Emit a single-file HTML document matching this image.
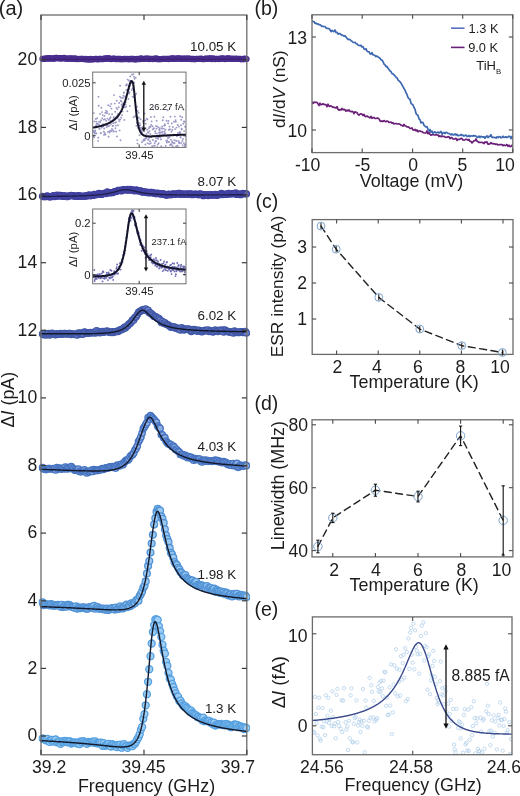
<!DOCTYPE html>
<html><head><meta charset="utf-8"><title>Figure</title><style>html,body{margin:0;padding:0;background:#fff;}svg{display:block;}</style></head><body>
<svg width="520" height="796" viewBox="0 0 520 796" font-family="'Liberation Sans', Arial, Helvetica, sans-serif">
<rect width="520" height="796" fill="#ffffff"/>
<defs><clipPath id="ca"><rect x="38.5" y="15" width="211.5" height="739.8"/></clipPath></defs>
<g clip-path="url(#ca)">
<g fill="#5e44a6" stroke="#4a2c8e" stroke-width="1.3"><circle cx="42.5" cy="58.8" r="2.5"/><circle cx="43.7" cy="58.8" r="2.5"/><circle cx="44.9" cy="58.7" r="2.5"/><circle cx="46.1" cy="58.4" r="2.5"/><circle cx="47.3" cy="58.7" r="2.5"/><circle cx="48.5" cy="58.1" r="2.5"/><circle cx="49.7" cy="58.5" r="2.5"/><circle cx="50.9" cy="58.4" r="2.5"/><circle cx="52.1" cy="58.4" r="2.5"/><circle cx="53.3" cy="58.6" r="2.5"/><circle cx="54.5" cy="58.5" r="2.5"/><circle cx="55.7" cy="58.0" r="2.5"/><circle cx="56.9" cy="57.9" r="2.5"/><circle cx="58.1" cy="58.4" r="2.5"/><circle cx="59.3" cy="58.1" r="2.5"/><circle cx="60.5" cy="58.3" r="2.5"/><circle cx="61.7" cy="58.5" r="2.5"/><circle cx="62.9" cy="58.1" r="2.5"/><circle cx="64.1" cy="58.0" r="2.5"/><circle cx="65.3" cy="58.6" r="2.5"/><circle cx="66.5" cy="58.6" r="2.5"/><circle cx="67.7" cy="58.6" r="2.5"/><circle cx="68.9" cy="58.7" r="2.5"/><circle cx="70.1" cy="58.5" r="2.5"/><circle cx="71.3" cy="58.4" r="2.5"/><circle cx="72.5" cy="58.8" r="2.5"/><circle cx="73.7" cy="58.6" r="2.5"/><circle cx="74.9" cy="58.5" r="2.5"/><circle cx="76.1" cy="59.0" r="2.5"/><circle cx="77.3" cy="58.9" r="2.5"/><circle cx="78.5" cy="59.1" r="2.5"/><circle cx="79.7" cy="58.8" r="2.5"/><circle cx="80.9" cy="58.9" r="2.5"/><circle cx="82.1" cy="58.9" r="2.5"/><circle cx="83.3" cy="58.9" r="2.5"/><circle cx="84.5" cy="59.2" r="2.5"/><circle cx="85.7" cy="59.0" r="2.5"/><circle cx="86.9" cy="59.3" r="2.5"/><circle cx="88.1" cy="59.3" r="2.5"/><circle cx="89.3" cy="59.6" r="2.5"/><circle cx="90.5" cy="58.9" r="2.5"/><circle cx="91.7" cy="59.4" r="2.5"/><circle cx="92.9" cy="59.2" r="2.5"/><circle cx="94.1" cy="59.2" r="2.5"/><circle cx="95.3" cy="58.9" r="2.5"/><circle cx="96.5" cy="59.0" r="2.5"/><circle cx="97.7" cy="59.3" r="2.5"/><circle cx="98.9" cy="59.0" r="2.5"/><circle cx="100.1" cy="59.0" r="2.5"/><circle cx="101.3" cy="58.9" r="2.5"/><circle cx="102.5" cy="59.2" r="2.5"/><circle cx="103.7" cy="58.9" r="2.5"/><circle cx="104.9" cy="58.5" r="2.5"/><circle cx="106.1" cy="58.7" r="2.5"/><circle cx="107.3" cy="58.5" r="2.5"/><circle cx="108.5" cy="58.2" r="2.5"/><circle cx="109.7" cy="58.7" r="2.5"/><circle cx="110.9" cy="59.1" r="2.5"/><circle cx="112.1" cy="58.9" r="2.5"/><circle cx="113.3" cy="58.6" r="2.5"/><circle cx="114.5" cy="58.7" r="2.5"/><circle cx="115.7" cy="59.1" r="2.5"/><circle cx="116.9" cy="59.0" r="2.5"/><circle cx="118.1" cy="58.9" r="2.5"/><circle cx="119.3" cy="59.0" r="2.5"/><circle cx="120.5" cy="59.0" r="2.5"/><circle cx="121.7" cy="59.2" r="2.5"/><circle cx="122.9" cy="59.1" r="2.5"/><circle cx="124.1" cy="59.0" r="2.5"/><circle cx="125.3" cy="58.8" r="2.5"/><circle cx="126.5" cy="59.1" r="2.5"/><circle cx="127.7" cy="58.9" r="2.5"/><circle cx="128.9" cy="59.3" r="2.5"/><circle cx="130.1" cy="58.8" r="2.5"/><circle cx="131.3" cy="59.0" r="2.5"/><circle cx="132.5" cy="59.0" r="2.5"/><circle cx="133.7" cy="58.8" r="2.5"/><circle cx="134.9" cy="59.4" r="2.5"/><circle cx="136.1" cy="59.3" r="2.5"/><circle cx="137.3" cy="58.9" r="2.5"/><circle cx="138.5" cy="59.1" r="2.5"/><circle cx="139.7" cy="59.0" r="2.5"/><circle cx="140.9" cy="58.4" r="2.5"/><circle cx="142.1" cy="58.9" r="2.5"/><circle cx="143.3" cy="58.8" r="2.5"/><circle cx="144.5" cy="58.8" r="2.5"/><circle cx="145.7" cy="58.6" r="2.5"/><circle cx="146.9" cy="58.7" r="2.5"/><circle cx="148.1" cy="58.7" r="2.5"/><circle cx="149.3" cy="59.0" r="2.5"/><circle cx="150.5" cy="58.9" r="2.5"/><circle cx="151.7" cy="58.8" r="2.5"/><circle cx="152.9" cy="59.1" r="2.5"/><circle cx="154.1" cy="58.7" r="2.5"/><circle cx="155.3" cy="58.8" r="2.5"/><circle cx="156.5" cy="58.5" r="2.5"/><circle cx="157.7" cy="59.2" r="2.5"/><circle cx="158.9" cy="59.1" r="2.5"/><circle cx="160.1" cy="59.1" r="2.5"/><circle cx="161.3" cy="59.1" r="2.5"/><circle cx="162.5" cy="58.9" r="2.5"/><circle cx="163.7" cy="58.9" r="2.5"/><circle cx="164.9" cy="58.8" r="2.5"/><circle cx="166.1" cy="58.8" r="2.5"/><circle cx="167.3" cy="58.8" r="2.5"/><circle cx="168.5" cy="59.0" r="2.5"/><circle cx="169.7" cy="58.8" r="2.5"/><circle cx="170.9" cy="58.7" r="2.5"/><circle cx="172.1" cy="58.5" r="2.5"/><circle cx="173.3" cy="58.5" r="2.5"/><circle cx="174.5" cy="58.9" r="2.5"/><circle cx="175.7" cy="58.7" r="2.5"/><circle cx="176.9" cy="58.6" r="2.5"/><circle cx="178.1" cy="58.5" r="2.5"/><circle cx="179.3" cy="58.4" r="2.5"/><circle cx="180.5" cy="58.6" r="2.5"/><circle cx="181.7" cy="58.9" r="2.5"/><circle cx="182.9" cy="58.6" r="2.5"/><circle cx="184.1" cy="58.7" r="2.5"/><circle cx="185.3" cy="58.7" r="2.5"/><circle cx="186.5" cy="58.8" r="2.5"/><circle cx="187.7" cy="58.5" r="2.5"/><circle cx="188.9" cy="58.8" r="2.5"/><circle cx="190.1" cy="58.7" r="2.5"/><circle cx="191.3" cy="59.1" r="2.5"/><circle cx="192.5" cy="58.8" r="2.5"/><circle cx="193.7" cy="59.0" r="2.5"/><circle cx="194.9" cy="59.2" r="2.5"/><circle cx="196.1" cy="58.8" r="2.5"/><circle cx="197.3" cy="58.8" r="2.5"/><circle cx="198.5" cy="58.9" r="2.5"/><circle cx="199.7" cy="58.9" r="2.5"/><circle cx="200.9" cy="58.6" r="2.5"/><circle cx="202.1" cy="58.9" r="2.5"/><circle cx="203.3" cy="59.2" r="2.5"/><circle cx="204.5" cy="58.8" r="2.5"/><circle cx="205.7" cy="58.7" r="2.5"/><circle cx="206.9" cy="58.6" r="2.5"/><circle cx="208.1" cy="58.8" r="2.5"/><circle cx="209.3" cy="58.5" r="2.5"/><circle cx="210.5" cy="58.5" r="2.5"/><circle cx="211.7" cy="59.0" r="2.5"/><circle cx="212.9" cy="58.5" r="2.5"/><circle cx="214.1" cy="58.9" r="2.5"/><circle cx="215.3" cy="59.0" r="2.5"/><circle cx="216.5" cy="58.8" r="2.5"/><circle cx="217.7" cy="58.8" r="2.5"/><circle cx="218.9" cy="59.1" r="2.5"/><circle cx="220.1" cy="58.7" r="2.5"/><circle cx="221.3" cy="58.6" r="2.5"/><circle cx="222.5" cy="58.4" r="2.5"/><circle cx="223.7" cy="58.7" r="2.5"/><circle cx="224.9" cy="59.0" r="2.5"/><circle cx="226.1" cy="58.9" r="2.5"/><circle cx="227.3" cy="58.5" r="2.5"/><circle cx="228.5" cy="58.5" r="2.5"/><circle cx="229.7" cy="58.6" r="2.5"/><circle cx="230.9" cy="58.8" r="2.5"/><circle cx="232.1" cy="58.7" r="2.5"/><circle cx="233.3" cy="58.8" r="2.5"/><circle cx="234.5" cy="58.8" r="2.5"/><circle cx="235.7" cy="58.7" r="2.5"/><circle cx="236.9" cy="58.8" r="2.5"/><circle cx="238.1" cy="58.8" r="2.5"/><circle cx="239.3" cy="58.8" r="2.5"/><circle cx="240.5" cy="59.0" r="2.5"/><circle cx="241.7" cy="59.2" r="2.5"/><circle cx="242.9" cy="59.0" r="2.5"/><circle cx="244.1" cy="59.0" r="2.5"/><circle cx="245.3" cy="58.6" r="2.5"/><circle cx="246.5" cy="59.1" r="2.5"/></g>
<path d="M41.0,59.2 L41.5,59.2 L42.0,59.2 L42.5,59.2 L43.0,59.2 L43.5,59.2 L44.0,59.2 L44.5,59.2 L45.0,59.2 L45.5,59.2 L46.0,59.2 L46.5,59.2 L47.0,59.2 L47.5,59.2 L48.0,59.2 L48.5,59.2 L49.0,59.2 L49.5,59.2 L50.0,59.2 L50.5,59.2 L51.0,59.2 L51.5,59.2 L52.0,59.2 L52.5,59.2 L53.0,59.2 L53.5,59.2 L54.0,59.2 L54.5,59.2 L55.0,59.2 L55.5,59.2 L56.0,59.2 L56.5,59.2 L57.0,59.2 L57.5,59.2 L58.0,59.2 L58.5,59.2 L59.0,59.2 L59.5,59.2 L60.0,59.2 L60.5,59.2 L61.0,59.2 L61.5,59.2 L62.0,59.2 L62.5,59.2 L63.0,59.2 L63.5,59.2 L64.0,59.2 L64.5,59.2 L65.0,59.2 L65.5,59.2 L66.0,59.2 L66.5,59.2 L67.0,59.2 L67.5,59.2 L68.0,59.2 L68.5,59.2 L69.0,59.2 L69.5,59.2 L70.0,59.2 L70.5,59.2 L71.0,59.2 L71.5,59.2 L72.0,59.2 L72.5,59.2 L73.0,59.2 L73.5,59.2 L74.0,59.2 L74.5,59.2 L75.0,59.2 L75.5,59.2 L76.0,59.2 L76.5,59.2 L77.0,59.2 L77.5,59.2 L78.0,59.2 L78.5,59.2 L79.0,59.2 L79.5,59.2 L80.0,59.2 L80.5,59.2 L81.0,59.2 L81.5,59.2 L82.0,59.2 L82.5,59.2 L83.0,59.2 L83.5,59.2 L84.0,59.2 L84.5,59.2 L85.0,59.2 L85.5,59.2 L86.0,59.2 L86.5,59.2 L87.0,59.2 L87.5,59.2 L88.0,59.2 L88.5,59.2 L89.0,59.2 L89.5,59.2 L90.0,59.2 L90.5,59.2 L91.0,59.2 L91.5,59.2 L92.0,59.2 L92.5,59.2 L93.0,59.2 L93.5,59.2 L94.0,59.2 L94.5,59.2 L95.0,59.2 L95.5,59.2 L96.0,59.2 L96.5,59.2 L97.0,59.2 L97.5,59.2 L98.0,59.2 L98.5,59.2 L99.0,59.2 L99.5,59.2 L100.0,59.2 L100.5,59.2 L101.0,59.2 L101.5,59.2 L102.0,59.2 L102.5,59.2 L103.0,59.2 L103.5,59.2 L104.0,59.2 L104.5,59.2 L105.0,59.2 L105.5,59.2 L106.0,59.2 L106.5,59.2 L107.0,59.2 L107.5,59.2 L108.0,59.2 L108.5,59.2 L109.0,59.2 L109.5,59.2 L110.0,59.2 L110.5,59.2 L111.0,59.2 L111.5,59.2 L112.0,59.2 L112.5,59.2 L113.0,59.2 L113.5,59.2 L114.0,59.2 L114.5,59.2 L115.0,59.2 L115.5,59.2 L116.0,59.2 L116.5,59.2 L117.0,59.2 L117.5,59.2 L118.0,59.2 L118.5,59.2 L119.0,59.2 L119.5,59.2 L120.0,59.2 L120.5,59.2 L121.0,59.2 L121.5,59.2 L122.0,59.2 L122.5,59.2 L123.0,59.2 L123.5,59.2 L124.0,59.2 L124.5,59.2 L125.0,59.2 L125.5,59.2 L126.0,59.2 L126.5,59.2 L127.0,59.2 L127.5,59.2 L128.0,59.2 L128.5,59.2 L129.0,59.2 L129.5,59.2 L130.0,59.2 L130.5,59.2 L131.0,59.2 L131.5,59.2 L132.0,59.2 L132.5,59.2 L133.0,59.2 L133.5,59.2 L134.0,59.2 L134.5,59.2 L135.0,59.2 L135.5,59.2 L136.0,59.2 L136.5,59.2 L137.0,59.2 L137.5,59.2 L138.0,59.2 L138.5,59.2 L139.0,59.2 L139.5,59.2 L140.0,59.2 L140.5,59.2 L141.0,59.2 L141.5,59.2 L142.0,59.2 L142.5,59.2 L143.0,59.2 L143.5,59.2 L144.0,59.2 L144.5,59.2 L145.0,59.2 L145.5,59.2 L146.0,59.2 L146.5,59.2 L147.0,59.2 L147.5,59.2 L148.0,59.2 L148.5,59.2 L149.0,59.2 L149.5,59.2 L150.0,59.2 L150.5,59.2 L151.0,59.2 L151.5,59.2 L152.0,59.2 L152.5,59.2 L153.0,59.2 L153.5,59.2 L154.0,59.2 L154.5,59.2 L155.0,59.2 L155.5,59.2 L156.0,59.2 L156.5,59.2 L157.0,59.2 L157.5,59.2 L158.0,59.2 L158.5,59.2 L159.0,59.2 L159.5,59.2 L160.0,59.2 L160.5,59.2 L161.0,59.2 L161.5,59.2 L162.0,59.2 L162.5,59.2 L163.0,59.2 L163.5,59.2 L164.0,59.2 L164.5,59.2 L165.0,59.2 L165.5,59.2 L166.0,59.2 L166.5,59.2 L167.0,59.2 L167.5,59.2 L168.0,59.2 L168.5,59.2 L169.0,59.2 L169.5,59.2 L170.0,59.2 L170.5,59.2 L171.0,59.2 L171.5,59.2 L172.0,59.2 L172.5,59.2 L173.0,59.2 L173.5,59.2 L174.0,59.2 L174.5,59.2 L175.0,59.2 L175.5,59.2 L176.0,59.2 L176.5,59.2 L177.0,59.2 L177.5,59.2 L178.0,59.2 L178.5,59.2 L179.0,59.2 L179.5,59.2 L180.0,59.2 L180.5,59.2 L181.0,59.2 L181.5,59.2 L182.0,59.2 L182.5,59.2 L183.0,59.2 L183.5,59.2 L184.0,59.2 L184.5,59.2 L185.0,59.2 L185.5,59.2 L186.0,59.2 L186.5,59.2 L187.0,59.2 L187.5,59.2 L188.0,59.2 L188.5,59.2 L189.0,59.2 L189.5,59.2 L190.0,59.2 L190.5,59.2 L191.0,59.2 L191.5,59.2 L192.0,59.2 L192.5,59.2 L193.0,59.2 L193.5,59.2 L194.0,59.2 L194.5,59.2 L195.0,59.2 L195.5,59.2 L196.0,59.2 L196.5,59.2 L197.0,59.2 L197.5,59.2 L198.0,59.2 L198.5,59.2 L199.0,59.2 L199.5,59.2 L200.0,59.2 L200.5,59.2 L201.0,59.2 L201.5,59.2 L202.0,59.2 L202.5,59.2 L203.0,59.2 L203.5,59.2 L204.0,59.2 L204.5,59.2 L205.0,59.2 L205.5,59.2 L206.0,59.2 L206.5,59.2 L207.0,59.2 L207.5,59.2 L208.0,59.2 L208.5,59.2 L209.0,59.2 L209.5,59.2 L210.0,59.2 L210.5,59.2 L211.0,59.2 L211.5,59.2 L212.0,59.2 L212.5,59.2 L213.0,59.2 L213.5,59.2 L214.0,59.2 L214.5,59.2 L215.0,59.2 L215.5,59.2 L216.0,59.2 L216.5,59.2 L217.0,59.2 L217.5,59.2 L218.0,59.2 L218.5,59.2 L219.0,59.2 L219.5,59.2 L220.0,59.2 L220.5,59.2 L221.0,59.2 L221.5,59.2 L222.0,59.2 L222.5,59.2 L223.0,59.2 L223.5,59.2 L224.0,59.2 L224.5,59.2 L225.0,59.2 L225.5,59.2 L226.0,59.2 L226.5,59.2 L227.0,59.2 L227.5,59.2 L228.0,59.2 L228.5,59.2 L229.0,59.2 L229.5,59.2 L230.0,59.2 L230.5,59.2 L231.0,59.2 L231.5,59.2 L232.0,59.2 L232.5,59.2 L233.0,59.2 L233.5,59.2 L234.0,59.2 L234.5,59.2 L235.0,59.2 L235.5,59.2 L236.0,59.2 L236.5,59.2 L237.0,59.2 L237.5,59.2 L238.0,59.2 L238.5,59.2 L239.0,59.2 L239.5,59.2 L240.0,59.2 L240.5,59.2 L241.0,59.2 L241.5,59.2 L242.0,59.2 L242.5,59.2 L243.0,59.2 L243.5,59.2 L244.0,59.2 L244.5,59.2 L245.0,59.2 L245.5,59.2 L246.0,59.2 L246.5,59.2" fill="none" stroke="#3c2478" stroke-width="1.4" stroke-linejoin="round" stroke-linecap="round" />
<g fill="#6060b8" stroke="#4040a0" stroke-width="1.3"><circle cx="42.5" cy="196.3" r="3.0"/><circle cx="43.7" cy="196.7" r="3.0"/><circle cx="44.9" cy="196.6" r="3.0"/><circle cx="46.1" cy="196.5" r="3.0"/><circle cx="47.3" cy="195.8" r="3.0"/><circle cx="48.5" cy="196.6" r="3.0"/><circle cx="49.7" cy="196.8" r="3.0"/><circle cx="50.9" cy="196.8" r="3.0"/><circle cx="52.1" cy="196.4" r="3.0"/><circle cx="53.3" cy="195.6" r="3.0"/><circle cx="54.5" cy="196.6" r="3.0"/><circle cx="55.7" cy="196.1" r="3.0"/><circle cx="56.9" cy="195.1" r="3.0"/><circle cx="58.1" cy="196.2" r="3.0"/><circle cx="59.3" cy="195.5" r="3.0"/><circle cx="60.5" cy="195.5" r="3.0"/><circle cx="61.7" cy="195.7" r="3.0"/><circle cx="62.9" cy="196.4" r="3.0"/><circle cx="64.1" cy="195.8" r="3.0"/><circle cx="65.3" cy="196.0" r="3.0"/><circle cx="66.5" cy="196.6" r="3.0"/><circle cx="67.7" cy="196.5" r="3.0"/><circle cx="68.9" cy="195.8" r="3.0"/><circle cx="70.1" cy="195.8" r="3.0"/><circle cx="71.3" cy="195.4" r="3.0"/><circle cx="72.5" cy="195.6" r="3.0"/><circle cx="73.7" cy="196.1" r="3.0"/><circle cx="74.9" cy="196.1" r="3.0"/><circle cx="76.1" cy="196.0" r="3.0"/><circle cx="77.3" cy="196.4" r="3.0"/><circle cx="78.5" cy="195.7" r="3.0"/><circle cx="79.7" cy="196.0" r="3.0"/><circle cx="80.9" cy="196.3" r="3.0"/><circle cx="82.1" cy="196.2" r="3.0"/><circle cx="83.3" cy="196.4" r="3.0"/><circle cx="84.5" cy="196.1" r="3.0"/><circle cx="85.7" cy="195.8" r="3.0"/><circle cx="86.9" cy="196.0" r="3.0"/><circle cx="88.1" cy="195.3" r="3.0"/><circle cx="89.3" cy="195.0" r="3.0"/><circle cx="90.5" cy="195.8" r="3.0"/><circle cx="91.7" cy="195.4" r="3.0"/><circle cx="92.9" cy="195.4" r="3.0"/><circle cx="94.1" cy="194.4" r="3.0"/><circle cx="95.3" cy="194.8" r="3.0"/><circle cx="96.5" cy="194.5" r="3.0"/><circle cx="97.7" cy="194.3" r="3.0"/><circle cx="98.9" cy="193.5" r="3.0"/><circle cx="100.1" cy="194.1" r="3.0"/><circle cx="101.3" cy="194.4" r="3.0"/><circle cx="102.5" cy="194.0" r="3.0"/><circle cx="103.7" cy="193.4" r="3.0"/><circle cx="104.9" cy="193.4" r="3.0"/><circle cx="106.1" cy="193.5" r="3.0"/><circle cx="107.3" cy="191.9" r="3.0"/><circle cx="108.5" cy="192.7" r="3.0"/><circle cx="109.7" cy="192.8" r="3.0"/><circle cx="110.9" cy="192.6" r="3.0"/><circle cx="112.1" cy="192.7" r="3.0"/><circle cx="113.3" cy="192.3" r="3.0"/><circle cx="114.5" cy="191.7" r="3.0"/><circle cx="115.7" cy="191.4" r="3.0"/><circle cx="116.9" cy="191.3" r="3.0"/><circle cx="118.1" cy="190.5" r="3.0"/><circle cx="119.3" cy="190.4" r="3.0"/><circle cx="120.5" cy="190.5" r="3.0"/><circle cx="121.7" cy="190.8" r="3.0"/><circle cx="122.9" cy="189.7" r="3.0"/><circle cx="124.1" cy="189.6" r="3.0"/><circle cx="125.3" cy="189.6" r="3.0"/><circle cx="126.5" cy="190.1" r="3.0"/><circle cx="127.7" cy="189.5" r="3.0"/><circle cx="128.9" cy="190.2" r="3.0"/><circle cx="130.1" cy="189.3" r="3.0"/><circle cx="131.3" cy="189.8" r="3.0"/><circle cx="132.5" cy="190.0" r="3.0"/><circle cx="133.7" cy="190.5" r="3.0"/><circle cx="134.9" cy="190.8" r="3.0"/><circle cx="136.1" cy="190.0" r="3.0"/><circle cx="137.3" cy="190.4" r="3.0"/><circle cx="138.5" cy="191.1" r="3.0"/><circle cx="139.7" cy="190.9" r="3.0"/><circle cx="140.9" cy="190.8" r="3.0"/><circle cx="142.1" cy="192.0" r="3.0"/><circle cx="143.3" cy="191.9" r="3.0"/><circle cx="144.5" cy="192.1" r="3.0"/><circle cx="145.7" cy="191.8" r="3.0"/><circle cx="146.9" cy="192.6" r="3.0"/><circle cx="148.1" cy="192.3" r="3.0"/><circle cx="149.3" cy="192.9" r="3.0"/><circle cx="150.5" cy="192.3" r="3.0"/><circle cx="151.7" cy="192.4" r="3.0"/><circle cx="152.9" cy="193.0" r="3.0"/><circle cx="154.1" cy="192.8" r="3.0"/><circle cx="155.3" cy="193.6" r="3.0"/><circle cx="156.5" cy="193.5" r="3.0"/><circle cx="157.7" cy="193.2" r="3.0"/><circle cx="158.9" cy="193.7" r="3.0"/><circle cx="160.1" cy="193.6" r="3.0"/><circle cx="161.3" cy="194.2" r="3.0"/><circle cx="162.5" cy="193.7" r="3.0"/><circle cx="163.7" cy="193.9" r="3.0"/><circle cx="164.9" cy="194.6" r="3.0"/><circle cx="166.1" cy="195.1" r="3.0"/><circle cx="167.3" cy="195.0" r="3.0"/><circle cx="168.5" cy="194.2" r="3.0"/><circle cx="169.7" cy="194.3" r="3.0"/><circle cx="170.9" cy="194.8" r="3.0"/><circle cx="172.1" cy="194.2" r="3.0"/><circle cx="173.3" cy="193.8" r="3.0"/><circle cx="174.5" cy="194.2" r="3.0"/><circle cx="175.7" cy="194.3" r="3.0"/><circle cx="176.9" cy="193.8" r="3.0"/><circle cx="178.1" cy="193.5" r="3.0"/><circle cx="179.3" cy="193.5" r="3.0"/><circle cx="180.5" cy="194.4" r="3.0"/><circle cx="181.7" cy="193.8" r="3.0"/><circle cx="182.9" cy="194.1" r="3.0"/><circle cx="184.1" cy="194.2" r="3.0"/><circle cx="185.3" cy="194.4" r="3.0"/><circle cx="186.5" cy="194.0" r="3.0"/><circle cx="187.7" cy="194.4" r="3.0"/><circle cx="188.9" cy="193.8" r="3.0"/><circle cx="190.1" cy="194.1" r="3.0"/><circle cx="191.3" cy="193.8" r="3.0"/><circle cx="192.5" cy="194.7" r="3.0"/><circle cx="193.7" cy="194.3" r="3.0"/><circle cx="194.9" cy="194.1" r="3.0"/><circle cx="196.1" cy="194.2" r="3.0"/><circle cx="197.3" cy="194.3" r="3.0"/><circle cx="198.5" cy="194.8" r="3.0"/><circle cx="199.7" cy="193.9" r="3.0"/><circle cx="200.9" cy="194.1" r="3.0"/><circle cx="202.1" cy="194.4" r="3.0"/><circle cx="203.3" cy="195.7" r="3.0"/><circle cx="204.5" cy="195.1" r="3.0"/><circle cx="205.7" cy="194.7" r="3.0"/><circle cx="206.9" cy="195.0" r="3.0"/><circle cx="208.1" cy="195.6" r="3.0"/><circle cx="209.3" cy="194.6" r="3.0"/><circle cx="210.5" cy="194.6" r="3.0"/><circle cx="211.7" cy="195.2" r="3.0"/><circle cx="212.9" cy="194.9" r="3.0"/><circle cx="214.1" cy="194.9" r="3.0"/><circle cx="215.3" cy="194.4" r="3.0"/><circle cx="216.5" cy="195.3" r="3.0"/><circle cx="217.7" cy="195.1" r="3.0"/><circle cx="218.9" cy="194.6" r="3.0"/><circle cx="220.1" cy="194.6" r="3.0"/><circle cx="221.3" cy="193.5" r="3.0"/><circle cx="222.5" cy="194.5" r="3.0"/><circle cx="223.7" cy="194.1" r="3.0"/><circle cx="224.9" cy="194.3" r="3.0"/><circle cx="226.1" cy="194.4" r="3.0"/><circle cx="227.3" cy="193.9" r="3.0"/><circle cx="228.5" cy="193.3" r="3.0"/><circle cx="229.7" cy="194.1" r="3.0"/><circle cx="230.9" cy="193.6" r="3.0"/><circle cx="232.1" cy="193.8" r="3.0"/><circle cx="233.3" cy="193.6" r="3.0"/><circle cx="234.5" cy="193.7" r="3.0"/><circle cx="235.7" cy="193.0" r="3.0"/><circle cx="236.9" cy="194.4" r="3.0"/><circle cx="238.1" cy="194.0" r="3.0"/><circle cx="239.3" cy="194.4" r="3.0"/><circle cx="240.5" cy="194.7" r="3.0"/><circle cx="241.7" cy="194.0" r="3.0"/><circle cx="242.9" cy="193.3" r="3.0"/><circle cx="244.1" cy="193.7" r="3.0"/><circle cx="245.3" cy="193.6" r="3.0"/><circle cx="246.5" cy="193.9" r="3.0"/></g>
<path d="M41.0,196.6 L41.5,196.6 L42.0,196.6 L42.5,196.6 L43.0,196.6 L43.5,196.6 L44.0,196.5 L44.5,196.5 L45.0,196.5 L45.5,196.5 L46.0,196.5 L46.5,196.5 L47.0,196.5 L47.5,196.5 L48.0,196.5 L48.5,196.5 L49.0,196.5 L49.5,196.5 L50.0,196.5 L50.5,196.5 L51.0,196.4 L51.5,196.4 L52.0,196.4 L52.5,196.4 L53.0,196.4 L53.5,196.4 L54.0,196.4 L54.5,196.4 L55.0,196.4 L55.5,196.4 L56.0,196.4 L56.5,196.4 L57.0,196.4 L57.5,196.3 L58.0,196.3 L58.5,196.3 L59.0,196.3 L59.5,196.3 L60.0,196.3 L60.5,196.3 L61.0,196.3 L61.5,196.3 L62.0,196.3 L62.5,196.3 L63.0,196.3 L63.5,196.2 L64.0,196.2 L64.5,196.2 L65.0,196.2 L65.5,196.2 L66.0,196.2 L66.5,196.2 L67.0,196.2 L67.5,196.2 L68.0,196.2 L68.5,196.1 L69.0,196.1 L69.5,196.1 L70.0,196.1 L70.5,196.1 L71.0,196.1 L71.5,196.1 L72.0,196.1 L72.5,196.1 L73.0,196.0 L73.5,196.0 L74.0,196.0 L74.5,196.0 L75.0,196.0 L75.5,196.0 L76.0,196.0 L76.5,195.9 L77.0,195.9 L77.5,195.9 L78.0,195.9 L78.5,195.9 L79.0,195.9 L79.5,195.9 L80.0,195.8 L80.5,195.8 L81.0,195.8 L81.5,195.8 L82.0,195.8 L82.5,195.8 L83.0,195.7 L83.5,195.7 L84.0,195.7 L84.5,195.7 L85.0,195.7 L85.5,195.6 L86.0,195.6 L86.5,195.6 L87.0,195.6 L87.5,195.5 L88.0,195.5 L88.5,195.5 L89.0,195.5 L89.5,195.4 L90.0,195.4 L90.5,195.4 L91.0,195.4 L91.5,195.3 L92.0,195.3 L92.5,195.3 L93.0,195.2 L93.5,195.2 L94.0,195.2 L94.5,195.1 L95.0,195.1 L95.5,195.1 L96.0,195.0 L96.5,195.0 L97.0,194.9 L97.5,194.9 L98.0,194.9 L98.5,194.8 L99.0,194.8 L99.5,194.7 L100.0,194.7 L100.5,194.6 L101.0,194.6 L101.5,194.5 L102.0,194.4 L102.5,194.4 L103.0,194.3 L103.5,194.2 L104.0,194.2 L104.5,194.1 L105.0,194.0 L105.5,194.0 L106.0,193.9 L106.5,193.8 L107.0,193.7 L107.5,193.6 L108.0,193.5 L108.5,193.4 L109.0,193.3 L109.5,193.2 L110.0,193.1 L110.5,193.0 L111.0,192.9 L111.5,192.8 L112.0,192.6 L112.5,192.5 L113.0,192.4 L113.5,192.3 L114.0,192.1 L114.5,192.0 L115.0,191.8 L115.5,191.7 L116.0,191.6 L116.5,191.4 L117.0,191.3 L117.5,191.1 L118.0,191.0 L118.5,190.8 L119.0,190.7 L119.5,190.6 L120.0,190.4 L120.5,190.3 L121.0,190.2 L121.5,190.1 L122.0,190.0 L122.5,189.9 L123.0,189.8 L123.5,189.8 L124.0,189.7 L124.5,189.7 L125.0,189.7 L125.5,189.7 L126.0,189.7 L126.5,189.7 L127.0,189.7 L127.5,189.8 L128.0,189.8 L128.5,189.9 L129.0,189.9 L129.5,190.0 L130.0,190.1 L130.5,190.2 L131.0,190.3 L131.5,190.4 L132.0,190.5 L132.5,190.6 L133.0,190.7 L133.5,190.9 L134.0,191.0 L134.5,191.1 L135.0,191.2 L135.5,191.3 L136.0,191.4 L136.5,191.6 L137.0,191.7 L137.5,191.8 L138.0,191.9 L138.5,192.0 L139.0,192.1 L139.5,192.2 L140.0,192.3 L140.5,192.4 L141.0,192.5 L141.5,192.6 L142.0,192.7 L142.5,192.8 L143.0,192.9 L143.5,193.0 L144.0,193.0 L144.5,193.1 L145.0,193.2 L145.5,193.2 L146.0,193.3 L146.5,193.4 L147.0,193.4 L147.5,193.5 L148.0,193.6 L148.5,193.6 L149.0,193.7 L149.5,193.7 L150.0,193.8 L150.5,193.8 L151.0,193.9 L151.5,193.9 L152.0,194.0 L152.5,194.0 L153.0,194.0 L153.5,194.1 L154.0,194.1 L154.5,194.1 L155.0,194.2 L155.5,194.2 L156.0,194.2 L156.5,194.3 L157.0,194.3 L157.5,194.3 L158.0,194.4 L158.5,194.4 L159.0,194.4 L159.5,194.4 L160.0,194.4 L160.5,194.5 L161.0,194.5 L161.5,194.5 L162.0,194.5 L162.5,194.5 L163.0,194.6 L163.5,194.6 L164.0,194.6 L164.5,194.6 L165.0,194.6 L165.5,194.6 L166.0,194.7 L166.5,194.7 L167.0,194.7 L167.5,194.7 L168.0,194.7 L168.5,194.7 L169.0,194.7 L169.5,194.7 L170.0,194.8 L170.5,194.8 L171.0,194.8 L171.5,194.8 L172.0,194.8 L172.5,194.8 L173.0,194.8 L173.5,194.8 L174.0,194.8 L174.5,194.8 L175.0,194.8 L175.5,194.9 L176.0,194.9 L176.5,194.9 L177.0,194.9 L177.5,194.9 L178.0,194.9 L178.5,194.9 L179.0,194.9 L179.5,194.9 L180.0,194.9 L180.5,194.9 L181.0,194.9 L181.5,194.9 L182.0,194.9 L182.5,194.9 L183.0,194.9 L183.5,194.9 L184.0,194.9 L184.5,194.9 L185.0,194.9 L185.5,194.9 L186.0,194.9 L186.5,194.9 L187.0,194.9 L187.5,194.9 L188.0,194.9 L188.5,194.9 L189.0,195.0 L189.5,195.0 L190.0,195.0 L190.5,195.0 L191.0,195.0 L191.5,195.0 L192.0,195.0 L192.5,195.0 L193.0,195.0 L193.5,195.0 L194.0,195.0 L194.5,195.0 L195.0,195.0 L195.5,195.0 L196.0,195.0 L196.5,195.0 L197.0,195.0 L197.5,195.0 L198.0,195.0 L198.5,195.0 L199.0,195.0 L199.5,195.0 L200.0,195.0 L200.5,195.0 L201.0,195.0 L201.5,195.0 L202.0,195.0 L202.5,195.0 L203.0,195.0 L203.5,195.0 L204.0,195.0 L204.5,194.9 L205.0,194.9 L205.5,194.9 L206.0,194.9 L206.5,194.9 L207.0,194.9 L207.5,194.9 L208.0,194.9 L208.5,194.9 L209.0,194.9 L209.5,194.9 L210.0,194.9 L210.5,194.9 L211.0,194.9 L211.5,194.9 L212.0,194.9 L212.5,194.9 L213.0,194.9 L213.5,194.9 L214.0,194.9 L214.5,194.9 L215.0,194.9 L215.5,194.9 L216.0,194.9 L216.5,194.9 L217.0,194.9 L217.5,194.9 L218.0,194.9 L218.5,194.9 L219.0,194.9 L219.5,194.9 L220.0,194.9 L220.5,194.9 L221.0,194.9 L221.5,194.9 L222.0,194.9 L222.5,194.9 L223.0,194.9 L223.5,194.9 L224.0,194.9 L224.5,194.9 L225.0,194.9 L225.5,194.9 L226.0,194.9 L226.5,194.9 L227.0,194.9 L227.5,194.9 L228.0,194.8 L228.5,194.8 L229.0,194.8 L229.5,194.8 L230.0,194.8 L230.5,194.8 L231.0,194.8 L231.5,194.8 L232.0,194.8 L232.5,194.8 L233.0,194.8 L233.5,194.8 L234.0,194.8 L234.5,194.8 L235.0,194.8 L235.5,194.8 L236.0,194.8 L236.5,194.8 L237.0,194.8 L237.5,194.8 L238.0,194.8 L238.5,194.8 L239.0,194.8 L239.5,194.8 L240.0,194.8 L240.5,194.8 L241.0,194.8 L241.5,194.8 L242.0,194.8 L242.5,194.8 L243.0,194.8 L243.5,194.7 L244.0,194.7 L244.5,194.7 L245.0,194.7 L245.5,194.7 L246.0,194.7 L246.5,194.7" fill="none" stroke="#202050" stroke-width="1.4" stroke-linejoin="round" stroke-linecap="round" />
<g fill="#7a8ed0" stroke="#4258a8" stroke-width="1.3"><circle cx="42.5" cy="333.9" r="3.1"/><circle cx="43.7" cy="334.8" r="3.1"/><circle cx="44.9" cy="333.4" r="3.1"/><circle cx="46.1" cy="335.0" r="3.1"/><circle cx="47.3" cy="333.9" r="3.1"/><circle cx="48.5" cy="333.6" r="3.1"/><circle cx="49.7" cy="335.0" r="3.1"/><circle cx="50.9" cy="334.1" r="3.1"/><circle cx="52.1" cy="333.3" r="3.1"/><circle cx="53.3" cy="333.8" r="3.1"/><circle cx="54.5" cy="334.6" r="3.1"/><circle cx="55.7" cy="334.7" r="3.1"/><circle cx="56.9" cy="333.8" r="3.1"/><circle cx="58.1" cy="334.2" r="3.1"/><circle cx="59.3" cy="334.3" r="3.1"/><circle cx="60.5" cy="333.5" r="3.1"/><circle cx="61.7" cy="334.2" r="3.1"/><circle cx="62.9" cy="334.0" r="3.1"/><circle cx="64.1" cy="333.6" r="3.1"/><circle cx="65.3" cy="333.6" r="3.1"/><circle cx="66.5" cy="334.0" r="3.1"/><circle cx="67.7" cy="334.0" r="3.1"/><circle cx="68.9" cy="333.6" r="3.1"/><circle cx="70.1" cy="333.6" r="3.1"/><circle cx="71.3" cy="334.5" r="3.1"/><circle cx="72.5" cy="334.0" r="3.1"/><circle cx="73.7" cy="334.3" r="3.1"/><circle cx="74.9" cy="334.4" r="3.1"/><circle cx="76.1" cy="334.0" r="3.1"/><circle cx="77.3" cy="334.9" r="3.1"/><circle cx="78.5" cy="333.0" r="3.1"/><circle cx="79.7" cy="333.8" r="3.1"/><circle cx="80.9" cy="333.1" r="3.1"/><circle cx="82.1" cy="334.3" r="3.1"/><circle cx="83.3" cy="334.1" r="3.1"/><circle cx="84.5" cy="331.9" r="3.1"/><circle cx="85.7" cy="332.4" r="3.1"/><circle cx="86.9" cy="333.2" r="3.1"/><circle cx="88.1" cy="333.2" r="3.1"/><circle cx="89.3" cy="333.1" r="3.1"/><circle cx="90.5" cy="332.5" r="3.1"/><circle cx="91.7" cy="332.7" r="3.1"/><circle cx="92.9" cy="332.8" r="3.1"/><circle cx="94.1" cy="332.3" r="3.1"/><circle cx="95.3" cy="332.9" r="3.1"/><circle cx="96.5" cy="330.8" r="3.1"/><circle cx="97.7" cy="332.5" r="3.1"/><circle cx="98.9" cy="331.5" r="3.1"/><circle cx="100.1" cy="332.7" r="3.1"/><circle cx="101.3" cy="331.9" r="3.1"/><circle cx="102.5" cy="331.5" r="3.1"/><circle cx="103.7" cy="332.3" r="3.1"/><circle cx="104.9" cy="331.5" r="3.1"/><circle cx="106.1" cy="331.5" r="3.1"/><circle cx="107.3" cy="331.1" r="3.1"/><circle cx="108.5" cy="332.0" r="3.1"/><circle cx="109.7" cy="332.3" r="3.1"/><circle cx="110.9" cy="332.6" r="3.1"/><circle cx="112.1" cy="331.8" r="3.1"/><circle cx="113.3" cy="332.5" r="3.1"/><circle cx="114.5" cy="331.7" r="3.1"/><circle cx="115.7" cy="331.4" r="3.1"/><circle cx="116.9" cy="331.6" r="3.1"/><circle cx="118.1" cy="331.5" r="3.1"/><circle cx="119.3" cy="330.3" r="3.1"/><circle cx="120.5" cy="329.9" r="3.1"/><circle cx="121.7" cy="329.4" r="3.1"/><circle cx="122.9" cy="328.9" r="3.1"/><circle cx="124.1" cy="327.6" r="3.1"/><circle cx="125.3" cy="327.9" r="3.1"/><circle cx="126.5" cy="326.2" r="3.1"/><circle cx="127.7" cy="325.7" r="3.1"/><circle cx="128.9" cy="323.9" r="3.1"/><circle cx="130.1" cy="323.4" r="3.1"/><circle cx="131.3" cy="322.1" r="3.1"/><circle cx="132.5" cy="320.1" r="3.1"/><circle cx="133.7" cy="320.1" r="3.1"/><circle cx="134.9" cy="317.6" r="3.1"/><circle cx="136.1" cy="316.8" r="3.1"/><circle cx="137.3" cy="314.8" r="3.1"/><circle cx="138.5" cy="312.4" r="3.1"/><circle cx="139.7" cy="311.4" r="3.1"/><circle cx="140.9" cy="310.9" r="3.1"/><circle cx="142.1" cy="310.0" r="3.1"/><circle cx="143.3" cy="309.7" r="3.1"/><circle cx="144.5" cy="309.5" r="3.1"/><circle cx="145.7" cy="309.0" r="3.1"/><circle cx="146.9" cy="310.7" r="3.1"/><circle cx="148.1" cy="310.2" r="3.1"/><circle cx="149.3" cy="312.7" r="3.1"/><circle cx="150.5" cy="313.0" r="3.1"/><circle cx="151.7" cy="314.0" r="3.1"/><circle cx="152.9" cy="315.3" r="3.1"/><circle cx="154.1" cy="316.5" r="3.1"/><circle cx="155.3" cy="316.5" r="3.1"/><circle cx="156.5" cy="317.2" r="3.1"/><circle cx="157.7" cy="318.4" r="3.1"/><circle cx="158.9" cy="318.6" r="3.1"/><circle cx="160.1" cy="320.1" r="3.1"/><circle cx="161.3" cy="322.4" r="3.1"/><circle cx="162.5" cy="321.5" r="3.1"/><circle cx="163.7" cy="323.2" r="3.1"/><circle cx="164.9" cy="322.7" r="3.1"/><circle cx="166.1" cy="324.3" r="3.1"/><circle cx="167.3" cy="324.4" r="3.1"/><circle cx="168.5" cy="325.2" r="3.1"/><circle cx="169.7" cy="326.1" r="3.1"/><circle cx="170.9" cy="327.2" r="3.1"/><circle cx="172.1" cy="326.8" r="3.1"/><circle cx="173.3" cy="327.1" r="3.1"/><circle cx="174.5" cy="326.9" r="3.1"/><circle cx="175.7" cy="328.2" r="3.1"/><circle cx="176.9" cy="327.9" r="3.1"/><circle cx="178.1" cy="328.9" r="3.1"/><circle cx="179.3" cy="328.6" r="3.1"/><circle cx="180.5" cy="329.9" r="3.1"/><circle cx="181.7" cy="327.8" r="3.1"/><circle cx="182.9" cy="329.0" r="3.1"/><circle cx="184.1" cy="329.9" r="3.1"/><circle cx="185.3" cy="329.2" r="3.1"/><circle cx="186.5" cy="329.0" r="3.1"/><circle cx="187.7" cy="329.5" r="3.1"/><circle cx="188.9" cy="329.0" r="3.1"/><circle cx="190.1" cy="329.9" r="3.1"/><circle cx="191.3" cy="331.4" r="3.1"/><circle cx="192.5" cy="330.8" r="3.1"/><circle cx="193.7" cy="329.6" r="3.1"/><circle cx="194.9" cy="329.8" r="3.1"/><circle cx="196.1" cy="330.3" r="3.1"/><circle cx="197.3" cy="331.3" r="3.1"/><circle cx="198.5" cy="330.3" r="3.1"/><circle cx="199.7" cy="330.5" r="3.1"/><circle cx="200.9" cy="331.6" r="3.1"/><circle cx="202.1" cy="331.7" r="3.1"/><circle cx="203.3" cy="331.0" r="3.1"/><circle cx="204.5" cy="330.6" r="3.1"/><circle cx="205.7" cy="330.3" r="3.1"/><circle cx="206.9" cy="330.9" r="3.1"/><circle cx="208.1" cy="329.9" r="3.1"/><circle cx="209.3" cy="331.6" r="3.1"/><circle cx="210.5" cy="330.7" r="3.1"/><circle cx="211.7" cy="331.3" r="3.1"/><circle cx="212.9" cy="332.1" r="3.1"/><circle cx="214.1" cy="331.5" r="3.1"/><circle cx="215.3" cy="330.1" r="3.1"/><circle cx="216.5" cy="331.3" r="3.1"/><circle cx="217.7" cy="331.5" r="3.1"/><circle cx="218.9" cy="330.4" r="3.1"/><circle cx="220.1" cy="330.3" r="3.1"/><circle cx="221.3" cy="330.9" r="3.1"/><circle cx="222.5" cy="330.1" r="3.1"/><circle cx="223.7" cy="332.1" r="3.1"/><circle cx="224.9" cy="329.9" r="3.1"/><circle cx="226.1" cy="330.8" r="3.1"/><circle cx="227.3" cy="331.5" r="3.1"/><circle cx="228.5" cy="331.7" r="3.1"/><circle cx="229.7" cy="332.1" r="3.1"/><circle cx="230.9" cy="332.2" r="3.1"/><circle cx="232.1" cy="332.1" r="3.1"/><circle cx="233.3" cy="333.0" r="3.1"/><circle cx="234.5" cy="331.1" r="3.1"/><circle cx="235.7" cy="332.4" r="3.1"/><circle cx="236.9" cy="331.9" r="3.1"/><circle cx="238.1" cy="332.4" r="3.1"/><circle cx="239.3" cy="332.4" r="3.1"/><circle cx="240.5" cy="331.7" r="3.1"/><circle cx="241.7" cy="331.8" r="3.1"/><circle cx="242.9" cy="332.6" r="3.1"/><circle cx="244.1" cy="332.3" r="3.1"/><circle cx="245.3" cy="331.6" r="3.1"/><circle cx="246.5" cy="333.1" r="3.1"/></g>
<path d="M41.0,333.8 L41.5,333.8 L42.0,333.8 L42.5,333.8 L43.0,333.8 L43.5,333.8 L44.0,333.8 L44.5,333.8 L45.0,333.8 L45.5,333.8 L46.0,333.8 L46.5,333.8 L47.0,333.8 L47.5,333.8 L48.0,333.8 L48.5,333.8 L49.0,333.8 L49.5,333.8 L50.0,333.8 L50.5,333.8 L51.0,333.8 L51.5,333.8 L52.0,333.8 L52.5,333.8 L53.0,333.8 L53.5,333.8 L54.0,333.8 L54.5,333.8 L55.0,333.8 L55.5,333.8 L56.0,333.8 L56.5,333.8 L57.0,333.8 L57.5,333.8 L58.0,333.8 L58.5,333.8 L59.0,333.8 L59.5,333.8 L60.0,333.8 L60.5,333.8 L61.0,333.8 L61.5,333.8 L62.0,333.8 L62.5,333.8 L63.0,333.8 L63.5,333.8 L64.0,333.8 L64.5,333.8 L65.0,333.8 L65.5,333.8 L66.0,333.8 L66.5,333.8 L67.0,333.8 L67.5,333.8 L68.0,333.8 L68.5,333.8 L69.0,333.8 L69.5,333.8 L70.0,333.8 L70.5,333.8 L71.0,333.8 L71.5,333.8 L72.0,333.8 L72.5,333.8 L73.0,333.8 L73.5,333.8 L74.0,333.8 L74.5,333.8 L75.0,333.8 L75.5,333.8 L76.0,333.8 L76.5,333.8 L77.0,333.8 L77.5,333.8 L78.0,333.8 L78.5,333.8 L79.0,333.8 L79.5,333.8 L80.0,333.8 L80.5,333.8 L81.0,333.8 L81.5,333.8 L82.0,333.8 L82.5,333.8 L83.0,333.8 L83.5,333.8 L84.0,333.8 L84.5,333.7 L85.0,333.7 L85.5,333.7 L86.0,333.7 L86.5,333.7 L87.0,333.7 L87.5,333.7 L88.0,333.7 L88.5,333.7 L89.0,333.7 L89.5,333.7 L90.0,333.7 L90.5,333.7 L91.0,333.7 L91.5,333.6 L92.0,333.6 L92.5,333.6 L93.0,333.6 L93.5,333.6 L94.0,333.6 L94.5,333.6 L95.0,333.6 L95.5,333.5 L96.0,333.5 L96.5,333.5 L97.0,333.5 L97.5,333.5 L98.0,333.5 L98.5,333.4 L99.0,333.4 L99.5,333.4 L100.0,333.4 L100.5,333.4 L101.0,333.3 L101.5,333.3 L102.0,333.3 L102.5,333.3 L103.0,333.2 L103.5,333.2 L104.0,333.2 L104.5,333.1 L105.0,333.1 L105.5,333.1 L106.0,333.0 L106.5,333.0 L107.0,332.9 L107.5,332.9 L108.0,332.8 L108.5,332.8 L109.0,332.7 L109.5,332.7 L110.0,332.6 L110.5,332.5 L111.0,332.5 L111.5,332.4 L112.0,332.3 L112.5,332.3 L113.0,332.2 L113.5,332.1 L114.0,332.0 L114.5,331.9 L115.0,331.8 L115.5,331.7 L116.0,331.6 L116.5,331.5 L117.0,331.3 L117.5,331.2 L118.0,331.1 L118.5,330.9 L119.0,330.7 L119.5,330.6 L120.0,330.4 L120.5,330.2 L121.0,330.0 L121.5,329.8 L122.0,329.6 L122.5,329.3 L123.0,329.1 L123.5,328.8 L124.0,328.5 L124.5,328.2 L125.0,327.9 L125.5,327.6 L126.0,327.2 L126.5,326.8 L127.0,326.4 L127.5,326.0 L128.0,325.6 L128.5,325.1 L129.0,324.6 L129.5,324.1 L130.0,323.6 L130.5,323.0 L131.0,322.4 L131.5,321.8 L132.0,321.2 L132.5,320.5 L133.0,319.9 L133.5,319.2 L134.0,318.5 L134.5,317.8 L135.0,317.1 L135.5,316.4 L136.0,315.7 L136.5,315.0 L137.0,314.3 L137.5,313.7 L138.0,313.1 L138.5,312.6 L139.0,312.1 L139.5,311.6 L140.0,311.2 L140.5,310.9 L141.0,310.6 L141.5,310.4 L142.0,310.3 L142.5,310.3 L143.0,310.3 L143.5,310.4 L144.0,310.6 L144.5,310.8 L145.0,311.1 L145.5,311.5 L146.0,311.9 L146.5,312.3 L147.0,312.7 L147.5,313.2 L148.0,313.7 L148.5,314.2 L149.0,314.7 L149.5,315.2 L150.0,315.7 L150.5,316.2 L151.0,316.6 L151.5,317.1 L152.0,317.6 L152.5,318.0 L153.0,318.5 L153.5,318.9 L154.0,319.3 L154.5,319.8 L155.0,320.1 L155.5,320.5 L156.0,320.9 L156.5,321.2 L157.0,321.6 L157.5,321.9 L158.0,322.2 L158.5,322.5 L159.0,322.8 L159.5,323.1 L160.0,323.4 L160.5,323.6 L161.0,323.9 L161.5,324.1 L162.0,324.3 L162.5,324.6 L163.0,324.8 L163.5,325.0 L164.0,325.2 L164.5,325.4 L165.0,325.5 L165.5,325.7 L166.0,325.9 L166.5,326.0 L167.0,326.2 L167.5,326.3 L168.0,326.5 L168.5,326.6 L169.0,326.8 L169.5,326.9 L170.0,327.0 L170.5,327.1 L171.0,327.3 L171.5,327.4 L172.0,327.5 L172.5,327.6 L173.0,327.7 L173.5,327.8 L174.0,327.9 L174.5,328.0 L175.0,328.1 L175.5,328.2 L176.0,328.2 L176.5,328.3 L177.0,328.4 L177.5,328.5 L178.0,328.6 L178.5,328.6 L179.0,328.7 L179.5,328.8 L180.0,328.8 L180.5,328.9 L181.0,329.0 L181.5,329.0 L182.0,329.1 L182.5,329.1 L183.0,329.2 L183.5,329.3 L184.0,329.3 L184.5,329.4 L185.0,329.4 L185.5,329.5 L186.0,329.5 L186.5,329.6 L187.0,329.6 L187.5,329.7 L188.0,329.7 L188.5,329.7 L189.0,329.8 L189.5,329.8 L190.0,329.9 L190.5,329.9 L191.0,329.9 L191.5,330.0 L192.0,330.0 L192.5,330.0 L193.0,330.1 L193.5,330.1 L194.0,330.2 L194.5,330.2 L195.0,330.2 L195.5,330.2 L196.0,330.3 L196.5,330.3 L197.0,330.3 L197.5,330.4 L198.0,330.4 L198.5,330.4 L199.0,330.4 L199.5,330.5 L200.0,330.5 L200.5,330.5 L201.0,330.5 L201.5,330.6 L202.0,330.6 L202.5,330.6 L203.0,330.6 L203.5,330.7 L204.0,330.7 L204.5,330.7 L205.0,330.7 L205.5,330.8 L206.0,330.8 L206.5,330.8 L207.0,330.8 L207.5,330.8 L208.0,330.9 L208.5,330.9 L209.0,330.9 L209.5,330.9 L210.0,330.9 L210.5,330.9 L211.0,331.0 L211.5,331.0 L212.0,331.0 L212.5,331.0 L213.0,331.0 L213.5,331.0 L214.0,331.1 L214.5,331.1 L215.0,331.1 L215.5,331.1 L216.0,331.1 L216.5,331.1 L217.0,331.1 L217.5,331.2 L218.0,331.2 L218.5,331.2 L219.0,331.2 L219.5,331.2 L220.0,331.2 L220.5,331.2 L221.0,331.3 L221.5,331.3 L222.0,331.3 L222.5,331.3 L223.0,331.3 L223.5,331.3 L224.0,331.3 L224.5,331.3 L225.0,331.3 L225.5,331.4 L226.0,331.4 L226.5,331.4 L227.0,331.4 L227.5,331.4 L228.0,331.4 L228.5,331.4 L229.0,331.4 L229.5,331.4 L230.0,331.4 L230.5,331.5 L231.0,331.5 L231.5,331.5 L232.0,331.5 L232.5,331.5 L233.0,331.5 L233.5,331.5 L234.0,331.5 L234.5,331.5 L235.0,331.5 L235.5,331.5 L236.0,331.6 L236.5,331.6 L237.0,331.6 L237.5,331.6 L238.0,331.6 L238.5,331.6 L239.0,331.6 L239.5,331.6 L240.0,331.6 L240.5,331.6 L241.0,331.6 L241.5,331.6 L242.0,331.6 L242.5,331.7 L243.0,331.7 L243.5,331.7 L244.0,331.7 L244.5,331.7 L245.0,331.7 L245.5,331.7 L246.0,331.7 L246.5,331.7" fill="none" stroke="#141a2c" stroke-width="1.4" stroke-linejoin="round" stroke-linecap="round" />
<g fill="#8eaee2" stroke="#4673c0" stroke-width="1.3"><circle cx="42.5" cy="467.7" r="3.2"/><circle cx="43.7" cy="469.1" r="3.2"/><circle cx="44.9" cy="468.8" r="3.2"/><circle cx="46.1" cy="469.6" r="3.2"/><circle cx="47.3" cy="469.1" r="3.2"/><circle cx="48.5" cy="468.5" r="3.2"/><circle cx="49.7" cy="468.5" r="3.2"/><circle cx="50.9" cy="468.8" r="3.2"/><circle cx="52.1" cy="468.9" r="3.2"/><circle cx="53.3" cy="468.5" r="3.2"/><circle cx="54.5" cy="468.9" r="3.2"/><circle cx="55.7" cy="470.0" r="3.2"/><circle cx="56.9" cy="467.6" r="3.2"/><circle cx="58.1" cy="468.9" r="3.2"/><circle cx="59.3" cy="468.0" r="3.2"/><circle cx="60.5" cy="468.7" r="3.2"/><circle cx="61.7" cy="469.1" r="3.2"/><circle cx="62.9" cy="468.3" r="3.2"/><circle cx="64.1" cy="468.7" r="3.2"/><circle cx="65.3" cy="467.0" r="3.2"/><circle cx="66.5" cy="468.9" r="3.2"/><circle cx="67.7" cy="467.7" r="3.2"/><circle cx="68.9" cy="468.6" r="3.2"/><circle cx="70.1" cy="468.4" r="3.2"/><circle cx="71.3" cy="466.7" r="3.2"/><circle cx="72.5" cy="468.1" r="3.2"/><circle cx="73.7" cy="469.1" r="3.2"/><circle cx="74.9" cy="470.3" r="3.2"/><circle cx="76.1" cy="469.7" r="3.2"/><circle cx="77.3" cy="470.0" r="3.2"/><circle cx="78.5" cy="469.1" r="3.2"/><circle cx="79.7" cy="471.4" r="3.2"/><circle cx="80.9" cy="471.8" r="3.2"/><circle cx="82.1" cy="470.8" r="3.2"/><circle cx="83.3" cy="470.8" r="3.2"/><circle cx="84.5" cy="469.9" r="3.2"/><circle cx="85.7" cy="471.7" r="3.2"/><circle cx="86.9" cy="473.0" r="3.2"/><circle cx="88.1" cy="471.6" r="3.2"/><circle cx="89.3" cy="471.9" r="3.2"/><circle cx="90.5" cy="471.2" r="3.2"/><circle cx="91.7" cy="470.0" r="3.2"/><circle cx="92.9" cy="471.5" r="3.2"/><circle cx="94.1" cy="469.6" r="3.2"/><circle cx="95.3" cy="470.1" r="3.2"/><circle cx="96.5" cy="470.3" r="3.2"/><circle cx="97.7" cy="470.6" r="3.2"/><circle cx="98.9" cy="470.1" r="3.2"/><circle cx="100.1" cy="469.9" r="3.2"/><circle cx="101.3" cy="469.0" r="3.2"/><circle cx="102.5" cy="468.5" r="3.2"/><circle cx="103.7" cy="469.3" r="3.2"/><circle cx="104.9" cy="468.5" r="3.2"/><circle cx="106.1" cy="467.9" r="3.2"/><circle cx="107.3" cy="467.8" r="3.2"/><circle cx="108.5" cy="468.0" r="3.2"/><circle cx="109.7" cy="466.9" r="3.2"/><circle cx="110.9" cy="467.0" r="3.2"/><circle cx="112.1" cy="466.5" r="3.2"/><circle cx="113.3" cy="467.4" r="3.2"/><circle cx="114.5" cy="467.3" r="3.2"/><circle cx="115.7" cy="468.1" r="3.2"/><circle cx="116.9" cy="465.3" r="3.2"/><circle cx="118.1" cy="465.4" r="3.2"/><circle cx="119.3" cy="466.0" r="3.2"/><circle cx="120.5" cy="464.7" r="3.2"/><circle cx="121.7" cy="464.0" r="3.2"/><circle cx="122.9" cy="464.8" r="3.2"/><circle cx="124.1" cy="462.6" r="3.2"/><circle cx="125.3" cy="461.2" r="3.2"/><circle cx="126.5" cy="460.1" r="3.2"/><circle cx="127.7" cy="460.2" r="3.2"/><circle cx="128.9" cy="459.0" r="3.2"/><circle cx="130.1" cy="456.5" r="3.2"/><circle cx="131.3" cy="455.3" r="3.2"/><circle cx="132.5" cy="454.7" r="3.2"/><circle cx="133.7" cy="452.9" r="3.2"/><circle cx="134.9" cy="450.0" r="3.2"/><circle cx="136.1" cy="448.6" r="3.2"/><circle cx="137.3" cy="446.0" r="3.2"/><circle cx="138.5" cy="441.6" r="3.2"/><circle cx="139.7" cy="439.6" r="3.2"/><circle cx="140.9" cy="436.9" r="3.2"/><circle cx="142.1" cy="433.0" r="3.2"/><circle cx="143.3" cy="428.6" r="3.2"/><circle cx="144.5" cy="426.8" r="3.2"/><circle cx="145.7" cy="424.6" r="3.2"/><circle cx="146.9" cy="422.7" r="3.2"/><circle cx="148.1" cy="417.6" r="3.2"/><circle cx="149.3" cy="419.1" r="3.2"/><circle cx="150.5" cy="415.7" r="3.2"/><circle cx="151.7" cy="417.2" r="3.2"/><circle cx="152.9" cy="418.3" r="3.2"/><circle cx="154.1" cy="419.7" r="3.2"/><circle cx="155.3" cy="421.1" r="3.2"/><circle cx="156.5" cy="422.4" r="3.2"/><circle cx="157.7" cy="426.0" r="3.2"/><circle cx="158.9" cy="427.4" r="3.2"/><circle cx="160.1" cy="428.4" r="3.2"/><circle cx="161.3" cy="434.4" r="3.2"/><circle cx="162.5" cy="435.1" r="3.2"/><circle cx="163.7" cy="437.8" r="3.2"/><circle cx="164.9" cy="437.7" r="3.2"/><circle cx="166.1" cy="441.1" r="3.2"/><circle cx="167.3" cy="442.7" r="3.2"/><circle cx="168.5" cy="444.0" r="3.2"/><circle cx="169.7" cy="444.2" r="3.2"/><circle cx="170.9" cy="444.6" r="3.2"/><circle cx="172.1" cy="446.4" r="3.2"/><circle cx="173.3" cy="446.0" r="3.2"/><circle cx="174.5" cy="447.3" r="3.2"/><circle cx="175.7" cy="449.5" r="3.2"/><circle cx="176.9" cy="449.8" r="3.2"/><circle cx="178.1" cy="451.3" r="3.2"/><circle cx="179.3" cy="452.1" r="3.2"/><circle cx="180.5" cy="454.4" r="3.2"/><circle cx="181.7" cy="454.7" r="3.2"/><circle cx="182.9" cy="454.5" r="3.2"/><circle cx="184.1" cy="456.1" r="3.2"/><circle cx="185.3" cy="455.3" r="3.2"/><circle cx="186.5" cy="456.3" r="3.2"/><circle cx="187.7" cy="457.7" r="3.2"/><circle cx="188.9" cy="456.7" r="3.2"/><circle cx="190.1" cy="457.8" r="3.2"/><circle cx="191.3" cy="457.4" r="3.2"/><circle cx="192.5" cy="458.8" r="3.2"/><circle cx="193.7" cy="460.2" r="3.2"/><circle cx="194.9" cy="458.7" r="3.2"/><circle cx="196.1" cy="459.6" r="3.2"/><circle cx="197.3" cy="459.0" r="3.2"/><circle cx="198.5" cy="459.0" r="3.2"/><circle cx="199.7" cy="459.1" r="3.2"/><circle cx="200.9" cy="461.2" r="3.2"/><circle cx="202.1" cy="461.9" r="3.2"/><circle cx="203.3" cy="460.7" r="3.2"/><circle cx="204.5" cy="460.0" r="3.2"/><circle cx="205.7" cy="461.1" r="3.2"/><circle cx="206.9" cy="460.4" r="3.2"/><circle cx="208.1" cy="461.3" r="3.2"/><circle cx="209.3" cy="461.1" r="3.2"/><circle cx="210.5" cy="461.1" r="3.2"/><circle cx="211.7" cy="461.5" r="3.2"/><circle cx="212.9" cy="460.8" r="3.2"/><circle cx="214.1" cy="461.0" r="3.2"/><circle cx="215.3" cy="460.2" r="3.2"/><circle cx="216.5" cy="461.3" r="3.2"/><circle cx="217.7" cy="460.7" r="3.2"/><circle cx="218.9" cy="461.8" r="3.2"/><circle cx="220.1" cy="461.4" r="3.2"/><circle cx="221.3" cy="462.3" r="3.2"/><circle cx="222.5" cy="462.7" r="3.2"/><circle cx="223.7" cy="461.6" r="3.2"/><circle cx="224.9" cy="462.3" r="3.2"/><circle cx="226.1" cy="462.5" r="3.2"/><circle cx="227.3" cy="463.9" r="3.2"/><circle cx="228.5" cy="464.8" r="3.2"/><circle cx="229.7" cy="464.5" r="3.2"/><circle cx="230.9" cy="463.9" r="3.2"/><circle cx="232.1" cy="465.4" r="3.2"/><circle cx="233.3" cy="463.5" r="3.2"/><circle cx="234.5" cy="465.8" r="3.2"/><circle cx="235.7" cy="464.5" r="3.2"/><circle cx="236.9" cy="463.3" r="3.2"/><circle cx="238.1" cy="467.3" r="3.2"/><circle cx="239.3" cy="466.7" r="3.2"/><circle cx="240.5" cy="465.1" r="3.2"/><circle cx="241.7" cy="466.0" r="3.2"/><circle cx="242.9" cy="465.8" r="3.2"/><circle cx="244.1" cy="466.1" r="3.2"/><circle cx="245.3" cy="465.0" r="3.2"/><circle cx="246.5" cy="465.6" r="3.2"/></g>
<path d="M41.0,469.3 L41.5,469.4 L42.0,469.4 L42.5,469.4 L43.0,469.4 L43.5,469.4 L44.0,469.4 L44.5,469.5 L45.0,469.5 L45.5,469.5 L46.0,469.5 L46.5,469.5 L47.0,469.6 L47.5,469.6 L48.0,469.6 L48.5,469.6 L49.0,469.6 L49.5,469.6 L50.0,469.7 L50.5,469.7 L51.0,469.7 L51.5,469.7 L52.0,469.7 L52.5,469.8 L53.0,469.8 L53.5,469.8 L54.0,469.8 L54.5,469.8 L55.0,469.8 L55.5,469.9 L56.0,469.9 L56.5,469.9 L57.0,469.9 L57.5,469.9 L58.0,470.0 L58.5,470.0 L59.0,470.0 L59.5,470.0 L60.0,470.0 L60.5,470.0 L61.0,470.1 L61.5,470.1 L62.0,470.1 L62.5,470.1 L63.0,470.1 L63.5,470.2 L64.0,470.2 L64.5,470.2 L65.0,470.2 L65.5,470.2 L66.0,470.2 L66.5,470.3 L67.0,470.3 L67.5,470.3 L68.0,470.3 L68.5,470.3 L69.0,470.4 L69.5,470.4 L70.0,470.4 L70.5,470.4 L71.0,470.4 L71.5,470.4 L72.0,470.5 L72.5,470.5 L73.0,470.5 L73.5,470.5 L74.0,470.5 L74.5,470.5 L75.0,470.6 L75.5,470.6 L76.0,470.6 L76.5,470.6 L77.0,470.6 L77.5,470.6 L78.0,470.7 L78.5,470.7 L79.0,470.7 L79.5,470.7 L80.0,470.7 L80.5,470.7 L81.0,470.8 L81.5,470.8 L82.0,470.8 L82.5,470.8 L83.0,470.8 L83.5,470.8 L84.0,470.8 L84.5,470.8 L85.0,470.9 L85.5,470.9 L86.0,470.9 L86.5,470.9 L87.0,470.9 L87.5,470.9 L88.0,470.9 L88.5,470.9 L89.0,470.9 L89.5,471.0 L90.0,471.0 L90.5,471.0 L91.0,471.0 L91.5,471.0 L92.0,471.0 L92.5,471.0 L93.0,471.0 L93.5,471.0 L94.0,471.0 L94.5,471.0 L95.0,471.0 L95.5,471.0 L96.0,471.0 L96.5,471.0 L97.0,471.0 L97.5,471.0 L98.0,471.0 L98.5,471.0 L99.0,471.0 L99.5,471.0 L100.0,470.9 L100.5,470.9 L101.0,470.9 L101.5,470.9 L102.0,470.9 L102.5,470.9 L103.0,470.8 L103.5,470.8 L104.0,470.8 L104.5,470.8 L105.0,470.7 L105.5,470.7 L106.0,470.7 L106.5,470.6 L107.0,470.6 L107.5,470.5 L108.0,470.5 L108.5,470.4 L109.0,470.4 L109.5,470.3 L110.0,470.2 L110.5,470.2 L111.0,470.1 L111.5,470.0 L112.0,469.9 L112.5,469.9 L113.0,469.8 L113.5,469.7 L114.0,469.5 L114.5,469.4 L115.0,469.3 L115.5,469.2 L116.0,469.1 L116.5,468.9 L117.0,468.8 L117.5,468.6 L118.0,468.4 L118.5,468.2 L119.0,468.1 L119.5,467.8 L120.0,467.6 L120.5,467.4 L121.0,467.2 L121.5,466.9 L122.0,466.6 L122.5,466.3 L123.0,466.0 L123.5,465.7 L124.0,465.4 L124.5,465.0 L125.0,464.6 L125.5,464.2 L126.0,463.8 L126.5,463.3 L127.0,462.9 L127.5,462.4 L128.0,461.8 L128.5,461.3 L129.0,460.7 L129.5,460.1 L130.0,459.4 L130.5,458.7 L131.0,458.0 L131.5,457.2 L132.0,456.4 L132.5,455.5 L133.0,454.6 L133.5,453.7 L134.0,452.7 L134.5,451.7 L135.0,450.7 L135.5,449.5 L136.0,448.4 L136.5,447.2 L137.0,446.0 L137.5,444.7 L138.0,443.4 L138.5,442.1 L139.0,440.7 L139.5,439.3 L140.0,437.9 L140.5,436.5 L141.0,435.0 L141.5,433.6 L142.0,432.2 L142.5,430.8 L143.0,429.4 L143.5,428.1 L144.0,426.8 L144.5,425.5 L145.0,424.4 L145.5,423.3 L146.0,422.2 L146.5,421.3 L147.0,420.2 L147.5,419.2 L148.0,418.5 L148.5,417.9 L149.0,417.5 L149.5,417.3 L150.0,417.3 L150.5,417.5 L151.0,417.8 L151.5,418.3 L152.0,418.9 L152.5,419.6 L153.0,420.4 L153.5,421.3 L154.0,422.3 L154.5,423.2 L155.0,424.3 L155.5,425.3 L156.0,426.4 L156.5,427.4 L157.0,428.5 L157.5,429.6 L158.0,430.6 L158.5,431.6 L159.0,432.6 L159.5,433.6 L160.0,434.6 L160.5,435.5 L161.0,436.4 L161.5,437.3 L162.0,438.1 L162.5,438.9 L163.0,439.7 L163.5,440.5 L164.0,441.2 L164.5,441.9 L165.0,442.6 L165.5,443.3 L166.0,443.9 L166.5,444.5 L167.0,445.1 L167.5,445.7 L168.0,446.2 L168.5,446.8 L169.0,447.3 L169.5,447.8 L170.0,448.3 L170.5,448.7 L171.0,449.2 L171.5,449.6 L172.0,450.0 L172.5,450.4 L173.0,450.8 L173.5,451.2 L174.0,451.5 L174.5,451.9 L175.0,452.2 L175.5,452.5 L176.0,452.8 L176.5,453.1 L177.0,453.4 L177.5,453.7 L178.0,454.0 L178.5,454.3 L179.0,454.5 L179.5,454.8 L180.0,455.0 L180.5,455.3 L181.0,455.5 L181.5,455.7 L182.0,456.0 L182.5,456.2 L183.0,456.4 L183.5,456.6 L184.0,456.8 L184.5,457.0 L185.0,457.2 L185.5,457.3 L186.0,457.5 L186.5,457.7 L187.0,457.9 L187.5,458.0 L188.0,458.2 L188.5,458.3 L189.0,458.5 L189.5,458.6 L190.0,458.8 L190.5,458.9 L191.0,459.1 L191.5,459.2 L192.0,459.3 L192.5,459.5 L193.0,459.6 L193.5,459.7 L194.0,459.8 L194.5,460.0 L195.0,460.1 L195.5,460.2 L196.0,460.3 L196.5,460.4 L197.0,460.5 L197.5,460.6 L198.0,460.7 L198.5,460.8 L199.0,460.9 L199.5,461.0 L200.0,461.1 L200.5,461.2 L201.0,461.3 L201.5,461.4 L202.0,461.5 L202.5,461.6 L203.0,461.7 L203.5,461.8 L204.0,461.8 L204.5,461.9 L205.0,462.0 L205.5,462.1 L206.0,462.2 L206.5,462.2 L207.0,462.3 L207.5,462.4 L208.0,462.4 L208.5,462.5 L209.0,462.6 L209.5,462.7 L210.0,462.7 L210.5,462.8 L211.0,462.9 L211.5,462.9 L212.0,463.0 L212.5,463.1 L213.0,463.1 L213.5,463.2 L214.0,463.2 L214.5,463.3 L215.0,463.4 L215.5,463.4 L216.0,463.5 L216.5,463.5 L217.0,463.6 L217.5,463.6 L218.0,463.7 L218.5,463.7 L219.0,463.8 L219.5,463.9 L220.0,463.9 L220.5,464.0 L221.0,464.0 L221.5,464.1 L222.0,464.1 L222.5,464.2 L223.0,464.2 L223.5,464.2 L224.0,464.3 L224.5,464.3 L225.0,464.4 L225.5,464.4 L226.0,464.5 L226.5,464.5 L227.0,464.6 L227.5,464.6 L228.0,464.6 L228.5,464.7 L229.0,464.7 L229.5,464.8 L230.0,464.8 L230.5,464.9 L231.0,464.9 L231.5,464.9 L232.0,465.0 L232.5,465.0 L233.0,465.1 L233.5,465.1 L234.0,465.1 L234.5,465.2 L235.0,465.2 L235.5,465.2 L236.0,465.3 L236.5,465.3 L237.0,465.3 L237.5,465.4 L238.0,465.4 L238.5,465.4 L239.0,465.5 L239.5,465.5 L240.0,465.6 L240.5,465.6 L241.0,465.6 L241.5,465.7 L242.0,465.7 L242.5,465.7 L243.0,465.7 L243.5,465.8 L244.0,465.8 L244.5,465.8 L245.0,465.9 L245.5,465.9 L246.0,465.9 L246.5,466.0" fill="none" stroke="#141a2c" stroke-width="1.4" stroke-linejoin="round" stroke-linecap="round" />
<g fill="#9ac8f0" stroke="#5293d6" stroke-width="1.3"><circle cx="42.5" cy="602.4" r="3.4"/><circle cx="43.7" cy="605.2" r="3.4"/><circle cx="44.9" cy="604.2" r="3.4"/><circle cx="46.1" cy="604.2" r="3.4"/><circle cx="47.3" cy="604.5" r="3.4"/><circle cx="48.5" cy="604.7" r="3.4"/><circle cx="49.7" cy="605.4" r="3.4"/><circle cx="50.9" cy="604.0" r="3.4"/><circle cx="52.1" cy="604.5" r="3.4"/><circle cx="53.3" cy="605.8" r="3.4"/><circle cx="54.5" cy="605.7" r="3.4"/><circle cx="55.7" cy="605.3" r="3.4"/><circle cx="56.9" cy="605.1" r="3.4"/><circle cx="58.1" cy="604.9" r="3.4"/><circle cx="59.3" cy="605.6" r="3.4"/><circle cx="60.5" cy="606.7" r="3.4"/><circle cx="61.7" cy="604.7" r="3.4"/><circle cx="62.9" cy="607.1" r="3.4"/><circle cx="64.1" cy="606.5" r="3.4"/><circle cx="65.3" cy="605.4" r="3.4"/><circle cx="66.5" cy="606.7" r="3.4"/><circle cx="67.7" cy="604.9" r="3.4"/><circle cx="68.9" cy="604.9" r="3.4"/><circle cx="70.1" cy="605.6" r="3.4"/><circle cx="71.3" cy="606.6" r="3.4"/><circle cx="72.5" cy="606.9" r="3.4"/><circle cx="73.7" cy="607.1" r="3.4"/><circle cx="74.9" cy="608.0" r="3.4"/><circle cx="76.1" cy="606.2" r="3.4"/><circle cx="77.3" cy="608.8" r="3.4"/><circle cx="78.5" cy="607.3" r="3.4"/><circle cx="79.7" cy="608.0" r="3.4"/><circle cx="80.9" cy="608.3" r="3.4"/><circle cx="82.1" cy="607.6" r="3.4"/><circle cx="83.3" cy="607.4" r="3.4"/><circle cx="84.5" cy="607.6" r="3.4"/><circle cx="85.7" cy="608.4" r="3.4"/><circle cx="86.9" cy="608.8" r="3.4"/><circle cx="88.1" cy="608.6" r="3.4"/><circle cx="89.3" cy="607.1" r="3.4"/><circle cx="90.5" cy="607.1" r="3.4"/><circle cx="91.7" cy="606.9" r="3.4"/><circle cx="92.9" cy="608.1" r="3.4"/><circle cx="94.1" cy="605.8" r="3.4"/><circle cx="95.3" cy="608.8" r="3.4"/><circle cx="96.5" cy="607.3" r="3.4"/><circle cx="97.7" cy="607.1" r="3.4"/><circle cx="98.9" cy="608.2" r="3.4"/><circle cx="100.1" cy="609.0" r="3.4"/><circle cx="101.3" cy="608.5" r="3.4"/><circle cx="102.5" cy="609.3" r="3.4"/><circle cx="103.7" cy="608.5" r="3.4"/><circle cx="104.9" cy="609.6" r="3.4"/><circle cx="106.1" cy="609.7" r="3.4"/><circle cx="107.3" cy="608.6" r="3.4"/><circle cx="108.5" cy="610.1" r="3.4"/><circle cx="109.7" cy="609.0" r="3.4"/><circle cx="110.9" cy="608.9" r="3.4"/><circle cx="112.1" cy="608.1" r="3.4"/><circle cx="113.3" cy="608.6" r="3.4"/><circle cx="114.5" cy="609.6" r="3.4"/><circle cx="115.7" cy="607.6" r="3.4"/><circle cx="116.9" cy="609.3" r="3.4"/><circle cx="118.1" cy="608.9" r="3.4"/><circle cx="119.3" cy="608.7" r="3.4"/><circle cx="120.5" cy="606.3" r="3.4"/><circle cx="121.7" cy="608.0" r="3.4"/><circle cx="122.9" cy="608.4" r="3.4"/><circle cx="124.1" cy="606.9" r="3.4"/><circle cx="125.3" cy="607.3" r="3.4"/><circle cx="126.5" cy="604.6" r="3.4"/><circle cx="127.7" cy="607.0" r="3.4"/><circle cx="128.9" cy="605.3" r="3.4"/><circle cx="130.1" cy="606.2" r="3.4"/><circle cx="131.3" cy="603.2" r="3.4"/><circle cx="132.5" cy="604.7" r="3.4"/><circle cx="133.7" cy="603.1" r="3.4"/><circle cx="134.9" cy="603.2" r="3.4"/><circle cx="136.1" cy="600.6" r="3.4"/><circle cx="137.3" cy="599.6" r="3.4"/><circle cx="138.5" cy="600.7" r="3.4"/><circle cx="139.7" cy="596.1" r="3.4"/><circle cx="140.9" cy="594.0" r="3.4"/><circle cx="142.1" cy="591.6" r="3.4"/><circle cx="143.3" cy="587.7" r="3.4"/><circle cx="144.5" cy="585.7" r="3.4"/><circle cx="145.7" cy="581.4" r="3.4"/><circle cx="146.9" cy="573.5" r="3.4"/><circle cx="148.1" cy="565.9" r="3.4"/><circle cx="149.3" cy="561.0" r="3.4"/><circle cx="150.5" cy="552.6" r="3.4"/><circle cx="151.7" cy="543.5" r="3.4"/><circle cx="152.9" cy="534.8" r="3.4"/><circle cx="154.1" cy="524.6" r="3.4"/><circle cx="155.3" cy="518.2" r="3.4"/><circle cx="156.5" cy="511.9" r="3.4"/><circle cx="157.7" cy="508.8" r="3.4"/><circle cx="158.9" cy="510.4" r="3.4"/><circle cx="160.1" cy="510.5" r="3.4"/><circle cx="161.3" cy="516.3" r="3.4"/><circle cx="162.5" cy="518.7" r="3.4"/><circle cx="163.7" cy="522.9" r="3.4"/><circle cx="164.9" cy="529.3" r="3.4"/><circle cx="166.1" cy="535.3" r="3.4"/><circle cx="167.3" cy="539.0" r="3.4"/><circle cx="168.5" cy="542.1" r="3.4"/><circle cx="169.7" cy="547.9" r="3.4"/><circle cx="170.9" cy="552.7" r="3.4"/><circle cx="172.1" cy="554.6" r="3.4"/><circle cx="173.3" cy="557.6" r="3.4"/><circle cx="174.5" cy="562.1" r="3.4"/><circle cx="175.7" cy="564.0" r="3.4"/><circle cx="176.9" cy="565.1" r="3.4"/><circle cx="178.1" cy="567.8" r="3.4"/><circle cx="179.3" cy="569.3" r="3.4"/><circle cx="180.5" cy="571.9" r="3.4"/><circle cx="181.7" cy="573.1" r="3.4"/><circle cx="182.9" cy="575.3" r="3.4"/><circle cx="184.1" cy="576.0" r="3.4"/><circle cx="185.3" cy="575.0" r="3.4"/><circle cx="186.5" cy="577.8" r="3.4"/><circle cx="187.7" cy="579.1" r="3.4"/><circle cx="188.9" cy="579.5" r="3.4"/><circle cx="190.1" cy="580.9" r="3.4"/><circle cx="191.3" cy="580.3" r="3.4"/><circle cx="192.5" cy="580.6" r="3.4"/><circle cx="193.7" cy="583.1" r="3.4"/><circle cx="194.9" cy="582.1" r="3.4"/><circle cx="196.1" cy="581.8" r="3.4"/><circle cx="197.3" cy="585.4" r="3.4"/><circle cx="198.5" cy="584.5" r="3.4"/><circle cx="199.7" cy="585.4" r="3.4"/><circle cx="200.9" cy="585.0" r="3.4"/><circle cx="202.1" cy="585.6" r="3.4"/><circle cx="203.3" cy="586.1" r="3.4"/><circle cx="204.5" cy="587.2" r="3.4"/><circle cx="205.7" cy="588.2" r="3.4"/><circle cx="206.9" cy="586.1" r="3.4"/><circle cx="208.1" cy="589.1" r="3.4"/><circle cx="209.3" cy="587.6" r="3.4"/><circle cx="210.5" cy="588.0" r="3.4"/><circle cx="211.7" cy="589.9" r="3.4"/><circle cx="212.9" cy="589.5" r="3.4"/><circle cx="214.1" cy="588.5" r="3.4"/><circle cx="215.3" cy="591.8" r="3.4"/><circle cx="216.5" cy="589.7" r="3.4"/><circle cx="217.7" cy="591.1" r="3.4"/><circle cx="218.9" cy="591.4" r="3.4"/><circle cx="220.1" cy="592.9" r="3.4"/><circle cx="221.3" cy="591.6" r="3.4"/><circle cx="222.5" cy="593.3" r="3.4"/><circle cx="223.7" cy="592.1" r="3.4"/><circle cx="224.9" cy="594.0" r="3.4"/><circle cx="226.1" cy="592.6" r="3.4"/><circle cx="227.3" cy="593.2" r="3.4"/><circle cx="228.5" cy="595.5" r="3.4"/><circle cx="229.7" cy="594.3" r="3.4"/><circle cx="230.9" cy="594.3" r="3.4"/><circle cx="232.1" cy="596.4" r="3.4"/><circle cx="233.3" cy="594.8" r="3.4"/><circle cx="234.5" cy="593.9" r="3.4"/><circle cx="235.7" cy="595.4" r="3.4"/><circle cx="236.9" cy="593.8" r="3.4"/><circle cx="238.1" cy="596.1" r="3.4"/><circle cx="239.3" cy="596.4" r="3.4"/><circle cx="240.5" cy="594.9" r="3.4"/><circle cx="241.7" cy="595.1" r="3.4"/><circle cx="242.9" cy="596.0" r="3.4"/><circle cx="244.1" cy="596.1" r="3.4"/><circle cx="245.3" cy="595.5" r="3.4"/><circle cx="246.5" cy="597.1" r="3.4"/></g>
<path d="M41.0,606.7 L41.5,606.7 L42.0,606.7 L42.5,606.7 L43.0,606.7 L43.5,606.7 L44.0,606.8 L44.5,606.8 L45.0,606.8 L45.5,606.8 L46.0,606.8 L46.5,606.8 L47.0,606.9 L47.5,606.9 L48.0,606.9 L48.5,606.9 L49.0,606.9 L49.5,607.0 L50.0,607.0 L50.5,607.0 L51.0,607.0 L51.5,607.0 L52.0,607.1 L52.5,607.1 L53.0,607.1 L53.5,607.1 L54.0,607.1 L54.5,607.2 L55.0,607.2 L55.5,607.2 L56.0,607.2 L56.5,607.2 L57.0,607.3 L57.5,607.3 L58.0,607.3 L58.5,607.3 L59.0,607.3 L59.5,607.4 L60.0,607.4 L60.5,607.4 L61.0,607.4 L61.5,607.4 L62.0,607.5 L62.5,607.5 L63.0,607.5 L63.5,607.5 L64.0,607.5 L64.5,607.6 L65.0,607.6 L65.5,607.6 L66.0,607.6 L66.5,607.7 L67.0,607.7 L67.5,607.7 L68.0,607.7 L68.5,607.7 L69.0,607.8 L69.5,607.8 L70.0,607.8 L70.5,607.8 L71.0,607.9 L71.5,607.9 L72.0,607.9 L72.5,607.9 L73.0,608.0 L73.5,608.0 L74.0,608.0 L74.5,608.0 L75.0,608.1 L75.5,608.1 L76.0,608.1 L76.5,608.1 L77.0,608.2 L77.5,608.2 L78.0,608.2 L78.5,608.2 L79.0,608.3 L79.5,608.3 L80.0,608.3 L80.5,608.3 L81.0,608.4 L81.5,608.4 L82.0,608.4 L82.5,608.4 L83.0,608.5 L83.5,608.5 L84.0,608.5 L84.5,608.5 L85.0,608.6 L85.5,608.6 L86.0,608.6 L86.5,608.6 L87.0,608.7 L87.5,608.7 L88.0,608.7 L88.5,608.7 L89.0,608.8 L89.5,608.8 L90.0,608.8 L90.5,608.9 L91.0,608.9 L91.5,608.9 L92.0,608.9 L92.5,609.0 L93.0,609.0 L93.5,609.0 L94.0,609.0 L94.5,609.1 L95.0,609.1 L95.5,609.1 L96.0,609.2 L96.5,609.2 L97.0,609.2 L97.5,609.2 L98.0,609.3 L98.5,609.3 L99.0,609.3 L99.5,609.3 L100.0,609.4 L100.5,609.4 L101.0,609.4 L101.5,609.4 L102.0,609.5 L102.5,609.5 L103.0,609.5 L103.5,609.5 L104.0,609.6 L104.5,609.6 L105.0,609.6 L105.5,609.6 L106.0,609.7 L106.5,609.7 L107.0,609.7 L107.5,609.7 L108.0,609.7 L108.5,609.8 L109.0,609.8 L109.5,609.8 L110.0,609.8 L110.5,609.8 L111.0,609.9 L111.5,609.9 L112.0,609.9 L112.5,609.9 L113.0,609.9 L113.5,609.9 L114.0,609.9 L114.5,609.9 L115.0,609.9 L115.5,609.9 L116.0,609.9 L116.5,609.9 L117.0,609.9 L117.5,609.9 L118.0,609.9 L118.5,609.9 L119.0,609.9 L119.5,609.8 L120.0,609.8 L120.5,609.8 L121.0,609.8 L121.5,609.7 L122.0,609.7 L122.5,609.6 L123.0,609.6 L123.5,609.5 L124.0,609.4 L124.5,609.4 L125.0,609.3 L125.5,609.2 L126.0,609.1 L126.5,609.0 L127.0,608.9 L127.5,608.8 L128.0,608.6 L128.5,608.5 L129.0,608.3 L129.5,608.1 L130.0,607.9 L130.5,607.7 L131.0,607.5 L131.5,607.3 L132.0,607.0 L132.5,606.7 L133.0,606.4 L133.5,606.0 L134.0,605.7 L134.5,605.2 L135.0,604.8 L135.5,604.3 L136.0,603.8 L136.5,603.2 L137.0,602.6 L137.5,602.0 L138.0,601.3 L138.5,600.5 L139.0,599.6 L139.5,598.7 L140.0,597.7 L140.5,596.7 L141.0,595.5 L141.5,594.3 L142.0,592.9 L142.5,591.4 L143.0,589.8 L143.5,588.1 L144.0,586.3 L144.5,584.3 L145.0,582.1 L145.5,579.8 L146.0,577.3 L146.5,574.7 L147.0,571.9 L147.5,568.9 L148.0,565.7 L148.5,562.4 L149.0,559.0 L149.5,555.4 L150.0,551.7 L150.5,547.9 L151.0,544.1 L151.5,540.2 L152.0,536.4 L152.5,532.7 L153.0,529.2 L153.5,525.8 L154.0,522.8 L154.5,520.0 L155.0,517.5 L155.5,515.3 L156.0,513.6 L156.5,512.4 L157.0,511.6 L157.5,511.4 L158.0,511.5 L158.5,512.1 L159.0,513.1 L159.5,514.4 L160.0,515.9 L160.5,517.7 L161.0,519.6 L161.5,521.7 L162.0,523.9 L162.5,526.1 L163.0,528.4 L163.5,530.7 L164.0,533.0 L164.5,535.2 L165.0,537.4 L165.5,539.5 L166.0,541.6 L166.5,543.7 L167.0,545.6 L167.5,547.5 L168.0,549.3 L168.5,551.1 L169.0,552.7 L169.5,554.3 L170.0,555.9 L170.5,557.4 L171.0,558.8 L171.5,560.1 L172.0,561.4 L172.5,562.6 L173.0,563.8 L173.5,565.0 L174.0,566.0 L174.5,567.1 L175.0,568.1 L175.5,569.0 L176.0,569.9 L176.5,570.8 L177.0,571.7 L177.5,572.5 L178.0,573.2 L178.5,574.0 L179.0,574.7 L179.5,575.4 L180.0,576.0 L180.5,576.7 L181.0,577.3 L181.5,577.9 L182.0,578.4 L182.5,579.0 L183.0,579.5 L183.5,580.0 L184.0,580.5 L184.5,581.0 L185.0,581.4 L185.5,581.9 L186.0,582.3 L186.5,582.7 L187.0,583.1 L187.5,583.5 L188.0,583.9 L188.5,584.2 L189.0,584.6 L189.5,584.9 L190.0,585.3 L190.5,585.6 L191.0,585.9 L191.5,586.2 L192.0,586.5 L192.5,586.8 L193.0,587.1 L193.5,587.3 L194.0,587.6 L194.5,587.9 L195.0,588.1 L195.5,588.3 L196.0,588.6 L196.5,588.8 L197.0,589.0 L197.5,589.2 L198.0,589.5 L198.5,589.7 L199.0,589.9 L199.5,590.1 L200.0,590.3 L200.5,590.5 L201.0,590.6 L201.5,590.8 L202.0,591.0 L202.5,591.2 L203.0,591.3 L203.5,591.5 L204.0,591.7 L204.5,591.8 L205.0,592.0 L205.5,592.1 L206.0,592.3 L206.5,592.4 L207.0,592.5 L207.5,592.7 L208.0,592.8 L208.5,592.9 L209.0,593.1 L209.5,593.2 L210.0,593.3 L210.5,593.5 L211.0,593.6 L211.5,593.7 L212.0,593.8 L212.5,593.9 L213.0,594.0 L213.5,594.1 L214.0,594.2 L214.5,594.4 L215.0,594.5 L215.5,594.6 L216.0,594.7 L216.5,594.8 L217.0,594.9 L217.5,594.9 L218.0,595.0 L218.5,595.1 L219.0,595.2 L219.5,595.3 L220.0,595.4 L220.5,595.5 L221.0,595.6 L221.5,595.6 L222.0,595.7 L222.5,595.8 L223.0,595.9 L223.5,596.0 L224.0,596.0 L224.5,596.1 L225.0,596.2 L225.5,596.3 L226.0,596.3 L226.5,596.4 L227.0,596.5 L227.5,596.6 L228.0,596.6 L228.5,596.7 L229.0,596.8 L229.5,596.8 L230.0,596.9 L230.5,596.9 L231.0,597.0 L231.5,597.1 L232.0,597.1 L232.5,597.2 L233.0,597.3 L233.5,597.3 L234.0,597.4 L234.5,597.4 L235.0,597.5 L235.5,597.5 L236.0,597.6 L236.5,597.6 L237.0,597.7 L237.5,597.8 L238.0,597.8 L238.5,597.9 L239.0,597.9 L239.5,598.0 L240.0,598.0 L240.5,598.1 L241.0,598.1 L241.5,598.2 L242.0,598.2 L242.5,598.2 L243.0,598.3 L243.5,598.3 L244.0,598.4 L244.5,598.4 L245.0,598.5 L245.5,598.5 L246.0,598.6 L246.5,598.6" fill="none" stroke="#141a2c" stroke-width="1.4" stroke-linejoin="round" stroke-linecap="round" />
<g fill="#9ccdf4" stroke="#56a0e0" stroke-width="1.3"><circle cx="42.5" cy="738.4" r="3.5"/><circle cx="43.7" cy="739.1" r="3.5"/><circle cx="44.9" cy="739.6" r="3.5"/><circle cx="46.1" cy="740.2" r="3.5"/><circle cx="47.3" cy="738.8" r="3.5"/><circle cx="48.5" cy="741.2" r="3.5"/><circle cx="49.7" cy="741.9" r="3.5"/><circle cx="50.9" cy="739.8" r="3.5"/><circle cx="52.1" cy="739.9" r="3.5"/><circle cx="53.3" cy="741.6" r="3.5"/><circle cx="54.5" cy="740.9" r="3.5"/><circle cx="55.7" cy="739.5" r="3.5"/><circle cx="56.9" cy="742.4" r="3.5"/><circle cx="58.1" cy="742.0" r="3.5"/><circle cx="59.3" cy="741.5" r="3.5"/><circle cx="60.5" cy="743.8" r="3.5"/><circle cx="61.7" cy="742.0" r="3.5"/><circle cx="62.9" cy="741.2" r="3.5"/><circle cx="64.1" cy="742.0" r="3.5"/><circle cx="65.3" cy="741.0" r="3.5"/><circle cx="66.5" cy="741.3" r="3.5"/><circle cx="67.7" cy="742.3" r="3.5"/><circle cx="68.9" cy="741.4" r="3.5"/><circle cx="70.1" cy="741.5" r="3.5"/><circle cx="71.3" cy="743.5" r="3.5"/><circle cx="72.5" cy="742.7" r="3.5"/><circle cx="73.7" cy="742.7" r="3.5"/><circle cx="74.9" cy="742.6" r="3.5"/><circle cx="76.1" cy="742.6" r="3.5"/><circle cx="77.3" cy="743.5" r="3.5"/><circle cx="78.5" cy="742.3" r="3.5"/><circle cx="79.7" cy="744.0" r="3.5"/><circle cx="80.9" cy="741.5" r="3.5"/><circle cx="82.1" cy="742.2" r="3.5"/><circle cx="83.3" cy="741.2" r="3.5"/><circle cx="84.5" cy="742.1" r="3.5"/><circle cx="85.7" cy="742.9" r="3.5"/><circle cx="86.9" cy="743.8" r="3.5"/><circle cx="88.1" cy="741.8" r="3.5"/><circle cx="89.3" cy="742.5" r="3.5"/><circle cx="90.5" cy="742.2" r="3.5"/><circle cx="91.7" cy="742.0" r="3.5"/><circle cx="92.9" cy="741.7" r="3.5"/><circle cx="94.1" cy="742.8" r="3.5"/><circle cx="95.3" cy="741.4" r="3.5"/><circle cx="96.5" cy="743.2" r="3.5"/><circle cx="97.7" cy="743.4" r="3.5"/><circle cx="98.9" cy="743.0" r="3.5"/><circle cx="100.1" cy="742.9" r="3.5"/><circle cx="101.3" cy="742.7" r="3.5"/><circle cx="102.5" cy="745.9" r="3.5"/><circle cx="103.7" cy="743.2" r="3.5"/><circle cx="104.9" cy="745.9" r="3.5"/><circle cx="106.1" cy="745.2" r="3.5"/><circle cx="107.3" cy="744.4" r="3.5"/><circle cx="108.5" cy="743.8" r="3.5"/><circle cx="109.7" cy="745.9" r="3.5"/><circle cx="110.9" cy="746.5" r="3.5"/><circle cx="112.1" cy="744.2" r="3.5"/><circle cx="113.3" cy="744.8" r="3.5"/><circle cx="114.5" cy="746.1" r="3.5"/><circle cx="115.7" cy="745.5" r="3.5"/><circle cx="116.9" cy="747.1" r="3.5"/><circle cx="118.1" cy="744.9" r="3.5"/><circle cx="119.3" cy="746.0" r="3.5"/><circle cx="120.5" cy="744.6" r="3.5"/><circle cx="121.7" cy="747.7" r="3.5"/><circle cx="122.9" cy="745.3" r="3.5"/><circle cx="124.1" cy="744.2" r="3.5"/><circle cx="125.3" cy="746.1" r="3.5"/><circle cx="126.5" cy="746.1" r="3.5"/><circle cx="127.7" cy="747.9" r="3.5"/><circle cx="128.9" cy="745.7" r="3.5"/><circle cx="130.1" cy="745.7" r="3.5"/><circle cx="131.3" cy="745.8" r="3.5"/><circle cx="132.5" cy="746.1" r="3.5"/><circle cx="133.7" cy="743.8" r="3.5"/><circle cx="134.9" cy="743.7" r="3.5"/><circle cx="136.1" cy="741.8" r="3.5"/><circle cx="137.3" cy="739.2" r="3.5"/><circle cx="138.5" cy="737.2" r="3.5"/><circle cx="139.7" cy="734.2" r="3.5"/><circle cx="140.9" cy="729.6" r="3.5"/><circle cx="142.1" cy="726.9" r="3.5"/><circle cx="143.3" cy="718.8" r="3.5"/><circle cx="144.5" cy="714.1" r="3.5"/><circle cx="145.7" cy="705.3" r="3.5"/><circle cx="146.9" cy="694.2" r="3.5"/><circle cx="148.1" cy="681.8" r="3.5"/><circle cx="149.3" cy="669.2" r="3.5"/><circle cx="150.5" cy="656.2" r="3.5"/><circle cx="151.7" cy="643.5" r="3.5"/><circle cx="152.9" cy="632.0" r="3.5"/><circle cx="154.1" cy="625.0" r="3.5"/><circle cx="155.3" cy="619.5" r="3.5"/><circle cx="156.5" cy="619.4" r="3.5"/><circle cx="157.7" cy="619.9" r="3.5"/><circle cx="158.9" cy="626.1" r="3.5"/><circle cx="160.1" cy="631.1" r="3.5"/><circle cx="161.3" cy="636.9" r="3.5"/><circle cx="162.5" cy="644.7" r="3.5"/><circle cx="163.7" cy="650.7" r="3.5"/><circle cx="164.9" cy="653.6" r="3.5"/><circle cx="166.1" cy="661.9" r="3.5"/><circle cx="167.3" cy="665.8" r="3.5"/><circle cx="168.5" cy="672.9" r="3.5"/><circle cx="169.7" cy="678.5" r="3.5"/><circle cx="170.9" cy="679.7" r="3.5"/><circle cx="172.1" cy="683.9" r="3.5"/><circle cx="173.3" cy="687.0" r="3.5"/><circle cx="174.5" cy="690.5" r="3.5"/><circle cx="175.7" cy="693.4" r="3.5"/><circle cx="176.9" cy="696.4" r="3.5"/><circle cx="178.1" cy="696.7" r="3.5"/><circle cx="179.3" cy="701.0" r="3.5"/><circle cx="180.5" cy="700.6" r="3.5"/><circle cx="181.7" cy="703.3" r="3.5"/><circle cx="182.9" cy="705.5" r="3.5"/><circle cx="184.1" cy="706.5" r="3.5"/><circle cx="185.3" cy="706.2" r="3.5"/><circle cx="186.5" cy="707.5" r="3.5"/><circle cx="187.7" cy="708.7" r="3.5"/><circle cx="188.9" cy="710.1" r="3.5"/><circle cx="190.1" cy="712.0" r="3.5"/><circle cx="191.3" cy="710.6" r="3.5"/><circle cx="192.5" cy="713.0" r="3.5"/><circle cx="193.7" cy="713.9" r="3.5"/><circle cx="194.9" cy="714.6" r="3.5"/><circle cx="196.1" cy="715.3" r="3.5"/><circle cx="197.3" cy="717.0" r="3.5"/><circle cx="198.5" cy="716.8" r="3.5"/><circle cx="199.7" cy="717.9" r="3.5"/><circle cx="200.9" cy="718.4" r="3.5"/><circle cx="202.1" cy="720.3" r="3.5"/><circle cx="203.3" cy="717.6" r="3.5"/><circle cx="204.5" cy="721.2" r="3.5"/><circle cx="205.7" cy="720.4" r="3.5"/><circle cx="206.9" cy="721.0" r="3.5"/><circle cx="208.1" cy="721.0" r="3.5"/><circle cx="209.3" cy="720.8" r="3.5"/><circle cx="210.5" cy="722.6" r="3.5"/><circle cx="211.7" cy="722.7" r="3.5"/><circle cx="212.9" cy="724.2" r="3.5"/><circle cx="214.1" cy="722.7" r="3.5"/><circle cx="215.3" cy="725.6" r="3.5"/><circle cx="216.5" cy="724.8" r="3.5"/><circle cx="217.7" cy="724.5" r="3.5"/><circle cx="218.9" cy="724.2" r="3.5"/><circle cx="220.1" cy="724.3" r="3.5"/><circle cx="221.3" cy="724.0" r="3.5"/><circle cx="222.5" cy="724.7" r="3.5"/><circle cx="223.7" cy="725.2" r="3.5"/><circle cx="224.9" cy="725.1" r="3.5"/><circle cx="226.1" cy="724.0" r="3.5"/><circle cx="227.3" cy="725.1" r="3.5"/><circle cx="228.5" cy="724.6" r="3.5"/><circle cx="229.7" cy="725.6" r="3.5"/><circle cx="230.9" cy="727.2" r="3.5"/><circle cx="232.1" cy="726.2" r="3.5"/><circle cx="233.3" cy="725.5" r="3.5"/><circle cx="234.5" cy="724.5" r="3.5"/><circle cx="235.7" cy="724.9" r="3.5"/><circle cx="236.9" cy="724.8" r="3.5"/><circle cx="238.1" cy="727.2" r="3.5"/><circle cx="239.3" cy="726.0" r="3.5"/><circle cx="240.5" cy="727.0" r="3.5"/><circle cx="241.7" cy="726.6" r="3.5"/><circle cx="242.9" cy="727.5" r="3.5"/><circle cx="244.1" cy="729.0" r="3.5"/><circle cx="245.3" cy="727.4" r="3.5"/><circle cx="246.5" cy="728.1" r="3.5"/></g>
<path d="M41.0,740.7 L41.5,740.7 L42.0,740.7 L42.5,740.8 L43.0,740.8 L43.5,740.8 L44.0,740.8 L44.5,740.9 L45.0,740.9 L45.5,740.9 L46.0,740.9 L46.5,741.0 L47.0,741.0 L47.5,741.0 L48.0,741.1 L48.5,741.1 L49.0,741.1 L49.5,741.1 L50.0,741.2 L50.5,741.2 L51.0,741.2 L51.5,741.3 L52.0,741.3 L52.5,741.3 L53.0,741.3 L53.5,741.4 L54.0,741.4 L54.5,741.4 L55.0,741.5 L55.5,741.5 L56.0,741.5 L56.5,741.6 L57.0,741.6 L57.5,741.6 L58.0,741.7 L58.5,741.7 L59.0,741.7 L59.5,741.7 L60.0,741.8 L60.5,741.8 L61.0,741.8 L61.5,741.9 L62.0,741.9 L62.5,741.9 L63.0,742.0 L63.5,742.0 L64.0,742.0 L64.5,742.1 L65.0,742.1 L65.5,742.1 L66.0,742.2 L66.5,742.2 L67.0,742.2 L67.5,742.3 L68.0,742.3 L68.5,742.4 L69.0,742.4 L69.5,742.4 L70.0,742.5 L70.5,742.5 L71.0,742.5 L71.5,742.6 L72.0,742.6 L72.5,742.6 L73.0,742.7 L73.5,742.7 L74.0,742.8 L74.5,742.8 L75.0,742.8 L75.5,742.9 L76.0,742.9 L76.5,743.0 L77.0,743.0 L77.5,743.0 L78.0,743.1 L78.5,743.1 L79.0,743.2 L79.5,743.2 L80.0,743.2 L80.5,743.3 L81.0,743.3 L81.5,743.4 L82.0,743.4 L82.5,743.5 L83.0,743.5 L83.5,743.5 L84.0,743.6 L84.5,743.6 L85.0,743.7 L85.5,743.7 L86.0,743.8 L86.5,743.8 L87.0,743.9 L87.5,743.9 L88.0,743.9 L88.5,744.0 L89.0,744.0 L89.5,744.1 L90.0,744.1 L90.5,744.2 L91.0,744.2 L91.5,744.3 L92.0,744.3 L92.5,744.4 L93.0,744.4 L93.5,744.5 L94.0,744.5 L94.5,744.6 L95.0,744.6 L95.5,744.7 L96.0,744.7 L96.5,744.8 L97.0,744.8 L97.5,744.9 L98.0,744.9 L98.5,745.0 L99.0,745.0 L99.5,745.1 L100.0,745.1 L100.5,745.2 L101.0,745.2 L101.5,745.3 L102.0,745.4 L102.5,745.4 L103.0,745.5 L103.5,745.5 L104.0,745.6 L104.5,745.6 L105.0,745.7 L105.5,745.7 L106.0,745.8 L106.5,745.8 L107.0,745.9 L107.5,745.9 L108.0,746.0 L108.5,746.0 L109.0,746.1 L109.5,746.2 L110.0,746.2 L110.5,746.3 L111.0,746.3 L111.5,746.4 L112.0,746.4 L112.5,746.5 L113.0,746.5 L113.5,746.6 L114.0,746.6 L114.5,746.6 L115.0,746.7 L115.5,746.7 L116.0,746.8 L116.5,746.8 L117.0,746.8 L117.5,746.9 L118.0,746.9 L118.5,746.9 L119.0,747.0 L119.5,747.0 L120.0,747.0 L120.5,747.0 L121.0,747.0 L121.5,747.0 L122.0,747.0 L122.5,747.0 L123.0,747.0 L123.5,747.0 L124.0,747.0 L124.5,746.9 L125.0,746.9 L125.5,746.9 L126.0,746.8 L126.5,746.7 L127.0,746.6 L127.5,746.6 L128.0,746.4 L128.5,746.3 L129.0,746.2 L129.5,746.0 L130.0,745.8 L130.5,745.6 L131.0,745.4 L131.5,745.1 L132.0,744.9 L132.5,744.5 L133.0,744.2 L133.5,743.8 L134.0,743.3 L134.5,742.9 L135.0,742.3 L135.5,741.7 L136.0,741.0 L136.5,740.3 L137.0,739.5 L137.5,738.6 L138.0,737.6 L138.5,736.5 L139.0,735.3 L139.5,734.0 L140.0,732.5 L140.5,730.9 L141.0,729.1 L141.5,727.1 L142.0,724.9 L142.5,722.5 L143.0,719.9 L143.5,717.0 L144.0,713.9 L144.5,710.5 L145.0,706.7 L145.5,702.7 L146.0,698.4 L146.5,693.8 L147.0,688.8 L147.5,683.6 L148.0,678.2 L148.5,672.6 L149.0,666.9 L149.5,661.1 L150.0,655.3 L150.5,649.7 L151.0,644.4 L151.5,639.5 L152.0,635.0 L152.5,631.1 L153.0,627.9 L153.5,625.3 L154.0,623.5 L154.5,622.3 L155.0,621.7 L155.5,621.8 L156.0,622.4 L156.5,623.6 L157.0,625.1 L157.5,627.1 L158.0,629.3 L158.5,631.8 L159.0,634.4 L159.5,637.2 L160.0,640.0 L160.5,642.9 L161.0,645.8 L161.5,648.7 L162.0,651.5 L162.5,654.3 L163.0,657.0 L163.5,659.6 L164.0,662.1 L164.5,664.6 L165.0,666.9 L165.5,669.2 L166.0,671.4 L166.5,673.5 L167.0,675.5 L167.5,677.4 L168.0,679.2 L168.5,681.0 L169.0,682.7 L169.5,684.3 L170.0,685.8 L170.5,687.3 L171.0,688.7 L171.5,690.0 L172.0,691.3 L172.5,692.6 L173.0,693.8 L173.5,694.9 L174.0,696.0 L174.5,697.0 L175.0,698.0 L175.5,699.0 L176.0,699.9 L176.5,700.8 L177.0,701.6 L177.5,702.5 L178.0,703.3 L178.5,704.0 L179.0,704.7 L179.5,705.5 L180.0,706.1 L180.5,706.8 L181.0,707.4 L181.5,708.0 L182.0,708.6 L182.5,709.2 L183.0,709.7 L183.5,710.3 L184.0,710.8 L184.5,711.3 L185.0,711.8 L185.5,712.3 L186.0,712.7 L186.5,713.1 L187.0,713.6 L187.5,714.0 L188.0,714.4 L188.5,714.8 L189.0,715.2 L189.5,715.5 L190.0,715.9 L190.5,716.2 L191.0,716.6 L191.5,716.9 L192.0,717.2 L192.5,717.6 L193.0,717.9 L193.5,718.2 L194.0,718.4 L194.5,718.7 L195.0,719.0 L195.5,719.3 L196.0,719.5 L196.5,719.8 L197.0,720.0 L197.5,720.3 L198.0,720.5 L198.5,720.8 L199.0,721.0 L199.5,721.2 L200.0,721.4 L200.5,721.6 L201.0,721.8 L201.5,722.1 L202.0,722.3 L202.5,722.4 L203.0,722.6 L203.5,722.8 L204.0,723.0 L204.5,723.2 L205.0,723.4 L205.5,723.5 L206.0,723.7 L206.5,723.9 L207.0,724.0 L207.5,724.2 L208.0,724.4 L208.5,724.5 L209.0,724.7 L209.5,724.8 L210.0,725.0 L210.5,725.1 L211.0,725.2 L211.5,725.4 L212.0,725.5 L212.5,725.6 L213.0,725.8 L213.5,725.9 L214.0,726.0 L214.5,726.2 L215.0,726.3 L215.5,726.4 L216.0,726.5 L216.5,726.6 L217.0,726.7 L217.5,726.9 L218.0,727.0 L218.5,727.1 L219.0,727.2 L219.5,727.3 L220.0,727.4 L220.5,727.5 L221.0,727.6 L221.5,727.7 L222.0,727.8 L222.5,727.9 L223.0,728.0 L223.5,728.1 L224.0,728.2 L224.5,728.3 L225.0,728.4 L225.5,728.5 L226.0,728.5 L226.5,728.6 L227.0,728.7 L227.5,728.8 L228.0,728.9 L228.5,729.0 L229.0,729.0 L229.5,729.1 L230.0,729.2 L230.5,729.3 L231.0,729.4 L231.5,729.4 L232.0,729.5 L232.5,729.6 L233.0,729.7 L233.5,729.7 L234.0,729.8 L234.5,729.9 L235.0,729.9 L235.5,730.0 L236.0,730.1 L236.5,730.1 L237.0,730.2 L237.5,730.3 L238.0,730.3 L238.5,730.4 L239.0,730.5 L239.5,730.5 L240.0,730.6 L240.5,730.7 L241.0,730.7 L241.5,730.8 L242.0,730.8 L242.5,730.9 L243.0,731.0 L243.5,731.0 L244.0,731.1 L244.5,731.1 L245.0,731.2 L245.5,731.2 L246.0,731.3 L246.5,731.4" fill="none" stroke="#141a2c" stroke-width="1.4" stroke-linejoin="round" stroke-linecap="round" />
</g>
<text x="236.2" y="50.6" font-size="13.4" text-anchor="end" fill="#1c1c1c" >10.05 K</text>
<text x="236.2" y="185.9" font-size="13.4" text-anchor="end" fill="#1c1c1c" >8.07 K</text>
<text x="236.2" y="319.8" font-size="13.4" text-anchor="end" fill="#1c1c1c" >6.02 K</text>
<text x="236.2" y="451" font-size="13.4" text-anchor="end" fill="#1c1c1c" >4.03 K</text>
<text x="236.2" y="579.3" font-size="13.4" text-anchor="end" fill="#1c1c1c" >1.98 K</text>
<text x="236.2" y="713" font-size="13.4" text-anchor="end" fill="#1c1c1c" >1.3 K</text>
<rect x="41" y="15" width="205.8" height="739.8" fill="none" stroke="#6b6b6b" stroke-width="1.3"/>
<line x1="41" y1="736" x2="46" y2="736" stroke="#3a3a3a" stroke-width="1.2" />
<line x1="246.8" y1="736" x2="241.8" y2="736" stroke="#3a3a3a" stroke-width="1.2" />
<line x1="41" y1="668.4" x2="46" y2="668.4" stroke="#3a3a3a" stroke-width="1.2" />
<line x1="246.8" y1="668.4" x2="241.8" y2="668.4" stroke="#3a3a3a" stroke-width="1.2" />
<line x1="41" y1="600.8" x2="46" y2="600.8" stroke="#3a3a3a" stroke-width="1.2" />
<line x1="246.8" y1="600.8" x2="241.8" y2="600.8" stroke="#3a3a3a" stroke-width="1.2" />
<line x1="41" y1="533.1" x2="46" y2="533.1" stroke="#3a3a3a" stroke-width="1.2" />
<line x1="246.8" y1="533.1" x2="241.8" y2="533.1" stroke="#3a3a3a" stroke-width="1.2" />
<line x1="41" y1="465.5" x2="46" y2="465.5" stroke="#3a3a3a" stroke-width="1.2" />
<line x1="246.8" y1="465.5" x2="241.8" y2="465.5" stroke="#3a3a3a" stroke-width="1.2" />
<line x1="41" y1="397.9" x2="46" y2="397.9" stroke="#3a3a3a" stroke-width="1.2" />
<line x1="246.8" y1="397.9" x2="241.8" y2="397.9" stroke="#3a3a3a" stroke-width="1.2" />
<line x1="41" y1="330.3" x2="46" y2="330.3" stroke="#3a3a3a" stroke-width="1.2" />
<line x1="246.8" y1="330.3" x2="241.8" y2="330.3" stroke="#3a3a3a" stroke-width="1.2" />
<line x1="41" y1="262.7" x2="46" y2="262.7" stroke="#3a3a3a" stroke-width="1.2" />
<line x1="246.8" y1="262.7" x2="241.8" y2="262.7" stroke="#3a3a3a" stroke-width="1.2" />
<line x1="41" y1="195" x2="46" y2="195" stroke="#3a3a3a" stroke-width="1.2" />
<line x1="246.8" y1="195" x2="241.8" y2="195" stroke="#3a3a3a" stroke-width="1.2" />
<line x1="41" y1="127.4" x2="46" y2="127.4" stroke="#3a3a3a" stroke-width="1.2" />
<line x1="246.8" y1="127.4" x2="241.8" y2="127.4" stroke="#3a3a3a" stroke-width="1.2" />
<line x1="41" y1="59.8" x2="46" y2="59.8" stroke="#3a3a3a" stroke-width="1.2" />
<line x1="246.8" y1="59.8" x2="241.8" y2="59.8" stroke="#3a3a3a" stroke-width="1.2" />
<line x1="41" y1="754.8" x2="41" y2="749.8" stroke="#3a3a3a" stroke-width="1.2" />
<line x1="41" y1="15" x2="41" y2="20" stroke="#3a3a3a" stroke-width="1.2" />
<line x1="144" y1="754.8" x2="144" y2="749.8" stroke="#3a3a3a" stroke-width="1.2" />
<line x1="144" y1="15" x2="144" y2="20" stroke="#3a3a3a" stroke-width="1.2" />
<line x1="246.8" y1="754.8" x2="246.8" y2="749.8" stroke="#3a3a3a" stroke-width="1.2" />
<line x1="246.8" y1="15" x2="246.8" y2="20" stroke="#3a3a3a" stroke-width="1.2" />
<text x="37.2" y="741.2" font-size="17.6" text-anchor="end" fill="#1c1c1c" >0</text>
<text x="37.2" y="673.6" font-size="17.6" text-anchor="end" fill="#1c1c1c" >2</text>
<text x="37.2" y="606" font-size="17.6" text-anchor="end" fill="#1c1c1c" >4</text>
<text x="37.2" y="538.3" font-size="17.6" text-anchor="end" fill="#1c1c1c" >6</text>
<text x="37.2" y="470.7" font-size="17.6" text-anchor="end" fill="#1c1c1c" >8</text>
<text x="37.2" y="403.1" font-size="17.6" text-anchor="end" fill="#1c1c1c" >10</text>
<text x="37.2" y="335.5" font-size="17.6" text-anchor="end" fill="#1c1c1c" >12</text>
<text x="37.2" y="267.9" font-size="17.6" text-anchor="end" fill="#1c1c1c" >14</text>
<text x="37.2" y="200.2" font-size="17.6" text-anchor="end" fill="#1c1c1c" >16</text>
<text x="37.2" y="132.6" font-size="17.6" text-anchor="end" fill="#1c1c1c" >18</text>
<text x="37.2" y="65" font-size="17.6" text-anchor="end" fill="#1c1c1c" >20</text>
<text x="49.2" y="772.8" font-size="17.6" text-anchor="middle" fill="#1c1c1c" >39.2</text>
<text x="143.6" y="772.8" font-size="17.6" text-anchor="middle" fill="#1c1c1c" >39.45</text>
<text x="237.8" y="772.8" font-size="17.6" text-anchor="middle" fill="#1c1c1c" >39.7</text>
<text x="146.5" y="791.5" font-size="17.9" text-anchor="middle" fill="#1c1c1c" >Frequency (GHz)</text>
<text transform="translate(7.8,399.6) rotate(-90)" x="0" y="0" font-size="17.9" text-anchor="middle" dominant-baseline="central" fill="#1c1c1c">Δ<tspan font-style="italic">I</tspan> (pA)</text>
<text x="-1.2" y="15" font-size="20" text-anchor="start" fill="#1c1c1c" >(a)</text>
<rect x="92.7" y="72.1" width="93.3" height="75.3" fill="#ffffff" stroke="none"/>
<clipPath id="ci1"><rect x="92.7" y="72.1" width="93.3" height="75.3"/></clipPath>
<g clip-path="url(#ci1)">
<g fill="#9a98c6"><circle cx="93.2" cy="131.3" r="0.95"/><circle cx="93.4" cy="136.5" r="0.95"/><circle cx="93.6" cy="131.1" r="0.95"/><circle cx="93.9" cy="113.1" r="0.95"/><circle cx="94.1" cy="137.3" r="0.95"/><circle cx="94.3" cy="132.3" r="0.95"/><circle cx="94.5" cy="121.4" r="0.95"/><circle cx="94.7" cy="133.7" r="0.95"/><circle cx="95.0" cy="131.2" r="0.95"/><circle cx="95.2" cy="130.4" r="0.95"/><circle cx="95.4" cy="127.5" r="0.95"/><circle cx="95.6" cy="133.1" r="0.95"/><circle cx="95.8" cy="119.0" r="0.95"/><circle cx="96.1" cy="125.2" r="0.95"/><circle cx="96.3" cy="121.7" r="0.95"/><circle cx="96.5" cy="133.5" r="0.95"/><circle cx="96.7" cy="127.3" r="0.95"/><circle cx="96.9" cy="123.6" r="0.95"/><circle cx="97.2" cy="118.2" r="0.95"/><circle cx="97.4" cy="123.9" r="0.95"/><circle cx="97.6" cy="126.8" r="0.95"/><circle cx="97.8" cy="123.6" r="0.95"/><circle cx="98.0" cy="140.9" r="0.95"/><circle cx="98.3" cy="137.7" r="0.95"/><circle cx="98.5" cy="96.7" r="0.95"/><circle cx="98.7" cy="105.7" r="0.95"/><circle cx="98.9" cy="124.5" r="0.95"/><circle cx="99.1" cy="121.7" r="0.95"/><circle cx="99.4" cy="128.7" r="0.95"/><circle cx="99.6" cy="128.7" r="0.95"/><circle cx="99.8" cy="149.5" r="0.95"/><circle cx="100.0" cy="113.9" r="0.95"/><circle cx="100.2" cy="122.0" r="0.95"/><circle cx="100.5" cy="148.5" r="0.95"/><circle cx="100.7" cy="133.1" r="0.95"/><circle cx="100.9" cy="133.2" r="0.95"/><circle cx="101.1" cy="120.2" r="0.95"/><circle cx="101.4" cy="107.7" r="0.95"/><circle cx="101.6" cy="127.6" r="0.95"/><circle cx="101.8" cy="126.9" r="0.95"/><circle cx="102.0" cy="112.1" r="0.95"/><circle cx="102.2" cy="118.1" r="0.95"/><circle cx="102.5" cy="124.7" r="0.95"/><circle cx="102.7" cy="115.1" r="0.95"/><circle cx="102.9" cy="124.3" r="0.95"/><circle cx="103.1" cy="126.4" r="0.95"/><circle cx="103.3" cy="125.7" r="0.95"/><circle cx="103.6" cy="119.6" r="0.95"/><circle cx="103.8" cy="131.7" r="0.95"/><circle cx="104.0" cy="134.9" r="0.95"/><circle cx="104.2" cy="128.5" r="0.95"/><circle cx="104.4" cy="115.9" r="0.95"/><circle cx="104.7" cy="132.9" r="0.95"/><circle cx="104.9" cy="119.2" r="0.95"/><circle cx="105.1" cy="134.3" r="0.95"/><circle cx="105.3" cy="112.8" r="0.95"/><circle cx="105.5" cy="134.6" r="0.95"/><circle cx="105.8" cy="124.2" r="0.95"/><circle cx="106.0" cy="110.6" r="0.95"/><circle cx="106.2" cy="120.8" r="0.95"/><circle cx="106.4" cy="124.8" r="0.95"/><circle cx="106.6" cy="127.1" r="0.95"/><circle cx="106.9" cy="113.2" r="0.95"/><circle cx="107.1" cy="111.7" r="0.95"/><circle cx="107.3" cy="126.0" r="0.95"/><circle cx="107.5" cy="118.6" r="0.95"/><circle cx="107.7" cy="126.2" r="0.95"/><circle cx="108.0" cy="131.9" r="0.95"/><circle cx="108.2" cy="105.3" r="0.95"/><circle cx="108.4" cy="126.1" r="0.95"/><circle cx="108.6" cy="136.7" r="0.95"/><circle cx="108.8" cy="119.9" r="0.95"/><circle cx="109.1" cy="114.1" r="0.95"/><circle cx="109.3" cy="131.2" r="0.95"/><circle cx="109.5" cy="125.6" r="0.95"/><circle cx="109.7" cy="132.5" r="0.95"/><circle cx="109.9" cy="118.8" r="0.95"/><circle cx="110.2" cy="106.2" r="0.95"/><circle cx="110.4" cy="121.1" r="0.95"/><circle cx="110.6" cy="117.3" r="0.95"/><circle cx="110.8" cy="130.6" r="0.95"/><circle cx="111.0" cy="124.1" r="0.95"/><circle cx="111.3" cy="103.9" r="0.95"/><circle cx="111.5" cy="108.6" r="0.95"/><circle cx="111.7" cy="131.3" r="0.95"/><circle cx="111.9" cy="128.9" r="0.95"/><circle cx="112.1" cy="114.2" r="0.95"/><circle cx="112.4" cy="121.1" r="0.95"/><circle cx="112.6" cy="125.9" r="0.95"/><circle cx="112.8" cy="126.0" r="0.95"/><circle cx="113.0" cy="130.3" r="0.95"/><circle cx="113.2" cy="123.3" r="0.95"/><circle cx="113.5" cy="119.3" r="0.95"/><circle cx="113.7" cy="117.3" r="0.95"/><circle cx="113.9" cy="131.6" r="0.95"/><circle cx="114.1" cy="95.1" r="0.95"/><circle cx="114.3" cy="118.1" r="0.95"/><circle cx="114.6" cy="119.8" r="0.95"/><circle cx="114.8" cy="103.6" r="0.95"/><circle cx="115.0" cy="122.8" r="0.95"/><circle cx="115.2" cy="111.7" r="0.95"/><circle cx="115.4" cy="128.2" r="0.95"/><circle cx="115.7" cy="117.1" r="0.95"/><circle cx="115.9" cy="125.6" r="0.95"/><circle cx="116.1" cy="131.5" r="0.95"/><circle cx="116.3" cy="122.1" r="0.95"/><circle cx="116.6" cy="108.0" r="0.95"/><circle cx="116.8" cy="100.7" r="0.95"/><circle cx="117.0" cy="136.4" r="0.95"/><circle cx="117.2" cy="115.7" r="0.95"/><circle cx="117.4" cy="109.1" r="0.95"/><circle cx="117.7" cy="118.0" r="0.95"/><circle cx="117.9" cy="114.0" r="0.95"/><circle cx="118.1" cy="125.2" r="0.95"/><circle cx="118.3" cy="115.9" r="0.95"/><circle cx="118.5" cy="115.4" r="0.95"/><circle cx="118.8" cy="107.1" r="0.95"/><circle cx="119.0" cy="119.8" r="0.95"/><circle cx="119.2" cy="103.0" r="0.95"/><circle cx="119.4" cy="121.3" r="0.95"/><circle cx="119.6" cy="130.4" r="0.95"/><circle cx="119.9" cy="96.6" r="0.95"/><circle cx="120.1" cy="85.8" r="0.95"/><circle cx="120.3" cy="119.4" r="0.95"/><circle cx="120.5" cy="140.3" r="0.95"/><circle cx="120.7" cy="100.8" r="0.95"/><circle cx="121.0" cy="97.7" r="0.95"/><circle cx="121.2" cy="117.5" r="0.95"/><circle cx="121.4" cy="101.4" r="0.95"/><circle cx="121.6" cy="104.6" r="0.95"/><circle cx="121.8" cy="105.9" r="0.95"/><circle cx="122.1" cy="115.1" r="0.95"/><circle cx="122.3" cy="104.3" r="0.95"/><circle cx="122.5" cy="111.4" r="0.95"/><circle cx="122.7" cy="105.9" r="0.95"/><circle cx="122.9" cy="98.0" r="0.95"/><circle cx="123.2" cy="103.2" r="0.95"/><circle cx="123.4" cy="95.7" r="0.95"/><circle cx="123.6" cy="105.7" r="0.95"/><circle cx="123.8" cy="92.7" r="0.95"/><circle cx="124.0" cy="92.4" r="0.95"/><circle cx="124.3" cy="119.9" r="0.95"/><circle cx="124.5" cy="102.6" r="0.95"/><circle cx="124.7" cy="101.9" r="0.95"/><circle cx="124.9" cy="107.5" r="0.95"/><circle cx="125.1" cy="96.5" r="0.95"/><circle cx="125.4" cy="97.9" r="0.95"/><circle cx="125.6" cy="104.4" r="0.95"/><circle cx="125.8" cy="102.1" r="0.95"/><circle cx="126.0" cy="85.5" r="0.95"/><circle cx="126.2" cy="106.6" r="0.95"/><circle cx="126.5" cy="90.2" r="0.95"/><circle cx="126.7" cy="84.2" r="0.95"/><circle cx="126.9" cy="85.1" r="0.95"/><circle cx="127.1" cy="89.9" r="0.95"/><circle cx="127.3" cy="111.2" r="0.95"/><circle cx="127.6" cy="79.6" r="0.95"/><circle cx="127.8" cy="93.4" r="0.95"/><circle cx="128.0" cy="67.3" r="0.95"/><circle cx="128.2" cy="89.9" r="0.95"/><circle cx="128.4" cy="99.0" r="0.95"/><circle cx="128.7" cy="85.6" r="0.95"/><circle cx="128.9" cy="80.5" r="0.95"/><circle cx="129.1" cy="89.1" r="0.95"/><circle cx="129.3" cy="93.5" r="0.95"/><circle cx="129.5" cy="92.3" r="0.95"/><circle cx="129.8" cy="106.0" r="0.95"/><circle cx="130.0" cy="85.9" r="0.95"/><circle cx="130.2" cy="76.5" r="0.95"/><circle cx="130.4" cy="81.1" r="0.95"/><circle cx="130.6" cy="81.2" r="0.95"/><circle cx="130.9" cy="82.8" r="0.95"/><circle cx="131.1" cy="80.9" r="0.95"/><circle cx="131.3" cy="83.0" r="0.95"/><circle cx="131.5" cy="62.6" r="0.95"/><circle cx="131.8" cy="90.1" r="0.95"/><circle cx="132.0" cy="74.7" r="0.95"/><circle cx="132.2" cy="68.4" r="0.95"/><circle cx="132.4" cy="88.7" r="0.95"/><circle cx="132.6" cy="96.6" r="0.95"/><circle cx="132.9" cy="88.2" r="0.95"/><circle cx="133.1" cy="85.3" r="0.95"/><circle cx="133.3" cy="74.1" r="0.95"/><circle cx="133.5" cy="117.3" r="0.95"/><circle cx="133.7" cy="97.1" r="0.95"/><circle cx="134.0" cy="76.8" r="0.95"/><circle cx="134.2" cy="82.8" r="0.95"/><circle cx="134.4" cy="94.6" r="0.95"/><circle cx="134.6" cy="78.8" r="0.95"/><circle cx="134.8" cy="100.1" r="0.95"/><circle cx="135.1" cy="95.5" r="0.95"/><circle cx="135.3" cy="116.4" r="0.95"/><circle cx="135.5" cy="115.8" r="0.95"/><circle cx="135.7" cy="77.6" r="0.95"/><circle cx="135.9" cy="110.0" r="0.95"/><circle cx="136.2" cy="93.8" r="0.95"/><circle cx="136.4" cy="125.7" r="0.95"/><circle cx="136.6" cy="117.1" r="0.95"/><circle cx="136.8" cy="123.0" r="0.95"/><circle cx="137.0" cy="106.8" r="0.95"/><circle cx="137.3" cy="140.1" r="0.95"/><circle cx="137.5" cy="143.6" r="0.95"/><circle cx="137.7" cy="110.9" r="0.95"/><circle cx="137.9" cy="127.9" r="0.95"/><circle cx="138.1" cy="117.5" r="0.95"/><circle cx="138.4" cy="125.6" r="0.95"/><circle cx="138.6" cy="112.8" r="0.95"/><circle cx="138.8" cy="148.1" r="0.95"/><circle cx="139.0" cy="117.7" r="0.95"/><circle cx="139.2" cy="125.8" r="0.95"/><circle cx="139.5" cy="135.2" r="0.95"/><circle cx="139.7" cy="123.2" r="0.95"/><circle cx="139.9" cy="128.2" r="0.95"/><circle cx="140.1" cy="125.1" r="0.95"/><circle cx="140.3" cy="130.3" r="0.95"/><circle cx="140.6" cy="119.3" r="0.95"/><circle cx="140.8" cy="127.7" r="0.95"/><circle cx="141.0" cy="130.6" r="0.95"/><circle cx="141.2" cy="129.5" r="0.95"/><circle cx="141.4" cy="134.1" r="0.95"/><circle cx="141.7" cy="130.5" r="0.95"/><circle cx="141.9" cy="142.3" r="0.95"/><circle cx="142.1" cy="130.7" r="0.95"/><circle cx="142.3" cy="132.9" r="0.95"/><circle cx="142.5" cy="127.3" r="0.95"/><circle cx="142.8" cy="129.0" r="0.95"/><circle cx="143.0" cy="121.0" r="0.95"/><circle cx="143.2" cy="140.8" r="0.95"/><circle cx="143.4" cy="122.7" r="0.95"/><circle cx="143.6" cy="127.2" r="0.95"/><circle cx="143.9" cy="139.4" r="0.95"/><circle cx="144.1" cy="140.0" r="0.95"/><circle cx="144.3" cy="131.3" r="0.95"/><circle cx="144.5" cy="113.5" r="0.95"/><circle cx="144.7" cy="140.4" r="0.95"/><circle cx="145.0" cy="138.7" r="0.95"/><circle cx="145.2" cy="120.4" r="0.95"/><circle cx="145.4" cy="144.5" r="0.95"/><circle cx="145.6" cy="128.3" r="0.95"/><circle cx="145.8" cy="123.7" r="0.95"/><circle cx="146.1" cy="137.2" r="0.95"/><circle cx="146.3" cy="134.2" r="0.95"/><circle cx="146.5" cy="138.4" r="0.95"/><circle cx="146.7" cy="118.6" r="0.95"/><circle cx="146.9" cy="156.2" r="0.95"/><circle cx="147.2" cy="129.7" r="0.95"/><circle cx="147.4" cy="119.4" r="0.95"/><circle cx="147.6" cy="143.1" r="0.95"/><circle cx="147.8" cy="132.5" r="0.95"/><circle cx="148.1" cy="139.9" r="0.95"/><circle cx="148.3" cy="132.6" r="0.95"/><circle cx="148.5" cy="135.7" r="0.95"/><circle cx="148.7" cy="139.1" r="0.95"/><circle cx="148.9" cy="128.2" r="0.95"/><circle cx="149.2" cy="143.9" r="0.95"/><circle cx="149.4" cy="131.2" r="0.95"/><circle cx="149.6" cy="126.8" r="0.95"/><circle cx="149.8" cy="137.3" r="0.95"/><circle cx="150.0" cy="141.3" r="0.95"/><circle cx="150.3" cy="133.9" r="0.95"/><circle cx="150.5" cy="126.9" r="0.95"/><circle cx="150.7" cy="143.2" r="0.95"/><circle cx="150.9" cy="117.0" r="0.95"/><circle cx="151.1" cy="125.0" r="0.95"/><circle cx="151.4" cy="136.8" r="0.95"/><circle cx="151.6" cy="121.4" r="0.95"/><circle cx="151.8" cy="136.7" r="0.95"/><circle cx="152.0" cy="135.7" r="0.95"/><circle cx="152.2" cy="146.2" r="0.95"/><circle cx="152.5" cy="126.3" r="0.95"/><circle cx="152.7" cy="129.4" r="0.95"/><circle cx="152.9" cy="140.0" r="0.95"/><circle cx="153.1" cy="109.3" r="0.95"/><circle cx="153.3" cy="170.4" r="0.95"/><circle cx="153.6" cy="128.6" r="0.95"/><circle cx="153.8" cy="128.2" r="0.95"/><circle cx="154.0" cy="145.7" r="0.95"/><circle cx="154.2" cy="135.8" r="0.95"/><circle cx="154.4" cy="116.7" r="0.95"/><circle cx="154.7" cy="143.1" r="0.95"/><circle cx="154.9" cy="145.6" r="0.95"/><circle cx="155.1" cy="131.2" r="0.95"/><circle cx="155.3" cy="133.1" r="0.95"/><circle cx="155.5" cy="141.5" r="0.95"/><circle cx="155.8" cy="126.1" r="0.95"/><circle cx="156.0" cy="141.0" r="0.95"/><circle cx="156.2" cy="138.3" r="0.95"/><circle cx="156.4" cy="128.7" r="0.95"/><circle cx="156.6" cy="120.8" r="0.95"/><circle cx="156.9" cy="133.6" r="0.95"/><circle cx="157.1" cy="126.4" r="0.95"/><circle cx="157.3" cy="147.1" r="0.95"/><circle cx="157.5" cy="137.6" r="0.95"/><circle cx="157.7" cy="144.6" r="0.95"/><circle cx="158.0" cy="137.5" r="0.95"/><circle cx="158.2" cy="138.9" r="0.95"/><circle cx="158.4" cy="127.4" r="0.95"/><circle cx="158.6" cy="143.3" r="0.95"/><circle cx="158.8" cy="155.6" r="0.95"/><circle cx="159.1" cy="132.5" r="0.95"/><circle cx="159.3" cy="129.4" r="0.95"/><circle cx="159.5" cy="134.2" r="0.95"/><circle cx="159.7" cy="130.6" r="0.95"/><circle cx="159.9" cy="128.2" r="0.95"/><circle cx="160.2" cy="137.4" r="0.95"/><circle cx="160.4" cy="132.6" r="0.95"/><circle cx="160.6" cy="151.7" r="0.95"/><circle cx="160.8" cy="135.8" r="0.95"/><circle cx="161.0" cy="139.4" r="0.95"/><circle cx="161.3" cy="146.3" r="0.95"/><circle cx="161.5" cy="132.5" r="0.95"/><circle cx="161.7" cy="151.6" r="0.95"/><circle cx="161.9" cy="128.8" r="0.95"/><circle cx="162.1" cy="126.8" r="0.95"/><circle cx="162.4" cy="131.7" r="0.95"/><circle cx="162.6" cy="134.4" r="0.95"/><circle cx="162.8" cy="120.3" r="0.95"/><circle cx="163.0" cy="135.3" r="0.95"/><circle cx="163.3" cy="117.3" r="0.95"/><circle cx="163.5" cy="151.0" r="0.95"/><circle cx="163.7" cy="134.7" r="0.95"/><circle cx="163.9" cy="128.6" r="0.95"/><circle cx="164.1" cy="125.6" r="0.95"/><circle cx="164.4" cy="131.4" r="0.95"/><circle cx="164.6" cy="133.1" r="0.95"/><circle cx="164.8" cy="124.1" r="0.95"/><circle cx="165.0" cy="125.4" r="0.95"/><circle cx="165.2" cy="133.5" r="0.95"/><circle cx="165.5" cy="129.8" r="0.95"/><circle cx="165.7" cy="145.8" r="0.95"/><circle cx="165.9" cy="148.0" r="0.95"/><circle cx="166.1" cy="135.7" r="0.95"/><circle cx="166.3" cy="140.7" r="0.95"/><circle cx="166.6" cy="120.8" r="0.95"/><circle cx="166.8" cy="142.5" r="0.95"/><circle cx="167.0" cy="135.1" r="0.95"/><circle cx="167.2" cy="140.8" r="0.95"/><circle cx="167.4" cy="153.0" r="0.95"/><circle cx="167.7" cy="110.3" r="0.95"/><circle cx="167.9" cy="138.3" r="0.95"/><circle cx="168.1" cy="123.3" r="0.95"/><circle cx="168.3" cy="141.9" r="0.95"/><circle cx="168.5" cy="120.9" r="0.95"/><circle cx="168.8" cy="129.9" r="0.95"/><circle cx="169.0" cy="137.6" r="0.95"/><circle cx="169.2" cy="142.1" r="0.95"/><circle cx="169.4" cy="136.1" r="0.95"/><circle cx="169.6" cy="126.6" r="0.95"/><circle cx="169.9" cy="129.2" r="0.95"/><circle cx="170.1" cy="145.0" r="0.95"/><circle cx="170.3" cy="135.2" r="0.95"/><circle cx="170.5" cy="116.7" r="0.95"/><circle cx="170.7" cy="144.5" r="0.95"/><circle cx="171.0" cy="139.8" r="0.95"/><circle cx="171.2" cy="144.8" r="0.95"/><circle cx="171.4" cy="131.5" r="0.95"/><circle cx="171.6" cy="144.3" r="0.95"/><circle cx="171.8" cy="123.5" r="0.95"/><circle cx="172.1" cy="141.4" r="0.95"/><circle cx="172.3" cy="129.8" r="0.95"/><circle cx="172.5" cy="142.6" r="0.95"/><circle cx="172.7" cy="146.2" r="0.95"/><circle cx="172.9" cy="127.0" r="0.95"/><circle cx="173.2" cy="134.6" r="0.95"/><circle cx="173.4" cy="135.5" r="0.95"/><circle cx="173.6" cy="148.2" r="0.95"/><circle cx="173.8" cy="142.9" r="0.95"/><circle cx="174.0" cy="121.7" r="0.95"/><circle cx="174.3" cy="140.1" r="0.95"/><circle cx="174.5" cy="143.3" r="0.95"/><circle cx="174.7" cy="158.4" r="0.95"/><circle cx="174.9" cy="116.6" r="0.95"/><circle cx="175.1" cy="129.1" r="0.95"/><circle cx="175.4" cy="149.7" r="0.95"/><circle cx="175.6" cy="120.1" r="0.95"/><circle cx="175.8" cy="121.8" r="0.95"/><circle cx="176.0" cy="140.7" r="0.95"/><circle cx="176.2" cy="146.2" r="0.95"/><circle cx="176.5" cy="127.6" r="0.95"/><circle cx="176.7" cy="140.9" r="0.95"/><circle cx="176.9" cy="136.2" r="0.95"/><circle cx="177.1" cy="151.7" r="0.95"/><circle cx="177.3" cy="134.9" r="0.95"/><circle cx="177.6" cy="145.8" r="0.95"/><circle cx="177.8" cy="125.0" r="0.95"/><circle cx="178.0" cy="132.9" r="0.95"/><circle cx="178.2" cy="133.8" r="0.95"/><circle cx="178.5" cy="147.4" r="0.95"/><circle cx="178.7" cy="141.3" r="0.95"/><circle cx="178.9" cy="126.6" r="0.95"/><circle cx="179.1" cy="142.4" r="0.95"/><circle cx="179.3" cy="143.3" r="0.95"/><circle cx="179.6" cy="133.6" r="0.95"/><circle cx="179.8" cy="132.0" r="0.95"/><circle cx="180.0" cy="132.7" r="0.95"/><circle cx="180.2" cy="116.2" r="0.95"/><circle cx="180.4" cy="136.9" r="0.95"/><circle cx="180.7" cy="137.4" r="0.95"/><circle cx="180.9" cy="125.3" r="0.95"/><circle cx="181.1" cy="143.0" r="0.95"/><circle cx="181.3" cy="119.7" r="0.95"/><circle cx="181.5" cy="128.7" r="0.95"/><circle cx="181.8" cy="129.5" r="0.95"/><circle cx="182.0" cy="156.6" r="0.95"/><circle cx="182.2" cy="117.2" r="0.95"/><circle cx="182.4" cy="140.9" r="0.95"/><circle cx="182.6" cy="145.1" r="0.95"/><circle cx="182.9" cy="138.9" r="0.95"/><circle cx="183.1" cy="147.7" r="0.95"/><circle cx="183.3" cy="123.7" r="0.95"/><circle cx="183.5" cy="109.6" r="0.95"/><circle cx="183.7" cy="143.1" r="0.95"/><circle cx="184.0" cy="121.5" r="0.95"/><circle cx="184.2" cy="131.1" r="0.95"/><circle cx="184.4" cy="121.7" r="0.95"/><circle cx="184.6" cy="146.2" r="0.95"/><circle cx="184.8" cy="144.2" r="0.95"/><circle cx="185.1" cy="126.7" r="0.95"/><circle cx="185.3" cy="144.6" r="0.95"/><circle cx="185.5" cy="136.0" r="0.95"/></g>
<path d="M92.7,127.6 L93.1,127.6 L93.5,127.5 L93.9,127.4 L94.3,127.4 L94.7,127.3 L95.1,127.2 L95.5,127.1 L95.9,127.1 L96.3,127.0 L96.7,126.9 L97.1,126.8 L97.5,126.7 L97.9,126.7 L98.3,126.6 L98.7,126.5 L99.1,126.4 L99.5,126.3 L99.9,126.2 L100.3,126.1 L100.7,126.0 L101.1,125.9 L101.5,125.8 L101.9,125.7 L102.3,125.6 L102.7,125.5 L103.1,125.3 L103.5,125.2 L103.9,125.1 L104.3,124.9 L104.7,124.8 L105.1,124.7 L105.5,124.5 L105.9,124.4 L106.3,124.2 L106.7,124.1 L107.1,123.9 L107.5,123.7 L107.9,123.6 L108.3,123.4 L108.7,123.2 L109.1,123.0 L109.5,122.8 L109.9,122.6 L110.3,122.4 L110.7,122.2 L111.1,121.9 L111.5,121.7 L111.9,121.4 L112.3,121.2 L112.7,120.9 L113.1,120.6 L113.5,120.3 L113.9,120.0 L114.3,119.7 L114.7,119.4 L115.1,119.0 L115.5,118.7 L115.9,118.3 L116.3,117.9 L116.7,117.5 L117.1,117.0 L117.5,116.6 L117.9,116.1 L118.3,115.6 L118.7,115.0 L119.1,114.5 L119.5,113.9 L119.9,113.3 L120.3,112.6 L120.7,111.9 L121.1,111.2 L121.5,110.4 L121.9,109.6 L122.3,108.7 L122.7,107.8 L123.1,106.9 L123.5,105.9 L123.9,104.8 L124.3,103.7 L124.7,102.5 L125.1,101.3 L125.5,100.0 L125.9,98.7 L126.3,97.2 L126.7,95.8 L127.1,94.3 L127.5,92.7 L127.9,91.2 L128.3,89.6 L128.7,88.1 L129.1,86.6 L129.5,85.2 L129.9,83.9 L130.3,82.8 L130.7,81.9 L131.1,81.3 L131.5,81.0 L131.9,81.0 L132.3,81.5 L132.7,82.3 L133.1,83.6 L133.5,85.6 L133.9,88.9 L134.3,92.7 L134.7,96.8 L135.1,101.1 L135.5,105.2 L135.9,109.2 L136.3,112.8 L136.7,116.1 L137.1,119.0 L137.5,121.5 L137.9,123.7 L138.3,125.6 L138.7,127.2 L139.1,128.6 L139.5,129.8 L139.9,130.8 L140.3,131.7 L140.7,132.4 L141.1,133.0 L141.5,133.6 L141.9,134.0 L142.3,134.4 L142.7,134.8 L143.1,135.0 L143.5,135.3 L143.9,135.5 L144.3,135.7 L144.7,135.8 L145.1,135.9 L145.5,136.0 L145.9,136.1 L146.3,136.2 L146.7,136.2 L147.1,136.3 L147.5,136.3 L147.9,136.4 L148.3,136.4 L148.7,136.4 L149.1,136.4 L149.5,136.4 L149.9,136.4 L150.3,136.4 L150.7,136.4 L151.1,136.4 L151.5,136.4 L151.9,136.4 L152.3,136.3 L152.7,136.3 L153.1,136.3 L153.5,136.3 L153.9,136.3 L154.3,136.2 L154.7,136.2 L155.1,136.2 L155.5,136.2 L155.9,136.1 L156.3,136.1 L156.7,136.1 L157.1,136.1 L157.5,136.0 L157.9,136.0 L158.3,136.0 L158.7,136.0 L159.1,135.9 L159.5,135.9 L159.9,135.9 L160.3,135.8 L160.7,135.8 L161.1,135.8 L161.5,135.8 L161.9,135.7 L162.3,135.7 L162.7,135.7 L163.1,135.7 L163.5,135.6 L163.9,135.6 L164.3,135.6 L164.7,135.6 L165.1,135.5 L165.5,135.5 L165.9,135.5 L166.3,135.5 L166.7,135.5 L167.1,135.4 L167.5,135.4 L167.9,135.4 L168.3,135.4 L168.7,135.3 L169.1,135.3 L169.5,135.3 L169.9,135.3 L170.3,135.3 L170.7,135.2 L171.1,135.2 L171.5,135.2 L171.9,135.2 L172.3,135.2 L172.7,135.1 L173.1,135.1 L173.5,135.1 L173.9,135.1 L174.3,135.1 L174.7,135.1 L175.1,135.0 L175.5,135.0 L175.9,135.0 L176.3,135.0 L176.7,135.0 L177.1,134.9 L177.5,134.9 L177.9,134.9 L178.3,134.9 L178.7,134.9 L179.1,134.9 L179.5,134.9 L179.9,134.8 L180.3,134.8 L180.7,134.8 L181.1,134.8 L181.5,134.8 L181.9,134.8 L182.3,134.7 L182.7,134.7 L183.1,134.7 L183.5,134.7 L183.9,134.7 L184.3,134.7 L184.7,134.7 L185.1,134.7 L185.5,134.6 L185.9,134.6 L186.3,134.6" fill="none" stroke="#141428" stroke-width="2.0" stroke-linejoin="round" stroke-linecap="round" />
</g>
<rect x="92.7" y="72.1" width="93.3" height="75.3" fill="none" stroke="#707070" stroke-width="1.0"/>
<line x1="92.7" y1="82.8" x2="95.7" y2="82.8" stroke="#3a3a3a" stroke-width="1.0" />
<line x1="186" y1="82.8" x2="183" y2="82.8" stroke="#3a3a3a" stroke-width="1.0" />
<line x1="92.7" y1="135.7" x2="95.7" y2="135.7" stroke="#3a3a3a" stroke-width="1.0" />
<line x1="186" y1="135.7" x2="183" y2="135.7" stroke="#3a3a3a" stroke-width="1.0" />
<line x1="139.2" y1="147.4" x2="139.2" y2="144.4" stroke="#3a3a3a" stroke-width="1.0" />
<line x1="139.2" y1="72.1" x2="139.2" y2="75.1" stroke="#3a3a3a" stroke-width="1.0" />
<text x="90.6" y="86.8" font-size="11.3" text-anchor="end" fill="#1c1c1c" >0.025</text>
<text x="90.6" y="139.7" font-size="11.3" text-anchor="end" fill="#1c1c1c" >0</text>
<text x="139.4" y="158.6" font-size="11.3" text-anchor="middle" fill="#1c1c1c" >39.45</text>
<text transform="translate(73.4,112.8) rotate(-90)" x="0" y="0" font-size="11.3" text-anchor="middle" dominant-baseline="central" fill="#1c1c1c">Δ<tspan font-style="italic">I</tspan> (pA)</text>
<line x1="143.8" y1="83.3" x2="143.8" y2="129.3" stroke="#111" stroke-width="1.35" />
<path d="M141.6,84.8 L143.8,80.8 L146.0,84.8 Z" fill="#111"/>
<path d="M141.6,127.8 L143.8,131.8 L146.0,127.8 Z" fill="#111"/>
<text x="149" y="109.6" font-size="9.4" text-anchor="start" fill="#1c1c1c" textLength=" lengthAdjust="spacingAndGlyphs"33.2" >26.27 fA</text>
<rect x="92.7" y="209" width="93.3" height="74.8" fill="#ffffff" stroke="none"/>
<clipPath id="ci2"><rect x="92.7" y="209" width="93.3" height="74.8"/></clipPath>
<g clip-path="url(#ci2)">
<g fill="#6e6cb4"><circle cx="93.2" cy="276.9" r="0.95"/><circle cx="93.6" cy="275.0" r="0.95"/><circle cx="93.9" cy="275.3" r="0.95"/><circle cx="94.3" cy="270.0" r="0.95"/><circle cx="94.6" cy="281.0" r="0.95"/><circle cx="95.0" cy="279.3" r="0.95"/><circle cx="95.3" cy="275.5" r="0.95"/><circle cx="95.7" cy="278.4" r="0.95"/><circle cx="96.1" cy="277.1" r="0.95"/><circle cx="96.4" cy="274.9" r="0.95"/><circle cx="96.8" cy="278.9" r="0.95"/><circle cx="97.1" cy="275.5" r="0.95"/><circle cx="97.5" cy="275.5" r="0.95"/><circle cx="97.8" cy="274.2" r="0.95"/><circle cx="98.2" cy="277.5" r="0.95"/><circle cx="98.5" cy="276.0" r="0.95"/><circle cx="98.9" cy="277.7" r="0.95"/><circle cx="99.3" cy="274.7" r="0.95"/><circle cx="99.6" cy="276.6" r="0.95"/><circle cx="100.0" cy="273.9" r="0.95"/><circle cx="100.3" cy="278.4" r="0.95"/><circle cx="100.7" cy="276.7" r="0.95"/><circle cx="101.0" cy="277.0" r="0.95"/><circle cx="101.4" cy="277.2" r="0.95"/><circle cx="101.8" cy="273.5" r="0.95"/><circle cx="102.1" cy="278.1" r="0.95"/><circle cx="102.5" cy="281.4" r="0.95"/><circle cx="102.8" cy="271.8" r="0.95"/><circle cx="103.2" cy="271.5" r="0.95"/><circle cx="103.5" cy="272.1" r="0.95"/><circle cx="103.9" cy="278.2" r="0.95"/><circle cx="104.2" cy="276.3" r="0.95"/><circle cx="104.6" cy="278.7" r="0.95"/><circle cx="105.0" cy="277.7" r="0.95"/><circle cx="105.3" cy="276.4" r="0.95"/><circle cx="105.7" cy="276.5" r="0.95"/><circle cx="106.0" cy="275.3" r="0.95"/><circle cx="106.4" cy="277.9" r="0.95"/><circle cx="106.7" cy="272.7" r="0.95"/><circle cx="107.1" cy="274.5" r="0.95"/><circle cx="107.5" cy="276.1" r="0.95"/><circle cx="107.8" cy="280.1" r="0.95"/><circle cx="108.2" cy="273.4" r="0.95"/><circle cx="108.5" cy="272.5" r="0.95"/><circle cx="108.9" cy="273.8" r="0.95"/><circle cx="109.2" cy="277.7" r="0.95"/><circle cx="109.6" cy="274.4" r="0.95"/><circle cx="109.9" cy="278.4" r="0.95"/><circle cx="110.3" cy="270.0" r="0.95"/><circle cx="110.7" cy="277.7" r="0.95"/><circle cx="111.0" cy="277.3" r="0.95"/><circle cx="111.4" cy="270.8" r="0.95"/><circle cx="111.7" cy="274.8" r="0.95"/><circle cx="112.1" cy="277.4" r="0.95"/><circle cx="112.4" cy="274.3" r="0.95"/><circle cx="112.8" cy="276.5" r="0.95"/><circle cx="113.2" cy="279.9" r="0.95"/><circle cx="113.5" cy="274.3" r="0.95"/><circle cx="113.9" cy="272.7" r="0.95"/><circle cx="114.2" cy="271.2" r="0.95"/><circle cx="114.6" cy="274.6" r="0.95"/><circle cx="114.9" cy="272.2" r="0.95"/><circle cx="115.3" cy="272.0" r="0.95"/><circle cx="115.7" cy="271.9" r="0.95"/><circle cx="116.0" cy="273.6" r="0.95"/><circle cx="116.4" cy="268.8" r="0.95"/><circle cx="116.7" cy="267.2" r="0.95"/><circle cx="117.1" cy="264.5" r="0.95"/><circle cx="117.4" cy="273.6" r="0.95"/><circle cx="117.8" cy="270.2" r="0.95"/><circle cx="118.1" cy="273.5" r="0.95"/><circle cx="118.5" cy="269.0" r="0.95"/><circle cx="118.9" cy="266.6" r="0.95"/><circle cx="119.2" cy="269.2" r="0.95"/><circle cx="119.6" cy="267.1" r="0.95"/><circle cx="119.9" cy="263.3" r="0.95"/><circle cx="120.3" cy="263.6" r="0.95"/><circle cx="120.6" cy="269.6" r="0.95"/><circle cx="121.0" cy="265.1" r="0.95"/><circle cx="121.4" cy="264.3" r="0.95"/><circle cx="121.7" cy="261.5" r="0.95"/><circle cx="122.1" cy="259.3" r="0.95"/><circle cx="122.4" cy="262.3" r="0.95"/><circle cx="122.8" cy="258.4" r="0.95"/><circle cx="123.1" cy="255.3" r="0.95"/><circle cx="123.5" cy="255.5" r="0.95"/><circle cx="123.8" cy="251.9" r="0.95"/><circle cx="124.2" cy="253.0" r="0.95"/><circle cx="124.6" cy="253.6" r="0.95"/><circle cx="124.9" cy="246.5" r="0.95"/><circle cx="125.3" cy="250.4" r="0.95"/><circle cx="125.6" cy="242.7" r="0.95"/><circle cx="126.0" cy="242.6" r="0.95"/><circle cx="126.3" cy="237.6" r="0.95"/><circle cx="126.7" cy="236.7" r="0.95"/><circle cx="127.1" cy="234.9" r="0.95"/><circle cx="127.4" cy="231.0" r="0.95"/><circle cx="127.8" cy="227.8" r="0.95"/><circle cx="128.1" cy="225.3" r="0.95"/><circle cx="128.5" cy="222.5" r="0.95"/><circle cx="128.8" cy="218.2" r="0.95"/><circle cx="129.2" cy="219.5" r="0.95"/><circle cx="129.5" cy="219.3" r="0.95"/><circle cx="129.9" cy="219.0" r="0.95"/><circle cx="130.3" cy="216.9" r="0.95"/><circle cx="130.6" cy="220.7" r="0.95"/><circle cx="131.0" cy="214.5" r="0.95"/><circle cx="131.3" cy="212.1" r="0.95"/><circle cx="131.7" cy="218.0" r="0.95"/><circle cx="132.0" cy="210.5" r="0.95"/><circle cx="132.4" cy="216.1" r="0.95"/><circle cx="132.8" cy="211.7" r="0.95"/><circle cx="133.1" cy="215.9" r="0.95"/><circle cx="133.5" cy="210.8" r="0.95"/><circle cx="133.8" cy="219.3" r="0.95"/><circle cx="134.2" cy="217.8" r="0.95"/><circle cx="134.5" cy="217.0" r="0.95"/><circle cx="134.9" cy="225.3" r="0.95"/><circle cx="135.3" cy="224.3" r="0.95"/><circle cx="135.6" cy="223.9" r="0.95"/><circle cx="136.0" cy="223.3" r="0.95"/><circle cx="136.3" cy="226.7" r="0.95"/><circle cx="136.7" cy="227.8" r="0.95"/><circle cx="137.0" cy="231.6" r="0.95"/><circle cx="137.4" cy="233.2" r="0.95"/><circle cx="137.7" cy="230.8" r="0.95"/><circle cx="138.1" cy="232.5" r="0.95"/><circle cx="138.5" cy="233.9" r="0.95"/><circle cx="138.8" cy="233.1" r="0.95"/><circle cx="139.2" cy="236.3" r="0.95"/><circle cx="139.5" cy="238.8" r="0.95"/><circle cx="139.9" cy="242.0" r="0.95"/><circle cx="140.2" cy="244.7" r="0.95"/><circle cx="140.6" cy="240.3" r="0.95"/><circle cx="141.0" cy="244.8" r="0.95"/><circle cx="141.3" cy="243.2" r="0.95"/><circle cx="141.7" cy="250.7" r="0.95"/><circle cx="142.0" cy="246.1" r="0.95"/><circle cx="142.4" cy="248.4" r="0.95"/><circle cx="142.7" cy="245.5" r="0.95"/><circle cx="143.1" cy="246.6" r="0.95"/><circle cx="143.4" cy="250.0" r="0.95"/><circle cx="143.8" cy="249.2" r="0.95"/><circle cx="144.2" cy="251.8" r="0.95"/><circle cx="144.5" cy="247.5" r="0.95"/><circle cx="144.9" cy="253.9" r="0.95"/><circle cx="145.2" cy="250.4" r="0.95"/><circle cx="145.6" cy="257.8" r="0.95"/><circle cx="145.9" cy="253.1" r="0.95"/><circle cx="146.3" cy="257.3" r="0.95"/><circle cx="146.7" cy="251.3" r="0.95"/><circle cx="147.0" cy="256.5" r="0.95"/><circle cx="147.4" cy="253.6" r="0.95"/><circle cx="147.7" cy="255.1" r="0.95"/><circle cx="148.1" cy="256.8" r="0.95"/><circle cx="148.4" cy="256.4" r="0.95"/><circle cx="148.8" cy="258.3" r="0.95"/><circle cx="149.2" cy="259.9" r="0.95"/><circle cx="149.5" cy="260.0" r="0.95"/><circle cx="149.9" cy="258.5" r="0.95"/><circle cx="150.2" cy="255.5" r="0.95"/><circle cx="150.6" cy="257.3" r="0.95"/><circle cx="150.9" cy="259.2" r="0.95"/><circle cx="151.3" cy="254.5" r="0.95"/><circle cx="151.6" cy="262.3" r="0.95"/><circle cx="152.0" cy="260.0" r="0.95"/><circle cx="152.4" cy="260.2" r="0.95"/><circle cx="152.7" cy="263.6" r="0.95"/><circle cx="153.1" cy="263.1" r="0.95"/><circle cx="153.4" cy="262.2" r="0.95"/><circle cx="153.8" cy="259.3" r="0.95"/><circle cx="154.1" cy="262.9" r="0.95"/><circle cx="154.5" cy="263.2" r="0.95"/><circle cx="154.9" cy="260.2" r="0.95"/><circle cx="155.2" cy="265.5" r="0.95"/><circle cx="155.6" cy="264.3" r="0.95"/><circle cx="155.9" cy="258.0" r="0.95"/><circle cx="156.3" cy="263.7" r="0.95"/><circle cx="156.6" cy="260.2" r="0.95"/><circle cx="157.0" cy="266.7" r="0.95"/><circle cx="157.3" cy="266.0" r="0.95"/><circle cx="157.7" cy="261.2" r="0.95"/><circle cx="158.1" cy="261.9" r="0.95"/><circle cx="158.4" cy="264.6" r="0.95"/><circle cx="158.8" cy="263.9" r="0.95"/><circle cx="159.1" cy="268.6" r="0.95"/><circle cx="159.5" cy="266.7" r="0.95"/><circle cx="159.8" cy="264.2" r="0.95"/><circle cx="160.2" cy="266.6" r="0.95"/><circle cx="160.6" cy="260.0" r="0.95"/><circle cx="160.9" cy="266.2" r="0.95"/><circle cx="161.3" cy="267.7" r="0.95"/><circle cx="161.6" cy="265.2" r="0.95"/><circle cx="162.0" cy="263.9" r="0.95"/><circle cx="162.3" cy="267.3" r="0.95"/><circle cx="162.7" cy="271.1" r="0.95"/><circle cx="163.0" cy="266.6" r="0.95"/><circle cx="163.4" cy="263.3" r="0.95"/><circle cx="163.8" cy="270.1" r="0.95"/><circle cx="164.1" cy="261.5" r="0.95"/><circle cx="164.5" cy="267.8" r="0.95"/><circle cx="164.8" cy="265.1" r="0.95"/><circle cx="165.2" cy="269.1" r="0.95"/><circle cx="165.5" cy="264.6" r="0.95"/><circle cx="165.9" cy="270.3" r="0.95"/><circle cx="166.3" cy="267.7" r="0.95"/><circle cx="166.6" cy="262.6" r="0.95"/><circle cx="167.0" cy="262.0" r="0.95"/><circle cx="167.3" cy="266.4" r="0.95"/><circle cx="167.7" cy="270.7" r="0.95"/><circle cx="168.0" cy="267.7" r="0.95"/><circle cx="168.4" cy="267.6" r="0.95"/><circle cx="168.8" cy="266.9" r="0.95"/><circle cx="169.1" cy="269.5" r="0.95"/><circle cx="169.5" cy="268.7" r="0.95"/><circle cx="169.8" cy="268.5" r="0.95"/><circle cx="170.2" cy="265.3" r="0.95"/><circle cx="170.5" cy="271.0" r="0.95"/><circle cx="170.9" cy="271.5" r="0.95"/><circle cx="171.2" cy="264.6" r="0.95"/><circle cx="171.6" cy="274.1" r="0.95"/><circle cx="172.0" cy="270.0" r="0.95"/><circle cx="172.3" cy="266.9" r="0.95"/><circle cx="172.7" cy="263.3" r="0.95"/><circle cx="173.0" cy="270.0" r="0.95"/><circle cx="173.4" cy="269.8" r="0.95"/><circle cx="173.7" cy="266.9" r="0.95"/><circle cx="174.1" cy="263.8" r="0.95"/><circle cx="174.5" cy="271.5" r="0.95"/><circle cx="174.8" cy="267.1" r="0.95"/><circle cx="175.2" cy="267.4" r="0.95"/><circle cx="175.5" cy="276.1" r="0.95"/><circle cx="175.9" cy="274.3" r="0.95"/><circle cx="176.2" cy="271.3" r="0.95"/><circle cx="176.6" cy="267.7" r="0.95"/><circle cx="176.9" cy="270.6" r="0.95"/><circle cx="177.3" cy="263.0" r="0.95"/><circle cx="177.7" cy="269.3" r="0.95"/><circle cx="178.0" cy="267.1" r="0.95"/><circle cx="178.4" cy="265.7" r="0.95"/><circle cx="178.7" cy="265.0" r="0.95"/><circle cx="179.1" cy="270.5" r="0.95"/><circle cx="179.4" cy="269.4" r="0.95"/><circle cx="179.8" cy="269.7" r="0.95"/><circle cx="180.2" cy="271.5" r="0.95"/><circle cx="180.5" cy="267.1" r="0.95"/><circle cx="180.9" cy="266.1" r="0.95"/><circle cx="181.2" cy="264.8" r="0.95"/><circle cx="181.6" cy="268.6" r="0.95"/><circle cx="181.9" cy="271.4" r="0.95"/><circle cx="182.3" cy="269.1" r="0.95"/><circle cx="182.6" cy="271.2" r="0.95"/><circle cx="183.0" cy="266.5" r="0.95"/><circle cx="183.4" cy="268.4" r="0.95"/><circle cx="183.7" cy="267.7" r="0.95"/><circle cx="184.1" cy="266.4" r="0.95"/><circle cx="184.4" cy="274.5" r="0.95"/><circle cx="184.8" cy="272.0" r="0.95"/><circle cx="185.1" cy="267.8" r="0.95"/><circle cx="185.5" cy="267.8" r="0.95"/></g>
<path d="M92.7,276.4 L93.1,276.4 L93.5,276.4 L93.9,276.4 L94.3,276.4 L94.7,276.4 L95.1,276.4 L95.5,276.4 L95.9,276.3 L96.3,276.3 L96.7,276.3 L97.1,276.3 L97.5,276.3 L97.9,276.3 L98.3,276.3 L98.7,276.3 L99.1,276.3 L99.5,276.2 L99.9,276.2 L100.3,276.2 L100.7,276.2 L101.1,276.2 L101.5,276.1 L101.9,276.1 L102.3,276.1 L102.7,276.1 L103.1,276.0 L103.5,276.0 L103.9,276.0 L104.3,275.9 L104.7,275.9 L105.1,275.8 L105.5,275.8 L105.9,275.7 L106.3,275.7 L106.7,275.6 L107.1,275.6 L107.5,275.5 L107.9,275.4 L108.3,275.3 L108.7,275.3 L109.1,275.2 L109.5,275.1 L109.9,275.0 L110.3,274.9 L110.7,274.7 L111.1,274.6 L111.5,274.5 L111.9,274.3 L112.3,274.2 L112.7,274.0 L113.1,273.8 L113.5,273.6 L113.9,273.4 L114.3,273.1 L114.7,272.9 L115.1,272.6 L115.5,272.3 L115.9,272.0 L116.3,271.6 L116.7,271.2 L117.1,270.8 L117.5,270.4 L117.9,269.9 L118.3,269.3 L118.7,268.7 L119.1,268.1 L119.5,267.4 L119.9,266.6 L120.3,265.8 L120.7,264.9 L121.1,263.9 L121.5,262.8 L121.9,261.7 L122.3,260.4 L122.7,259.0 L123.1,257.4 L123.5,255.8 L123.9,254.0 L124.3,252.0 L124.7,249.9 L125.1,247.7 L125.5,245.3 L125.9,242.7 L126.3,240.0 L126.7,237.3 L127.1,234.4 L127.5,231.5 L127.9,228.7 L128.3,225.9 L128.7,223.2 L129.1,220.7 L129.5,218.5 L129.9,216.6 L130.3,215.1 L130.7,214.1 L131.1,213.5 L131.5,213.2 L131.9,213.2 L132.3,213.5 L132.7,214.1 L133.1,214.9 L133.5,216.0 L133.9,217.2 L134.3,218.6 L134.7,220.1 L135.1,221.7 L135.5,223.3 L135.9,225.0 L136.3,226.7 L136.7,228.4 L137.1,230.0 L137.5,231.6 L137.9,233.2 L138.3,234.7 L138.7,236.2 L139.1,237.6 L139.5,238.9 L139.9,240.2 L140.3,241.5 L140.7,242.7 L141.1,243.8 L141.5,244.9 L141.9,245.9 L142.3,246.9 L142.7,247.8 L143.1,248.7 L143.5,249.5 L143.9,250.4 L144.3,251.1 L144.7,251.8 L145.1,252.5 L145.5,253.2 L145.9,253.8 L146.3,254.4 L146.7,255.0 L147.1,255.5 L147.5,256.1 L147.9,256.6 L148.3,257.0 L148.7,257.5 L149.1,257.9 L149.5,258.3 L149.9,258.7 L150.3,259.1 L150.7,259.5 L151.1,259.8 L151.5,260.2 L151.9,260.5 L152.3,260.8 L152.7,261.1 L153.1,261.4 L153.5,261.7 L153.9,261.9 L154.3,262.2 L154.7,262.5 L155.1,262.7 L155.5,262.9 L155.9,263.1 L156.3,263.4 L156.7,263.6 L157.1,263.8 L157.5,264.0 L157.9,264.1 L158.3,264.3 L158.7,264.5 L159.1,264.7 L159.5,264.8 L159.9,265.0 L160.3,265.1 L160.7,265.3 L161.1,265.4 L161.5,265.6 L161.9,265.7 L162.3,265.8 L162.7,266.0 L163.1,266.1 L163.5,266.2 L163.9,266.3 L164.3,266.4 L164.7,266.6 L165.1,266.7 L165.5,266.8 L165.9,266.9 L166.3,267.0 L166.7,267.1 L167.1,267.2 L167.5,267.3 L167.9,267.3 L168.3,267.4 L168.7,267.5 L169.1,267.6 L169.5,267.7 L169.9,267.8 L170.3,267.8 L170.7,267.9 L171.1,268.0 L171.5,268.1 L171.9,268.1 L172.3,268.2 L172.7,268.3 L173.1,268.3 L173.5,268.4 L173.9,268.5 L174.3,268.5 L174.7,268.6 L175.1,268.6 L175.5,268.7 L175.9,268.8 L176.3,268.8 L176.7,268.9 L177.1,268.9 L177.5,269.0 L177.9,269.0 L178.3,269.1 L178.7,269.1 L179.1,269.2 L179.5,269.2 L179.9,269.3 L180.3,269.3 L180.7,269.3 L181.1,269.4 L181.5,269.4 L181.9,269.5 L182.3,269.5 L182.7,269.5 L183.1,269.6 L183.5,269.6 L183.9,269.7 L184.3,269.7 L184.7,269.7 L185.1,269.8 L185.5,269.8 L185.9,269.8 L186.3,269.9" fill="none" stroke="#141428" stroke-width="2.0" stroke-linejoin="round" stroke-linecap="round" />
</g>
<rect x="92.7" y="209" width="93.3" height="74.8" fill="none" stroke="#707070" stroke-width="1.0"/>
<line x1="92.7" y1="223.2" x2="95.7" y2="223.2" stroke="#3a3a3a" stroke-width="1.0" />
<line x1="186" y1="223.2" x2="183" y2="223.2" stroke="#3a3a3a" stroke-width="1.0" />
<line x1="92.7" y1="274.7" x2="95.7" y2="274.7" stroke="#3a3a3a" stroke-width="1.0" />
<line x1="186" y1="274.7" x2="183" y2="274.7" stroke="#3a3a3a" stroke-width="1.0" />
<line x1="139.2" y1="283.8" x2="139.2" y2="280.8" stroke="#3a3a3a" stroke-width="1.0" />
<line x1="139.2" y1="209" x2="139.2" y2="212" stroke="#3a3a3a" stroke-width="1.0" />
<text x="90.6" y="227.2" font-size="11.3" text-anchor="end" fill="#1c1c1c" >0.2</text>
<text x="90.6" y="278.7" font-size="11.3" text-anchor="end" fill="#1c1c1c" >0</text>
<text x="139.4" y="295" font-size="11.3" text-anchor="middle" fill="#1c1c1c" >39.45</text>
<text transform="translate(73.4,249.4) rotate(-90)" x="0" y="0" font-size="11.3" text-anchor="middle" dominant-baseline="central" fill="#1c1c1c">Δ<tspan font-style="italic">I</tspan> (pA)</text>
<line x1="146" y1="216.7" x2="146" y2="269.1" stroke="#111" stroke-width="1.35" />
<path d="M143.8,218.2 L146.0,214.2 L148.2,218.2 Z" fill="#111"/>
<path d="M143.8,267.6 L146.0,271.6 L148.2,267.6 Z" fill="#111"/>
<text x="151.5" y="245.3" font-size="9.4" text-anchor="start" fill="#1c1c1c" textLength=" lengthAdjust="spacingAndGlyphs"33" >237.1 fA</text>
<text x="254.4" y="14.6" font-size="19.5" text-anchor="start" fill="#1c1c1c" >(b)</text>
<clipPath id="cb"><rect x="312" y="14.8" width="200.79999999999995" height="137.79999999999998"/></clipPath>
<g clip-path="url(#cb)">
<path d="M312.0,102.1 L313.0,103.4 L314.0,102.2 L315.0,102.3 L316.0,102.3 L317.0,102.4 L318.0,103.9 L319.0,105.5 L320.0,103.2 L321.0,104.8 L322.0,104.5 L323.0,103.7 L324.0,104.5 L325.0,104.7 L326.0,104.6 L327.0,106.7 L328.0,104.2 L329.0,106.1 L330.0,106.3 L331.0,105.8 L332.0,106.6 L333.0,107.4 L334.0,107.2 L335.0,107.6 L336.0,108.1 L337.0,106.6 L338.0,109.3 L339.0,110.2 L340.0,109.6 L341.0,109.9 L342.0,108.5 L343.0,109.7 L344.0,109.4 L345.0,109.8 L346.0,111.2 L347.0,110.2 L348.0,110.9 L349.0,109.9 L350.0,111.3 L351.0,111.7 L352.0,111.4 L353.0,111.7 L354.0,113.7 L355.0,111.8 L356.0,112.2 L357.0,112.6 L358.0,114.3 L359.0,115.1 L360.0,114.2 L361.0,113.7 L362.0,114.2 L363.0,115.5 L364.0,114.4 L365.0,116.3 L366.0,116.6 L367.0,116.0 L368.0,116.7 L369.0,117.1 L370.0,117.9 L371.0,116.4 L372.0,118.3 L373.0,117.5 L374.0,117.5 L375.0,118.4 L376.0,118.5 L377.0,118.2 L378.0,118.1 L379.0,118.9 L380.0,120.8 L381.0,121.5 L382.0,120.9 L383.0,121.5 L384.0,120.6 L385.0,121.2 L386.0,121.7 L387.0,121.0 L388.0,121.3 L389.0,122.3 L390.0,122.3 L391.0,122.0 L392.0,123.2 L393.0,122.9 L394.0,124.0 L395.0,123.5 L396.0,123.5 L397.0,124.0 L398.0,124.0 L399.0,123.8 L400.0,124.2 L401.0,125.3 L402.0,125.4 L403.0,126.2 L404.0,124.4 L405.0,125.7 L406.0,126.1 L407.0,126.9 L408.0,126.9 L409.0,127.3 L410.0,128.5 L411.0,128.5 L412.0,127.9 L413.0,130.0 L414.0,130.2 L415.0,129.4 L416.0,130.8 L417.0,130.0 L418.0,131.7 L419.0,131.0 L420.0,130.9 L421.0,131.5 L422.0,131.6 L423.0,132.5 L424.0,132.8 L425.0,133.0 L426.0,132.8 L427.0,130.9 L428.0,133.8 L429.0,132.6 L430.0,134.3 L431.0,135.2 L432.0,134.7 L433.0,134.5 L434.0,134.8 L435.0,135.0 L436.0,134.8 L437.0,135.0 L438.0,134.9 L439.0,136.5 L440.0,135.8 L441.0,136.7 L442.0,136.0 L443.0,136.4 L444.0,136.4 L445.0,137.0 L446.0,137.4 L447.0,137.2 L448.0,136.7 L449.0,136.8 L450.0,138.7 L451.0,137.5 L452.0,137.7 L453.0,139.1 L454.0,139.0 L455.0,138.8 L456.0,138.3 L457.0,140.4 L458.0,139.2 L459.0,139.5 L460.0,139.1 L461.0,138.4 L462.0,138.6 L463.0,140.0 L464.0,140.1 L465.0,139.8 L466.0,139.3 L467.0,139.3 L468.0,140.2 L469.0,139.5 L470.0,141.3 L471.0,141.6 L472.0,142.9 L473.0,141.7 L474.0,140.8 L475.0,140.7 L476.0,139.0 L477.0,141.2 L478.0,141.6 L479.0,142.5 L480.0,142.4 L481.0,142.5 L482.0,142.4 L483.0,142.8 L484.0,143.5 L485.0,141.9 L486.0,142.5 L487.0,141.9 L488.0,144.2 L489.0,144.1 L490.0,143.8 L491.0,142.6 L492.0,143.7 L493.0,143.6 L494.0,143.9 L495.0,143.9 L496.0,144.5 L497.0,144.0 L498.0,145.0 L499.0,144.7 L500.0,144.5 L501.0,144.7 L502.0,144.7 L503.0,145.7 L504.0,145.1 L505.0,145.6 L506.0,145.2 L507.0,144.6 L508.0,146.4 L509.0,145.2 L510.0,146.6 L511.0,146.5 L512.0,145.2 L513.0,145.8" fill="none" stroke="#6a1f78" stroke-width="1.7" stroke-linejoin="round" stroke-linecap="round" />
<path d="M312.0,21.2 L313.0,21.5 L314.0,21.6 L315.0,23.4 L316.0,23.2 L317.0,24.0 L318.0,23.9 L319.0,24.8 L320.0,24.5 L321.0,25.5 L322.0,26.4 L323.0,26.4 L324.0,26.5 L325.0,26.5 L326.0,27.9 L327.0,28.4 L328.0,28.5 L329.0,28.6 L330.0,29.9 L331.0,31.7 L332.0,30.3 L333.0,31.2 L334.0,31.6 L335.0,30.0 L336.0,32.4 L337.0,32.3 L338.0,34.2 L339.0,33.5 L340.0,33.6 L341.0,34.5 L342.0,35.3 L343.0,35.3 L344.0,36.1 L345.0,35.7 L346.0,37.0 L347.0,38.3 L348.0,39.6 L349.0,39.3 L350.0,39.5 L351.0,40.8 L352.0,41.2 L353.0,42.3 L354.0,42.5 L355.0,42.4 L356.0,43.4 L357.0,44.0 L358.0,44.9 L359.0,45.5 L360.0,45.6 L361.0,45.3 L362.0,47.0 L363.0,46.7 L364.0,48.8 L365.0,49.4 L366.0,48.8 L367.0,51.0 L368.0,51.7 L369.0,51.8 L370.0,53.5 L371.0,54.2 L372.0,52.6 L373.0,54.8 L374.0,55.0 L375.0,55.6 L376.0,56.6 L377.0,56.1 L378.0,56.9 L379.0,57.5 L380.0,58.3 L381.0,59.8 L382.0,60.0 L383.0,61.6 L384.0,64.0 L385.0,64.9 L386.0,66.6 L387.0,66.3 L388.0,68.3 L389.0,69.6 L390.0,71.0 L391.0,71.6 L392.0,73.6 L393.0,73.8 L394.0,74.9 L395.0,75.9 L396.0,77.4 L397.0,77.7 L398.0,80.0 L399.0,80.8 L400.0,81.8 L401.0,83.1 L402.0,84.8 L403.0,86.7 L404.0,88.5 L405.0,90.1 L406.0,92.7 L407.0,94.4 L408.0,97.5 L409.0,98.7 L410.0,99.2 L411.0,103.3 L412.0,104.1 L413.0,105.0 L414.0,107.5 L415.0,109.1 L416.0,113.5 L417.0,114.7 L418.0,115.5 L419.0,118.8 L420.0,119.7 L421.0,122.9 L422.0,122.2 L423.0,122.6 L424.0,125.3 L425.0,126.1 L426.0,127.0 L427.0,126.7 L428.0,129.4 L429.0,131.2 L430.0,129.4 L431.0,132.1 L432.0,131.1 L433.0,133.4 L434.0,132.2 L435.0,131.9 L436.0,132.9 L437.0,132.6 L438.0,132.0 L439.0,133.0 L440.0,132.2 L441.0,131.5 L442.0,134.3 L443.0,132.7 L444.0,132.7 L445.0,133.5 L446.0,132.3 L447.0,132.6 L448.0,133.4 L449.0,133.5 L450.0,134.0 L451.0,134.9 L452.0,134.0 L453.0,134.8 L454.0,135.0 L455.0,133.9 L456.0,135.0 L457.0,134.3 L458.0,135.8 L459.0,135.5 L460.0,135.3 L461.0,134.4 L462.0,135.5 L463.0,135.0 L464.0,136.1 L465.0,135.6 L466.0,135.1 L467.0,136.4 L468.0,136.3 L469.0,135.5 L470.0,136.7 L471.0,135.8 L472.0,135.8 L473.0,136.1 L474.0,135.6 L475.0,135.8 L476.0,136.1 L477.0,137.3 L478.0,137.3 L479.0,136.1 L480.0,137.5 L481.0,136.4 L482.0,136.7 L483.0,137.1 L484.0,136.7 L485.0,138.2 L486.0,136.7 L487.0,135.8 L488.0,137.6 L489.0,136.4 L490.0,136.5 L491.0,134.7 L492.0,137.5 L493.0,137.4 L494.0,137.4 L495.0,137.6 L496.0,138.1 L497.0,136.9 L498.0,137.6 L499.0,136.5 L500.0,136.8 L501.0,137.8 L502.0,137.4 L503.0,136.2 L504.0,137.4 L505.0,137.1 L506.0,136.7 L507.0,137.6 L508.0,137.0 L509.0,136.2 L510.0,136.6 L511.0,138.6 L512.0,136.3 L513.0,137.6" fill="none" stroke="#3d68b0" stroke-width="1.7" stroke-linejoin="round" stroke-linecap="round" />
</g>
<rect x="312" y="14.8" width="200.8" height="137.8" fill="none" stroke="#6b6b6b" stroke-width="1.3"/>
<line x1="312" y1="130" x2="316" y2="130" stroke="#4a4a4a" stroke-width="1.1" />
<line x1="512.8" y1="130" x2="508.8" y2="130" stroke="#4a4a4a" stroke-width="1.1" />
<line x1="312" y1="37" x2="316" y2="37" stroke="#4a4a4a" stroke-width="1.1" />
<line x1="512.8" y1="37" x2="508.8" y2="37" stroke="#4a4a4a" stroke-width="1.1" />
<line x1="312" y1="152.6" x2="312" y2="148.6" stroke="#4a4a4a" stroke-width="1.1" />
<line x1="312" y1="14.8" x2="312" y2="18.8" stroke="#4a4a4a" stroke-width="1.1" />
<line x1="362.2" y1="152.6" x2="362.2" y2="148.6" stroke="#4a4a4a" stroke-width="1.1" />
<line x1="362.2" y1="14.8" x2="362.2" y2="18.8" stroke="#4a4a4a" stroke-width="1.1" />
<line x1="412.6" y1="152.6" x2="412.6" y2="148.6" stroke="#4a4a4a" stroke-width="1.1" />
<line x1="412.6" y1="14.8" x2="412.6" y2="18.8" stroke="#4a4a4a" stroke-width="1.1" />
<line x1="462.7" y1="152.6" x2="462.7" y2="148.6" stroke="#4a4a4a" stroke-width="1.1" />
<line x1="462.7" y1="14.8" x2="462.7" y2="18.8" stroke="#4a4a4a" stroke-width="1.1" />
<line x1="512.8" y1="152.6" x2="512.8" y2="148.6" stroke="#4a4a4a" stroke-width="1.1" />
<line x1="512.8" y1="14.8" x2="512.8" y2="18.8" stroke="#4a4a4a" stroke-width="1.1" />
<text x="307" y="43.6" font-size="17.6" text-anchor="end" fill="#1c1c1c" >13</text>
<text x="307" y="136.6" font-size="17.6" text-anchor="end" fill="#1c1c1c" >10</text>
<text x="307.6" y="171.2" font-size="17.6" text-anchor="middle" fill="#1c1c1c" >-10</text>
<text x="362.5" y="171.2" font-size="17.6" text-anchor="middle" fill="#1c1c1c" >-5</text>
<text x="413.1" y="171.2" font-size="17.6" text-anchor="middle" fill="#1c1c1c" >0</text>
<text x="462.3" y="171.2" font-size="17.6" text-anchor="middle" fill="#1c1c1c" >5</text>
<text x="505" y="171.2" font-size="17.6" text-anchor="middle" fill="#1c1c1c" >10</text>
<text x="411.5" y="186.5" font-size="17.9" text-anchor="middle" fill="#1c1c1c" >Voltage (mV)</text>
<text transform="translate(278.6,89.3) rotate(-90)" x="0" y="0" font-size="17.2" text-anchor="middle" dominant-baseline="central" fill="#1c1c1c">d<tspan font-style="italic">I</tspan>/d<tspan font-style="italic">V</tspan> (nS)</text>
<line x1="451" y1="28.2" x2="464.5" y2="28.2" stroke="#5570c0" stroke-width="1.6" />
<line x1="451" y1="47.4" x2="464.5" y2="47.4" stroke="#6a1f78" stroke-width="1.6" />
<text x="468.6" y="32.9" font-size="12.8" text-anchor="start" fill="#1c1c1c" textLength=" lengthAdjust="spacingAndGlyphs"32.2" >1.3 K</text>
<text x="468.2" y="51.7" font-size="12.8" text-anchor="start" fill="#1c1c1c" textLength=" lengthAdjust="spacingAndGlyphs"32.2" >9.0 K</text>
<text x="476.2" y="69.8" font-size="13" text-anchor="start" fill="#1c1c1c" >TiH<tspan font-size="7.8" dy="4.0">B</tspan></text>
<text x="255.6" y="208.3" font-size="19.5" text-anchor="start" fill="#1c1c1c" >(c)</text>
<rect x="312.2" y="219.6" width="200.8" height="134.8" fill="none" stroke="#6b6b6b" stroke-width="1.3"/>
<line x1="312.2" y1="319" x2="316.2" y2="319" stroke="#4a4a4a" stroke-width="1.1" />
<line x1="513" y1="319" x2="509" y2="319" stroke="#4a4a4a" stroke-width="1.1" />
<line x1="312.2" y1="283" x2="316.2" y2="283" stroke="#4a4a4a" stroke-width="1.1" />
<line x1="513" y1="283" x2="509" y2="283" stroke="#4a4a4a" stroke-width="1.1" />
<line x1="312.2" y1="247" x2="316.2" y2="247" stroke="#4a4a4a" stroke-width="1.1" />
<line x1="513" y1="247" x2="509" y2="247" stroke="#4a4a4a" stroke-width="1.1" />
<line x1="336.6" y1="354.4" x2="336.6" y2="350.4" stroke="#4a4a4a" stroke-width="1.1" />
<line x1="336.6" y1="219.6" x2="336.6" y2="223.6" stroke="#4a4a4a" stroke-width="1.1" />
<line x1="378.2" y1="354.4" x2="378.2" y2="350.4" stroke="#4a4a4a" stroke-width="1.1" />
<line x1="378.2" y1="219.6" x2="378.2" y2="223.6" stroke="#4a4a4a" stroke-width="1.1" />
<line x1="419.8" y1="354.4" x2="419.8" y2="350.4" stroke="#4a4a4a" stroke-width="1.1" />
<line x1="419.8" y1="219.6" x2="419.8" y2="223.6" stroke="#4a4a4a" stroke-width="1.1" />
<line x1="461.4" y1="354.4" x2="461.4" y2="350.4" stroke="#4a4a4a" stroke-width="1.1" />
<line x1="461.4" y1="219.6" x2="461.4" y2="223.6" stroke="#4a4a4a" stroke-width="1.1" />
<line x1="503" y1="354.4" x2="503" y2="350.4" stroke="#4a4a4a" stroke-width="1.1" />
<line x1="503" y1="219.6" x2="503" y2="223.6" stroke="#4a4a4a" stroke-width="1.1" />
<path d="M321.0,226.1 L336.2,249.2 L378.8,297.4 L419.8,329.1 L461.8,345.6 L502.4,352.5" fill="none" stroke="#222" stroke-width="1.4" stroke-linejoin="round" stroke-linecap="round" stroke-dasharray="7 4.5" stroke-linecap="butt"/>
<circle cx="321.0" cy="226.1" r="3.9" fill="none" stroke="#7aa2cc" stroke-width="1.0"/>
<line x1="321" y1="223.1" x2="321" y2="229.1" stroke="#111" stroke-width="1.0" />
<circle cx="336.2" cy="249.2" r="3.9" fill="none" stroke="#7aa2cc" stroke-width="1.0"/>
<line x1="336.2" y1="246.2" x2="336.2" y2="252.2" stroke="#111" stroke-width="1.0" />
<circle cx="378.8" cy="297.4" r="3.9" fill="none" stroke="#7aa2cc" stroke-width="1.0"/>
<line x1="378.8" y1="294.4" x2="378.8" y2="300.4" stroke="#111" stroke-width="1.0" />
<circle cx="419.8" cy="329.1" r="3.9" fill="none" stroke="#7aa2cc" stroke-width="1.0"/>
<line x1="419.8" y1="326.1" x2="419.8" y2="332.1" stroke="#111" stroke-width="1.0" />
<circle cx="461.8" cy="345.6" r="3.9" fill="none" stroke="#7aa2cc" stroke-width="1.0"/>
<line x1="461.8" y1="342.6" x2="461.8" y2="348.6" stroke="#111" stroke-width="1.0" />
<circle cx="502.4" cy="352.5" r="3.9" fill="none" stroke="#7aa2cc" stroke-width="1.0"/>
<line x1="502.4" y1="349.5" x2="502.4" y2="355.5" stroke="#111" stroke-width="1.0" />
<text x="337.3" y="372.6" font-size="17.6" text-anchor="middle" fill="#1c1c1c" >2</text>
<text x="376.9" y="372.6" font-size="17.6" text-anchor="middle" fill="#1c1c1c" >4</text>
<text x="418" y="372.6" font-size="17.6" text-anchor="middle" fill="#1c1c1c" >6</text>
<text x="460.4" y="372.6" font-size="17.6" text-anchor="middle" fill="#1c1c1c" >8</text>
<text x="500" y="372.6" font-size="17.6" text-anchor="middle" fill="#1c1c1c" >10</text>
<text x="414.2" y="388.2" font-size="17.9" text-anchor="middle" fill="#1c1c1c" >Temperature (K)</text>
<text transform="translate(276.8,286.5) rotate(-90)" x="0" y="0" font-size="17.35" text-anchor="middle" dominant-baseline="central" fill="#1c1c1c">ESR intensity (pA)</text>
<text x="307" y="325.4" font-size="17.6" text-anchor="end" fill="#1c1c1c" >1</text>
<text x="307" y="289.4" font-size="17.6" text-anchor="end" fill="#1c1c1c" >2</text>
<text x="307" y="253.4" font-size="17.6" text-anchor="end" fill="#1c1c1c" >3</text>
<text x="254.4" y="410.3" font-size="19.5" text-anchor="start" fill="#1c1c1c" >(d)</text>
<rect x="312" y="419.8" width="200.9" height="137.1" fill="none" stroke="#6b6b6b" stroke-width="1.3"/>
<line x1="312" y1="550.6" x2="316" y2="550.6" stroke="#4a4a4a" stroke-width="1.1" />
<line x1="512.9" y1="550.6" x2="508.9" y2="550.6" stroke="#4a4a4a" stroke-width="1.1" />
<line x1="312" y1="487.7" x2="316" y2="487.7" stroke="#4a4a4a" stroke-width="1.1" />
<line x1="512.9" y1="487.7" x2="508.9" y2="487.7" stroke="#4a4a4a" stroke-width="1.1" />
<line x1="312" y1="424.8" x2="316" y2="424.8" stroke="#4a4a4a" stroke-width="1.1" />
<line x1="512.9" y1="424.8" x2="508.9" y2="424.8" stroke="#4a4a4a" stroke-width="1.1" />
<line x1="332.8" y1="556.9" x2="332.8" y2="552.9" stroke="#4a4a4a" stroke-width="1.1" />
<line x1="332.8" y1="419.8" x2="332.8" y2="423.8" stroke="#4a4a4a" stroke-width="1.1" />
<line x1="375.4" y1="556.9" x2="375.4" y2="552.9" stroke="#4a4a4a" stroke-width="1.1" />
<line x1="375.4" y1="419.8" x2="375.4" y2="423.8" stroke="#4a4a4a" stroke-width="1.1" />
<line x1="418" y1="556.9" x2="418" y2="552.9" stroke="#4a4a4a" stroke-width="1.1" />
<line x1="418" y1="419.8" x2="418" y2="423.8" stroke="#4a4a4a" stroke-width="1.1" />
<line x1="460.6" y1="556.9" x2="460.6" y2="552.9" stroke="#4a4a4a" stroke-width="1.1" />
<line x1="460.6" y1="419.8" x2="460.6" y2="423.8" stroke="#4a4a4a" stroke-width="1.1" />
<line x1="503.2" y1="556.9" x2="503.2" y2="552.9" stroke="#4a4a4a" stroke-width="1.1" />
<line x1="503.2" y1="419.8" x2="503.2" y2="423.8" stroke="#4a4a4a" stroke-width="1.1" />
<path d="M317.9,546.5 L332.8,517.9 L375.4,490.2 L418.0,496.5 L460.6,435.8 L503.2,520.4" fill="none" stroke="#222" stroke-width="1.4" stroke-linejoin="round" stroke-linecap="round" stroke-dasharray="7 4.5" stroke-linecap="butt"/>
<circle cx="317.9" cy="546.5" r="4.2" fill="none" stroke="#7aa2cc" stroke-width="1.0"/>
<line x1="317.9" y1="540.2" x2="317.9" y2="552.8" stroke="#111" stroke-width="1.1" />
<line x1="316.3" y1="540.2" x2="319.5" y2="540.2" stroke="#111" stroke-width="1.1" />
<line x1="316.3" y1="552.8" x2="319.5" y2="552.8" stroke="#111" stroke-width="1.1" />
<circle cx="332.8" cy="517.9" r="4.2" fill="none" stroke="#7aa2cc" stroke-width="1.0"/>
<line x1="332.8" y1="513.2" x2="332.8" y2="522.6" stroke="#111" stroke-width="1.1" />
<line x1="331.2" y1="513.2" x2="334.4" y2="513.2" stroke="#111" stroke-width="1.1" />
<line x1="331.2" y1="522.6" x2="334.4" y2="522.6" stroke="#111" stroke-width="1.1" />
<circle cx="375.4" cy="490.2" r="4.2" fill="none" stroke="#7aa2cc" stroke-width="1.0"/>
<line x1="375.4" y1="484.2" x2="375.4" y2="496.2" stroke="#111" stroke-width="1.1" />
<line x1="373.8" y1="484.2" x2="377" y2="484.2" stroke="#111" stroke-width="1.1" />
<line x1="373.8" y1="496.2" x2="377" y2="496.2" stroke="#111" stroke-width="1.1" />
<circle cx="418.0" cy="496.5" r="4.2" fill="none" stroke="#7aa2cc" stroke-width="1.0"/>
<line x1="418" y1="491.2" x2="418" y2="501.9" stroke="#111" stroke-width="1.1" />
<line x1="416.4" y1="491.2" x2="419.6" y2="491.2" stroke="#111" stroke-width="1.1" />
<line x1="416.4" y1="501.9" x2="419.6" y2="501.9" stroke="#111" stroke-width="1.1" />
<circle cx="460.6" cy="435.8" r="4.2" fill="none" stroke="#7aa2cc" stroke-width="1.0"/>
<line x1="460.6" y1="426.1" x2="460.6" y2="445.6" stroke="#111" stroke-width="1.1" />
<line x1="459" y1="426.1" x2="462.2" y2="426.1" stroke="#111" stroke-width="1.1" />
<line x1="459" y1="445.6" x2="462.2" y2="445.6" stroke="#111" stroke-width="1.1" />
<circle cx="503.2" cy="520.4" r="4.2" fill="none" stroke="#7aa2cc" stroke-width="1.0"/>
<line x1="503.2" y1="485.8" x2="503.2" y2="555" stroke="#111" stroke-width="1.1" />
<line x1="501.6" y1="485.8" x2="504.8" y2="485.8" stroke="#111" stroke-width="1.1" />
<line x1="501.6" y1="555" x2="504.8" y2="555" stroke="#111" stroke-width="1.1" />
<text x="334.2" y="576" font-size="17.6" text-anchor="middle" fill="#1c1c1c" >2</text>
<text x="375.8" y="576" font-size="17.6" text-anchor="middle" fill="#1c1c1c" >4</text>
<text x="418" y="576" font-size="17.6" text-anchor="middle" fill="#1c1c1c" >6</text>
<text x="461.3" y="576" font-size="17.6" text-anchor="middle" fill="#1c1c1c" >8</text>
<text x="501.5" y="576" font-size="17.6" text-anchor="middle" fill="#1c1c1c" >10</text>
<text x="414.2" y="590.8" font-size="17.9" text-anchor="middle" fill="#1c1c1c" >Temperature (K)</text>
<text transform="translate(278,485.6) rotate(-90)" x="0" y="0" font-size="17.9" text-anchor="middle" dominant-baseline="central" fill="#1c1c1c">Linewidth (MHz)</text>
<text x="308" y="557" font-size="17.6" text-anchor="end" fill="#1c1c1c" >40</text>
<text x="308" y="494.1" font-size="17.6" text-anchor="end" fill="#1c1c1c" >60</text>
<text x="308" y="431.2" font-size="17.6" text-anchor="end" fill="#1c1c1c" >80</text>
<text x="254.4" y="616.4" font-size="19.5" text-anchor="start" fill="#1c1c1c" >(e)</text>
<clipPath id="ce"><rect x="312.4" y="616.9" width="199.6" height="137.8"/></clipPath>
<g clip-path="url(#ce)">
<g fill="none" stroke="#a9c9e8" stroke-width="0.8" stroke-opacity="0.85"><circle cx="313.4" cy="732.0" r="1.7"/><circle cx="314.2" cy="732.5" r="1.7"/><circle cx="315.1" cy="697.0" r="1.7"/><circle cx="315.9" cy="714.1" r="1.7"/><circle cx="316.7" cy="722.8" r="1.7"/><circle cx="317.5" cy="735.3" r="1.7"/><circle cx="318.4" cy="707.7" r="1.7"/><circle cx="319.2" cy="697.8" r="1.7"/><circle cx="320.0" cy="738.8" r="1.7"/><circle cx="320.8" cy="740.7" r="1.7"/><circle cx="321.7" cy="726.7" r="1.7"/><circle cx="322.5" cy="708.0" r="1.7"/><circle cx="323.3" cy="727.2" r="1.7"/><circle cx="324.1" cy="721.4" r="1.7"/><circle cx="325.0" cy="735.2" r="1.7"/><circle cx="325.8" cy="695.4" r="1.7"/><circle cx="326.6" cy="721.3" r="1.7"/><circle cx="327.5" cy="715.9" r="1.7"/><circle cx="328.3" cy="697.8" r="1.7"/><circle cx="329.1" cy="722.8" r="1.7"/><circle cx="329.9" cy="719.3" r="1.7"/><circle cx="330.8" cy="710.7" r="1.7"/><circle cx="331.6" cy="725.9" r="1.7"/><circle cx="332.4" cy="691.3" r="1.7"/><circle cx="333.2" cy="717.2" r="1.7"/><circle cx="334.1" cy="726.3" r="1.7"/><circle cx="334.9" cy="723.3" r="1.7"/><circle cx="335.7" cy="738.3" r="1.7"/><circle cx="336.5" cy="694.9" r="1.7"/><circle cx="337.4" cy="688.9" r="1.7"/><circle cx="338.2" cy="722.0" r="1.7"/><circle cx="339.0" cy="725.9" r="1.7"/><circle cx="339.9" cy="757.4" r="1.7"/><circle cx="340.7" cy="728.7" r="1.7"/><circle cx="341.5" cy="700.2" r="1.7"/><circle cx="342.3" cy="732.0" r="1.7"/><circle cx="343.2" cy="700.5" r="1.7"/><circle cx="344.0" cy="688.2" r="1.7"/><circle cx="344.8" cy="765.8" r="1.7"/><circle cx="345.6" cy="722.2" r="1.7"/><circle cx="346.5" cy="729.5" r="1.7"/><circle cx="347.3" cy="726.4" r="1.7"/><circle cx="348.1" cy="750.0" r="1.7"/><circle cx="349.0" cy="720.7" r="1.7"/><circle cx="349.8" cy="738.3" r="1.7"/><circle cx="350.6" cy="695.4" r="1.7"/><circle cx="351.4" cy="688.3" r="1.7"/><circle cx="352.3" cy="741.7" r="1.7"/><circle cx="353.1" cy="742.4" r="1.7"/><circle cx="353.9" cy="723.8" r="1.7"/><circle cx="354.7" cy="718.2" r="1.7"/><circle cx="355.6" cy="716.8" r="1.7"/><circle cx="356.4" cy="700.4" r="1.7"/><circle cx="357.2" cy="742.4" r="1.7"/><circle cx="358.0" cy="725.5" r="1.7"/><circle cx="358.9" cy="722.3" r="1.7"/><circle cx="359.7" cy="719.6" r="1.7"/><circle cx="360.5" cy="732.1" r="1.7"/><circle cx="361.4" cy="721.5" r="1.7"/><circle cx="362.2" cy="725.8" r="1.7"/><circle cx="363.0" cy="689.1" r="1.7"/><circle cx="363.8" cy="720.7" r="1.7"/><circle cx="364.7" cy="752.2" r="1.7"/><circle cx="365.5" cy="700.5" r="1.7"/><circle cx="366.3" cy="707.6" r="1.7"/><circle cx="367.1" cy="726.6" r="1.7"/><circle cx="368.0" cy="727.5" r="1.7"/><circle cx="368.8" cy="720.8" r="1.7"/><circle cx="369.6" cy="677.8" r="1.7"/><circle cx="370.4" cy="717.7" r="1.7"/><circle cx="371.3" cy="685.3" r="1.7"/><circle cx="372.1" cy="691.7" r="1.7"/><circle cx="372.9" cy="717.3" r="1.7"/><circle cx="373.8" cy="700.9" r="1.7"/><circle cx="374.6" cy="721.4" r="1.7"/><circle cx="375.4" cy="765.3" r="1.7"/><circle cx="376.2" cy="719.8" r="1.7"/><circle cx="377.1" cy="718.2" r="1.7"/><circle cx="377.9" cy="687.0" r="1.7"/><circle cx="378.7" cy="691.2" r="1.7"/><circle cx="379.5" cy="682.6" r="1.7"/><circle cx="380.4" cy="692.1" r="1.7"/><circle cx="381.2" cy="680.9" r="1.7"/><circle cx="382.0" cy="688.4" r="1.7"/><circle cx="382.8" cy="696.3" r="1.7"/><circle cx="383.7" cy="680.6" r="1.7"/><circle cx="384.5" cy="671.9" r="1.7"/><circle cx="385.3" cy="672.2" r="1.7"/><circle cx="386.2" cy="705.9" r="1.7"/><circle cx="387.0" cy="697.6" r="1.7"/><circle cx="387.8" cy="715.1" r="1.7"/><circle cx="388.6" cy="714.6" r="1.7"/><circle cx="389.5" cy="687.3" r="1.7"/><circle cx="390.3" cy="705.6" r="1.7"/><circle cx="391.1" cy="664.5" r="1.7"/><circle cx="391.9" cy="734.2" r="1.7"/><circle cx="392.8" cy="712.4" r="1.7"/><circle cx="393.6" cy="684.5" r="1.7"/><circle cx="394.4" cy="665.3" r="1.7"/><circle cx="395.3" cy="693.3" r="1.7"/><circle cx="396.1" cy="649.3" r="1.7"/><circle cx="396.9" cy="668.7" r="1.7"/><circle cx="397.7" cy="696.3" r="1.7"/><circle cx="398.6" cy="682.1" r="1.7"/><circle cx="399.4" cy="669.8" r="1.7"/><circle cx="400.2" cy="695.6" r="1.7"/><circle cx="401.0" cy="656.2" r="1.7"/><circle cx="401.9" cy="679.7" r="1.7"/><circle cx="402.7" cy="663.1" r="1.7"/><circle cx="403.5" cy="654.7" r="1.7"/><circle cx="404.3" cy="677.7" r="1.7"/><circle cx="405.2" cy="648.2" r="1.7"/><circle cx="406.0" cy="701.3" r="1.7"/><circle cx="406.8" cy="652.1" r="1.7"/><circle cx="407.7" cy="699.0" r="1.7"/><circle cx="408.5" cy="638.5" r="1.7"/><circle cx="409.3" cy="668.8" r="1.7"/><circle cx="410.1" cy="632.5" r="1.7"/><circle cx="411.0" cy="628.0" r="1.7"/><circle cx="411.8" cy="654.6" r="1.7"/><circle cx="412.6" cy="662.7" r="1.7"/><circle cx="413.4" cy="624.0" r="1.7"/><circle cx="414.3" cy="669.3" r="1.7"/><circle cx="415.1" cy="630.3" r="1.7"/><circle cx="415.9" cy="646.9" r="1.7"/><circle cx="416.7" cy="650.8" r="1.7"/><circle cx="417.6" cy="654.3" r="1.7"/><circle cx="418.4" cy="608.6" r="1.7"/><circle cx="419.2" cy="673.6" r="1.7"/><circle cx="420.1" cy="653.9" r="1.7"/><circle cx="420.9" cy="635.9" r="1.7"/><circle cx="421.7" cy="625.7" r="1.7"/><circle cx="422.5" cy="614.4" r="1.7"/><circle cx="423.4" cy="622.4" r="1.7"/><circle cx="424.2" cy="660.6" r="1.7"/><circle cx="425.0" cy="645.9" r="1.7"/><circle cx="425.8" cy="633.2" r="1.7"/><circle cx="426.7" cy="647.2" r="1.7"/><circle cx="427.5" cy="689.6" r="1.7"/><circle cx="428.3" cy="656.4" r="1.7"/><circle cx="429.1" cy="654.5" r="1.7"/><circle cx="430.0" cy="694.2" r="1.7"/><circle cx="430.8" cy="680.3" r="1.7"/><circle cx="431.6" cy="675.3" r="1.7"/><circle cx="432.5" cy="665.9" r="1.7"/><circle cx="433.3" cy="650.8" r="1.7"/><circle cx="434.1" cy="660.9" r="1.7"/><circle cx="434.9" cy="676.8" r="1.7"/><circle cx="435.8" cy="684.4" r="1.7"/><circle cx="436.6" cy="697.9" r="1.7"/><circle cx="437.4" cy="704.1" r="1.7"/><circle cx="438.2" cy="700.2" r="1.7"/><circle cx="439.1" cy="702.4" r="1.7"/><circle cx="439.9" cy="681.2" r="1.7"/><circle cx="440.7" cy="661.5" r="1.7"/><circle cx="441.6" cy="694.4" r="1.7"/><circle cx="442.4" cy="688.0" r="1.7"/><circle cx="443.2" cy="695.4" r="1.7"/><circle cx="444.0" cy="704.2" r="1.7"/><circle cx="444.9" cy="687.3" r="1.7"/><circle cx="445.7" cy="691.3" r="1.7"/><circle cx="446.5" cy="711.8" r="1.7"/><circle cx="447.3" cy="717.2" r="1.7"/><circle cx="448.2" cy="703.7" r="1.7"/><circle cx="449.0" cy="726.7" r="1.7"/><circle cx="449.8" cy="714.1" r="1.7"/><circle cx="450.6" cy="699.9" r="1.7"/><circle cx="451.5" cy="720.9" r="1.7"/><circle cx="452.3" cy="756.8" r="1.7"/><circle cx="453.1" cy="709.0" r="1.7"/><circle cx="454.0" cy="744.7" r="1.7"/><circle cx="454.8" cy="749.4" r="1.7"/><circle cx="455.6" cy="752.4" r="1.7"/><circle cx="456.4" cy="708.9" r="1.7"/><circle cx="457.3" cy="763.4" r="1.7"/><circle cx="458.1" cy="727.9" r="1.7"/><circle cx="458.9" cy="721.4" r="1.7"/><circle cx="459.7" cy="722.3" r="1.7"/><circle cx="460.6" cy="738.5" r="1.7"/><circle cx="461.4" cy="728.5" r="1.7"/><circle cx="462.2" cy="724.6" r="1.7"/><circle cx="463.0" cy="752.7" r="1.7"/><circle cx="463.9" cy="714.9" r="1.7"/><circle cx="464.7" cy="709.2" r="1.7"/><circle cx="465.5" cy="744.4" r="1.7"/><circle cx="466.4" cy="742.9" r="1.7"/><circle cx="467.2" cy="750.6" r="1.7"/><circle cx="468.0" cy="709.7" r="1.7"/><circle cx="468.8" cy="750.9" r="1.7"/><circle cx="469.7" cy="739.7" r="1.7"/><circle cx="470.5" cy="764.3" r="1.7"/><circle cx="471.3" cy="707.3" r="1.7"/><circle cx="472.1" cy="735.3" r="1.7"/><circle cx="473.0" cy="726.1" r="1.7"/><circle cx="473.8" cy="701.3" r="1.7"/><circle cx="474.6" cy="718.1" r="1.7"/><circle cx="475.4" cy="753.3" r="1.7"/><circle cx="476.3" cy="723.1" r="1.7"/><circle cx="477.1" cy="718.4" r="1.7"/><circle cx="477.9" cy="748.7" r="1.7"/><circle cx="478.8" cy="751.2" r="1.7"/><circle cx="479.6" cy="751.2" r="1.7"/><circle cx="480.4" cy="717.6" r="1.7"/><circle cx="481.2" cy="731.6" r="1.7"/><circle cx="482.1" cy="752.4" r="1.7"/><circle cx="482.9" cy="720.4" r="1.7"/><circle cx="483.7" cy="718.7" r="1.7"/><circle cx="484.5" cy="748.8" r="1.7"/><circle cx="485.4" cy="762.8" r="1.7"/><circle cx="486.2" cy="711.3" r="1.7"/><circle cx="487.0" cy="683.9" r="1.7"/><circle cx="487.9" cy="705.7" r="1.7"/><circle cx="488.7" cy="714.1" r="1.7"/><circle cx="489.5" cy="730.8" r="1.7"/><circle cx="490.3" cy="745.2" r="1.7"/><circle cx="491.2" cy="730.7" r="1.7"/><circle cx="492.0" cy="720.3" r="1.7"/><circle cx="492.8" cy="736.5" r="1.7"/><circle cx="493.6" cy="715.4" r="1.7"/><circle cx="494.5" cy="732.8" r="1.7"/><circle cx="495.3" cy="721.5" r="1.7"/><circle cx="496.1" cy="784.7" r="1.7"/><circle cx="496.9" cy="749.3" r="1.7"/><circle cx="497.8" cy="717.9" r="1.7"/><circle cx="498.6" cy="714.9" r="1.7"/><circle cx="499.4" cy="725.5" r="1.7"/><circle cx="500.3" cy="702.6" r="1.7"/><circle cx="501.1" cy="720.0" r="1.7"/><circle cx="501.9" cy="719.9" r="1.7"/><circle cx="502.7" cy="750.7" r="1.7"/><circle cx="503.6" cy="725.9" r="1.7"/><circle cx="504.4" cy="719.0" r="1.7"/><circle cx="505.2" cy="708.5" r="1.7"/><circle cx="506.0" cy="711.7" r="1.7"/><circle cx="506.9" cy="732.8" r="1.7"/><circle cx="507.7" cy="730.0" r="1.7"/><circle cx="508.5" cy="755.6" r="1.7"/><circle cx="509.3" cy="722.1" r="1.7"/><circle cx="510.2" cy="754.2" r="1.7"/><circle cx="511.0" cy="739.0" r="1.7"/></g>
<path d="M312.4,720.5 L312.9,720.5 L313.4,720.4 L313.9,720.4 L314.4,720.3 L314.9,720.3 L315.4,720.3 L315.9,720.2 L316.4,720.2 L316.9,720.1 L317.4,720.1 L317.9,720.0 L318.4,720.0 L318.9,719.9 L319.4,719.9 L319.9,719.8 L320.4,719.8 L320.9,719.7 L321.4,719.7 L321.9,719.6 L322.4,719.5 L322.9,719.5 L323.4,719.4 L323.9,719.4 L324.4,719.3 L324.9,719.3 L325.4,719.2 L325.9,719.1 L326.4,719.1 L326.9,719.0 L327.4,719.0 L327.9,718.9 L328.4,718.8 L328.9,718.8 L329.4,718.7 L329.9,718.6 L330.4,718.6 L330.9,718.5 L331.4,718.4 L331.9,718.4 L332.4,718.3 L332.9,718.2 L333.4,718.2 L333.9,718.1 L334.4,718.0 L334.9,717.9 L335.4,717.9 L335.9,717.8 L336.4,717.7 L336.9,717.6 L337.4,717.5 L337.9,717.5 L338.4,717.4 L338.9,717.3 L339.4,717.2 L339.9,717.1 L340.4,717.0 L340.9,717.0 L341.4,716.9 L341.9,716.8 L342.4,716.7 L342.9,716.6 L343.4,716.5 L343.9,716.4 L344.4,716.3 L344.9,716.2 L345.4,716.1 L345.9,716.0 L346.4,715.9 L346.9,715.8 L347.4,715.7 L347.9,715.6 L348.4,715.5 L348.9,715.4 L349.4,715.2 L349.9,715.1 L350.4,715.0 L350.9,714.9 L351.4,714.8 L351.9,714.6 L352.4,714.5 L352.9,714.4 L353.4,714.3 L353.9,714.1 L354.4,714.0 L354.9,713.9 L355.4,713.7 L355.9,713.6 L356.4,713.4 L356.9,713.3 L357.4,713.2 L357.9,713.0 L358.4,712.9 L358.9,712.7 L359.4,712.5 L359.9,712.4 L360.4,712.2 L360.9,712.0 L361.4,711.9 L361.9,711.7 L362.4,711.5 L362.9,711.3 L363.4,711.2 L363.9,711.0 L364.4,710.8 L364.9,710.6 L365.4,710.4 L365.9,710.2 L366.4,710.0 L366.9,709.8 L367.4,709.6 L367.9,709.4 L368.4,709.1 L368.9,708.9 L369.4,708.7 L369.9,708.5 L370.4,708.2 L370.9,708.0 L371.4,707.7 L371.9,707.5 L372.4,707.2 L372.9,706.9 L373.4,706.7 L373.9,706.4 L374.4,706.1 L374.9,705.8 L375.4,705.5 L375.9,705.2 L376.4,704.9 L376.9,704.6 L377.4,704.3 L377.9,704.0 L378.4,703.6 L378.9,703.3 L379.4,702.9 L379.9,702.6 L380.4,702.2 L380.9,701.8 L381.4,701.4 L381.9,701.1 L382.4,700.7 L382.9,700.2 L383.4,699.8 L383.9,699.4 L384.4,698.9 L384.9,698.5 L385.4,698.0 L385.9,697.6 L386.4,697.1 L386.9,696.6 L387.4,696.1 L387.9,695.5 L388.4,695.0 L388.9,694.4 L389.4,693.9 L389.9,693.3 L390.4,692.7 L390.9,692.1 L391.4,691.5 L391.9,690.8 L392.4,690.2 L392.9,689.5 L393.4,688.8 L393.9,688.1 L394.4,687.4 L394.9,686.6 L395.4,685.9 L395.9,685.1 L396.4,684.3 L396.9,683.5 L397.4,682.7 L397.9,681.8 L398.4,680.9 L398.9,680.0 L399.4,679.1 L399.9,678.2 L400.4,677.2 L400.9,676.2 L401.4,675.2 L401.9,674.2 L402.4,673.2 L402.9,672.1 L403.4,671.0 L403.9,669.9 L404.4,668.8 L404.9,667.7 L405.4,666.5 L405.9,665.4 L406.4,664.2 L406.9,663.0 L407.4,661.8 L407.9,660.6 L408.4,659.4 L408.9,658.2 L409.4,657.1 L409.9,655.9 L410.4,654.7 L410.9,653.6 L411.4,652.4 L411.9,651.4 L412.4,650.3 L412.9,649.3 L413.4,648.3 L413.9,647.4 L414.4,646.5 L414.9,645.7 L415.4,645.0 L415.9,644.4 L416.4,643.9 L416.9,643.4 L417.4,643.1 L417.9,642.9 L418.4,642.7 L418.9,642.7 L419.4,642.9 L419.9,643.1 L420.4,643.5 L420.9,644.0 L421.4,644.7 L421.9,645.5 L422.4,646.4 L422.9,647.3 L423.4,648.4 L423.9,649.5 L424.4,650.7 L424.9,652.0 L425.4,653.4 L425.9,654.9 L426.4,656.4 L426.9,658.0 L427.4,659.6 L427.9,661.3 L428.4,663.0 L428.9,664.7 L429.4,666.5 L429.9,668.3 L430.4,670.1 L430.9,671.9 L431.4,673.7 L431.9,675.5 L432.4,677.2 L432.9,679.0 L433.4,680.7 L433.9,682.5 L434.4,684.2 L434.9,685.8 L435.4,687.4 L435.9,689.0 L436.4,690.6 L436.9,692.1 L437.4,693.6 L437.9,695.0 L438.4,696.4 L438.9,697.8 L439.4,699.1 L439.9,700.4 L440.4,701.6 L440.9,702.8 L441.4,704.0 L441.9,705.1 L442.4,706.2 L442.9,707.2 L443.4,708.2 L443.9,709.2 L444.4,710.1 L444.9,711.0 L445.4,711.9 L445.9,712.7 L446.4,713.5 L446.9,714.3 L447.4,715.1 L447.9,715.8 L448.4,716.5 L448.9,717.1 L449.4,717.8 L449.9,718.4 L450.4,719.0 L450.9,719.5 L451.4,720.1 L451.9,720.6 L452.4,721.1 L452.9,721.6 L453.4,722.1 L453.9,722.5 L454.4,722.9 L454.9,723.4 L455.4,723.8 L455.9,724.1 L456.4,724.5 L456.9,724.9 L457.4,725.2 L457.9,725.5 L458.4,725.9 L458.9,726.2 L459.4,726.5 L459.9,726.7 L460.4,727.0 L460.9,727.3 L461.4,727.5 L461.9,727.8 L462.4,728.0 L462.9,728.2 L463.4,728.5 L463.9,728.7 L464.4,728.9 L464.9,729.1 L465.4,729.2 L465.9,729.4 L466.4,729.6 L466.9,729.8 L467.4,729.9 L467.9,730.1 L468.4,730.2 L468.9,730.4 L469.4,730.5 L469.9,730.6 L470.4,730.8 L470.9,730.9 L471.4,731.0 L471.9,731.1 L472.4,731.2 L472.9,731.4 L473.4,731.5 L473.9,731.6 L474.4,731.7 L474.9,731.8 L475.4,731.8 L475.9,731.9 L476.4,732.0 L476.9,732.1 L477.4,732.2 L477.9,732.2 L478.4,732.3 L478.9,732.4 L479.4,732.5 L479.9,732.5 L480.4,732.6 L480.9,732.6 L481.4,732.7 L481.9,732.8 L482.4,732.8 L482.9,732.9 L483.4,732.9 L483.9,733.0 L484.4,733.0 L484.9,733.1 L485.4,733.1 L485.9,733.1 L486.4,733.2 L486.9,733.2 L487.4,733.3 L487.9,733.3 L488.4,733.3 L488.9,733.4 L489.4,733.4 L489.9,733.4 L490.4,733.5 L490.9,733.5 L491.4,733.5 L491.9,733.6 L492.4,733.6 L492.9,733.6 L493.4,733.6 L493.9,733.7 L494.4,733.7 L494.9,733.7 L495.4,733.7 L495.9,733.7 L496.4,733.8 L496.9,733.8 L497.4,733.8 L497.9,733.8 L498.4,733.8 L498.9,733.8 L499.4,733.9 L499.9,733.9 L500.4,733.9 L500.9,733.9 L501.4,733.9 L501.9,733.9 L502.4,733.9 L502.9,734.0 L503.4,734.0 L503.9,734.0 L504.4,734.0 L504.9,734.0 L505.4,734.0 L505.9,734.0 L506.4,734.0 L506.9,734.0 L507.4,734.0 L507.9,734.0 L508.4,734.0 L508.9,734.1 L509.4,734.1 L509.9,734.1 L510.4,734.1 L510.9,734.1 L511.4,734.1 L511.9,734.1 L512.4,734.1" fill="none" stroke="#3a4a8c" stroke-width="1.4" stroke-linejoin="round" stroke-linecap="round" />
</g>
<rect x="312.4" y="616.9" width="199.6" height="137.8" fill="none" stroke="#6b6b6b" stroke-width="1.3"/>
<line x1="312.4" y1="633.8" x2="316.4" y2="633.8" stroke="#4a4a4a" stroke-width="1.1" />
<line x1="512" y1="633.8" x2="508" y2="633.8" stroke="#4a4a4a" stroke-width="1.1" />
<line x1="312.4" y1="725.8" x2="316.4" y2="725.8" stroke="#4a4a4a" stroke-width="1.1" />
<line x1="512" y1="725.8" x2="508" y2="725.8" stroke="#4a4a4a" stroke-width="1.1" />
<line x1="412.7" y1="754.7" x2="412.7" y2="750.7" stroke="#4a4a4a" stroke-width="1.1" />
<line x1="412.7" y1="616.9" x2="412.7" y2="620.9" stroke="#4a4a4a" stroke-width="1.1" />
<text x="307.6" y="642.3" font-size="17.6" text-anchor="end" fill="#1c1c1c" >10</text>
<text x="307.6" y="732.3" font-size="17.6" text-anchor="end" fill="#1c1c1c" >0</text>
<text x="321.9" y="772.6" font-size="17.6" text-anchor="middle" fill="#1c1c1c" >24.56</text>
<text x="411.1" y="772.6" font-size="17.6" text-anchor="middle" fill="#1c1c1c" >24.58</text>
<text x="503.8" y="772.6" font-size="17.6" text-anchor="middle" fill="#1c1c1c" >24.6</text>
<text x="413.2" y="790.7" font-size="17.9" text-anchor="middle" fill="#1c1c1c" >Frequency (GHz)</text>
<text transform="translate(278.2,682.1) rotate(-90)" x="0" y="0" font-size="18.4" text-anchor="middle" dominant-baseline="central" fill="#1c1c1c">Δ<tspan font-style="italic">I</tspan> (fA)</text>
<line x1="446" y1="647" x2="446" y2="726" stroke="#111" stroke-width="1.3" />
<path d="M443.4,649.5 L446,644.3 L448.6,649.5 Z" fill="#111"/>
<path d="M443.4,723.5 L446,728.7 L448.6,723.5 Z" fill="#111"/>
<text x="451.6" y="680.8" font-size="15.6" text-anchor="start" fill="#1c1c1c" >8.885 fA</text>
</svg>
</body></html>
